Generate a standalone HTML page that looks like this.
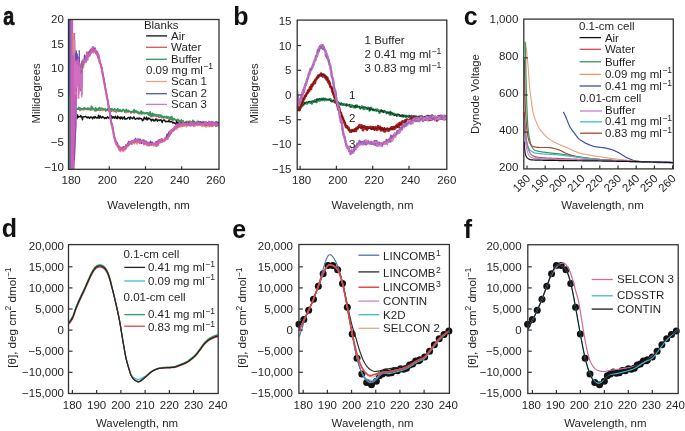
<!DOCTYPE html>
<html><head><meta charset="utf-8"><style>
html,body{margin:0;padding:0;background:#fff;}
svg{display:block;will-change:transform;}
text{font-family:"Liberation Sans", sans-serif;}
</style></head><body>
<svg width="685" height="431" viewBox="0 0 685 431">
<rect width="685" height="431" fill="#fff"/>
<text x="0" y="0" font-size="25" font-weight="bold" fill="#111" stroke="#111" stroke-width="0.7" transform="translate(3.2,24.6) scale(0.79,1)">a</text>
<text x="233.3" y="24.5" font-size="25" text-anchor="start" fill="#111" font-weight="bold" >b</text>
<text x="463.8" y="24.8" font-size="25" text-anchor="start" fill="#111" font-weight="bold" >c</text>
<text x="1.8" y="237.3" font-size="25" text-anchor="start" fill="#111" font-weight="bold" >d</text>
<text x="232.3" y="237.5" font-size="25" text-anchor="start" fill="#111" font-weight="bold" >e</text>
<text x="463.8" y="237.5" font-size="25" text-anchor="start" fill="#111" font-weight="bold" >f</text>
<clipPath id="ca"><rect x="68.5" y="19.5" width="150.5" height="149.8"/></clipPath>
<g clip-path="url(#ca)">
<path d="M77,109.53 L77.7,109.04 L78.4,109.12 L79.1,107.7 L79.8,110.68 L80.5,110.23 L81.2,109.21 L81.9,109.99 L82.6,109.65 L83.3,109.08 L84,110.16 L84.7,109.27 L85.4,109.27 L86.1,108.96 L86.8,109.85 L87.5,109.48 L88.2,109.94 L88.9,109.15 L89.6,109.68 L90.3,108.98 L91,110.21 L91.7,109.77 L92.4,109.89 L93.1,109.97 L93.8,109 L94.5,110.28 L95.2,111.2 L95.9,108.64 L96.6,108.6 L97.3,108.79 L98,110.46 L98.7,109.99 L99.4,110.69 L100.1,110.47 L100.8,110.14 L101.5,110.23 L102.2,109.94 L102.9,110.7 L103.6,109.34 L104.3,109.87 L105,110.37 L105.7,111.5 L106.4,109.74 L107.1,109.56 L107.8,109.96 L108.5,111.07 L109.2,110.27 L109.9,111.4 L110.6,109.21 L111.3,111.36 L112,111.34 L112.7,109.67 L113.4,110.81 L114.1,111.61 L114.8,110.87 L115.5,111.56 L116.2,112.57 L116.9,111.15 L117.6,110.82 L118.3,110.53 L119,111.57 L119.7,111.04 L120.4,111.11 L121.1,111.21 L121.8,111.8 L122.5,110.66 L123.2,110.39 L123.9,109.82 L124.6,112.42 L125.3,111.69 L126,112.76 L126.7,111.76 L127.4,111.31 L128.1,112.23 L128.8,111.9 L129.5,111.15 L130.2,111.47 L130.9,113.4 L131.6,112.48 L132.3,112.6 L133,112.19 L133.7,111.97 L134.4,113.15 L135.1,112.53 L135.8,112.16 L136.5,112.67 L137.2,112.22 L137.9,113.07 L138.6,113.81 L139.3,112.52 L140,114.2 L140.7,112.83 L141.4,113.5 L142.1,112.91 L142.8,113.44 L143.5,113.74 L144.2,113.52 L144.9,113.45 L145.6,113.58 L146.3,113.61 L147,113.21 L147.7,114.25 L148.4,114.85 L149.1,115.34 L149.8,115.29 L150.5,116.69 L151.2,115.33 L151.9,114.93 L152.6,116.7 L153.3,114.8 L154,116.35 L154.7,115.15 L155.4,116.21 L156.1,114.73 L156.8,116.88 L157.5,116.28 L158.2,115.86 L158.9,117.85 L159.6,117.36 L160.3,116.99 L161,116.58 L161.7,117.21 L162.4,117.26 L163.1,118.03 L163.8,118.22 L164.5,117.33 L165.2,117.56 L165.9,117.71 L166.6,117.28 L167.3,117.96 L168,118.45 L168.7,119.15 L169.4,119.74 L170.1,118.4 L170.8,119.5 L171.5,118.96 L172.2,120.89 L172.9,119.56 L173.6,120.11 L174.3,119.27 L175,119.53 L175.7,120.41 L176.4,120.18 L177.1,120.87 L177.8,119.74 L178.5,121.52 L179.2,120.68 L179.9,122.78 L180.6,121.63 L181.3,122.85 L182,121.34 L182.7,122.83 L183.4,122.09 L184.1,122.5 L184.8,122.95 L185.5,122.79 L186.2,123.27 L186.9,123.67 L187.6,123.67 L188.3,123.21 L189,122.38 L189.7,122.82 L190.4,123.3 L191.1,121.99 L191.8,124.05 L192.5,123.4 L193.2,123.43 L193.9,124.3 L194.6,124.14 L195.3,123.86 L196,123.04 L196.7,123.99 L197.4,124.04 L198.1,123.21 L198.8,124.58 L199.5,124.24 L200.2,122.53 L200.9,124.02 L201.6,123.07 L202.3,124.78 L203,124.58 L203.7,123.26 L204.4,123.44 L205.1,124.16 L205.8,123.94 L206.5,125.2 L207.2,124.68 L207.9,123.98 L208.6,124.61 L209.3,122.8 L210,124.46 L210.7,124.87 L211.4,124.15 L212.1,123.8 L212.8,124.71 L213.5,125.7 L214.2,124.48 L214.9,123.57 L215.6,125.38 L216.3,123.06 L217,124.74 L217.7,123.98 L218.4,125.05" fill="none" stroke="#e0505a" stroke-width="1.1" stroke-opacity="1.0" stroke-linejoin="round" stroke-linecap="round" />
<path d="M77,108.81 L77.6,109.24 L78.2,108.8 L78.8,107.34 L79.4,109.33 L80,108.92 L80.6,108.05 L81.2,109.06 L81.8,108.87 L82.4,108.82 L83,108.59 L83.6,109.06 L84.2,107.92 L84.8,108.45 L85.4,108.17 L86,109.16 L86.6,108.66 L87.2,108.38 L87.8,107.95 L88.4,108.43 L89,108.69 L89.6,108.44 L90.2,109.87 L90.8,109.62 L91.4,106.29 L92,107.05 L92.6,108.61 L93.2,108.41 L93.8,109 L94.4,109.02 L95,110.75 L95.6,107.87 L96.2,108.55 L96.8,110.76 L97.4,109.53 L98,109.57 L98.6,108.53 L99.2,107.54 L99.8,109.2 L100.4,109.17 L101,108 L101.6,108.52 L102.2,109.1 L102.8,108.34 L103.4,109.13 L104,109.34 L104.6,109.31 L105.2,108.85 L105.8,109.88 L106.4,110.17 L107,109.69 L107.6,108.7 L108.2,110.13 L108.8,109.06 L109.4,110.34 L110,108.62 L110.6,110.44 L111.2,109.64 L111.8,108.57 L112.4,109.46 L113,109.83 L113.6,110.07 L114.2,108.98 L114.8,108.91 L115.4,110.13 L116,109.57 L116.6,110.25 L117.2,110.77 L117.8,108.64 L118.4,110.4 L119,111.32 L119.6,110 L120.2,109.59 L120.8,111.04 L121.4,110.64 L122,111.27 L122.6,110.2 L123.2,109.23 L123.8,110.51 L124.4,110.26 L125,111.41 L125.6,110.94 L126.2,109.35 L126.8,109.8 L127.4,111.72 L128,111.59 L128.6,110.46 L129.2,111.1 L129.8,111.56 L130.4,111.63 L131,112.06 L131.6,111.56 L132.2,111.31 L132.8,111.22 L133.4,112.47 L134,109.56 L134.6,111.53 L135.2,111.75 L135.8,110.5 L136.4,112.16 L137,111.34 L137.6,112.78 L138.2,111.96 L138.8,112.75 L139.4,113.32 L140,112.64 L140.6,111.59 L141.2,111.1 L141.8,114.13 L142.4,112.54 L143,112.11 L143.6,112.95 L144.2,112.75 L144.8,113.79 L145.4,113.15 L146,113.24 L146.6,112.69 L147.2,113.87 L147.8,112.62 L148.4,114.27 L149,115.15 L149.6,112.52 L150.2,111.79 L150.8,114.69 L151.4,116.54 L152,113.47 L152.6,113.36 L153.2,115.14 L153.8,113.98 L154.4,114.4 L155,114.67 L155.6,115.58 L156.2,114.86 L156.8,115.6 L157.4,115.31 L158,114.83 L158.6,115.43 L159.2,114.98 L159.8,115.97 L160.4,115.07 L161,115.22 L161.6,117.63 L162.2,116.39 L162.8,116.51 L163.4,117.14 L164,116.42 L164.6,116.71 L165.2,117.42 L165.8,117.42 L166.4,116.24 L167,118.16 L167.6,117 L168.2,116.71 L168.8,116.98 L169.4,117.56 L170,119.51 L170.6,117.12 L171.2,118.45 L171.8,116.52 L172.4,118.58 L173,119.53 L173.6,118.64 L174.2,118.43 L174.8,119.35 L175.4,119.92 L176,120.04 L176.6,121.37 L177.2,119.94 L177.8,119.4 L178.4,120.01 L179,120.27 L179.6,120.66 L180.2,120.76 L180.8,121.16 L181.4,119.71 L182,122.17 L182.6,121.09 L183.2,120.71 L183.8,122.47 L184.4,123.17 L185,122.5 L185.6,122.27 L186.2,121.34 L186.8,124.83 L187.4,123.09 L188,121.32 L188.6,121.7 L189.2,122.52 L189.8,121.09 L190.4,122.68 L191,122.16 L191.6,123.71 L192.2,123.51 L192.8,120.24 L193.4,122.75 L194,121.29 L194.6,123.77 L195.2,122.95 L195.8,123.32 L196.4,121.9 L197,124.53 L197.6,124.72 L198.2,121.97 L198.8,123.29 L199.4,122.37 L200,122.98 L200.6,121.88 L201.2,124.73 L201.8,122.2 L202.4,122.82 L203,123.56 L203.6,122.55 L204.2,122.94 L204.8,122.67 L205.4,123.08 L206,122.16 L206.6,122.84 L207.2,123.07 L207.8,122.98 L208.4,123.35 L209,123.05 L209.6,124.01 L210.2,123.06 L210.8,123.24 L211.4,122.78 L212,122.92 L212.6,122.27 L213.2,123.89 L213.8,122.4 L214.4,122.77 L215,123.78 L215.6,123.83 L216.2,123.11 L216.8,121.66 L217.4,123.87 L218,123.73 L218.6,122.23" fill="none" stroke="#2f9a5a" stroke-width="1.6" stroke-opacity="1.0" stroke-linejoin="round" stroke-linecap="round" />
<path d="M77,118.63 L77.6,114.96 L78.2,117.35 L78.8,116.57 L79.4,116.67 L80,116.87 L80.6,115.43 L81.2,116.87 L81.8,116.37 L82.4,119.73 L83,117.26 L83.6,116.81 L84.2,116.88 L84.8,116.58 L85.4,116.28 L86,116.82 L86.6,117.53 L87.2,116.96 L87.8,117.93 L88.4,117.01 L89,117.2 L89.6,118.43 L90.2,117.64 L90.8,116.81 L91.4,117.08 L92,117.67 L92.6,118.8 L93.2,117.05 L93.8,117.08 L94.4,118.09 L95,116.59 L95.6,117.07 L96.2,118.03 L96.8,117.8 L97.4,117.42 L98,117.89 L98.6,115.11 L99.2,118.2 L99.8,116.63 L100.4,116.07 L101,117.64 L101.6,117.99 L102.2,117.09 L102.8,116.6 L103.4,117.49 L104,117.44 L104.6,118.62 L105.2,118.11 L105.8,117.68 L106.4,118.43 L107,117.39 L107.6,116.82 L108.2,118.04 L108.8,118.06 L109.4,117.43 L110,116.99 L110.6,117.81 L111.2,115.65 L111.8,118.21 L112.4,118.06 L113,116.37 L113.6,117.75 L114.2,116.94 L114.8,118.33 L115.4,116.12 L116,117.03 L116.6,118.34 L117.2,118.71 L117.8,116.08 L118.4,117.42 L119,118.1 L119.6,117.36 L120.2,119.14 L120.8,116.93 L121.4,118.18 L122,117.08 L122.6,119.06 L123.2,117.93 L123.8,117.67 L124.4,116.61 L125,119.35 L125.6,118.62 L126.2,118.64 L126.8,118.97 L127.4,118.35 L128,117.58 L128.6,117.47 L129.2,117.49 L129.8,119.25 L130.4,117.01 L131,117.72 L131.6,117.96 L132.2,118.42 L132.8,118.72 L133.4,117.28 L134,116.92 L134.6,118.33 L135.2,119.32 L135.8,118.98 L136.4,118.57 L137,118.17 L137.6,118.69 L138.2,118.28 L138.8,119.16 L139.4,117.89 L140,118.66 L140.6,118.5 L141.2,119.05 L141.8,118.82 L142.4,120.71 L143,119.9 L143.6,119.93 L144.2,117.13 L144.8,118.52 L145.4,118.33 L146,119.28 L146.6,117.07 L147.2,119.88 L147.8,119.83 L148.4,117.99 L149,118.29 L149.6,118.49 L150.2,119.22 L150.8,119.75 L151.4,120.94 L152,119.2 L152.6,120.04 L153.2,119.61 L153.8,120.96 L154.4,120.22 L155,120.79 L155.6,118.9 L156.2,119.68 L156.8,119.26 L157.4,121.19 L158,120.59 L158.6,119.9 L159.2,119.86 L159.8,120.69 L160.4,119.82 L161,119.71 L161.6,120.93 L162.2,122.59 L162.8,120.51 L163.4,120.34 L164,119.93 L164.6,119.88 L165.2,121.45 L165.8,121.8 L166.4,121.23 L167,121.59 L167.6,121.54 L168.2,121.67 L168.8,120.47 L169.4,121.45 L170,122.03 L170.6,121.44 L171.2,121.82 L171.8,121.66 L172.4,122.17 L173,123.23 L173.6,122.32 L174.2,122.62 L174.8,123.47 L175.4,123.41 L176,124.3 L176.6,121.31 L177.2,123.69 L177.8,122.64 L178.4,123.15 L179,123.73 L179.6,123.94 L180.2,123.93 L180.8,123.24 L181.4,124.42 L182,122.92 L182.6,123.05 L183.2,123.82 L183.8,122.75 L184.4,124.93 L185,124.04 L185.6,124.98 L186.2,123.23 L186.8,122.96 L187.4,123.41 L188,123.88 L188.6,122.83 L189.2,123.62 L189.8,123.31 L190.4,124.63 L191,122.82 L191.6,124.2 L192.2,122.86 L192.8,122.61 L193.4,122.82 L194,122.45 L194.6,123.53 L195.2,124.25 L195.8,123.56 L196.4,123.94 L197,124.76 L197.6,123.67 L198.2,123.62 L198.8,123.25 L199.4,122.2 L200,124.1 L200.6,122.09 L201.2,124.03 L201.8,123.5 L202.4,124.42 L203,123.47 L203.6,122.87 L204.2,123.82 L204.8,123.09 L205.4,123.4 L206,123.58 L206.6,123.45 L207.2,123.41 L207.8,122.9 L208.4,123.42 L209,121.86 L209.6,123.45 L210.2,122.62 L210.8,124.48 L211.4,124.6 L212,122.03 L212.6,123.7 L213.2,123.49 L213.8,122.75 L214.4,124.02 L215,123.23 L215.6,122.18 L216.2,123.38 L216.8,123.48 L217.4,123.68 L218,122.61 L218.6,124.09" fill="none" stroke="#111" stroke-width="1.4" stroke-opacity="1.0" stroke-linejoin="round" stroke-linecap="round" />
<path d="M78.5,74.99 L79,77.04 L79.5,75.34 L80,69.53 L80.5,68.85 L81,67.07 L81.5,68.81 L82,66.13 L82.5,67.24 L83,59.56 L83.5,67.55 L84,62.36 L84.5,63.52 L85,60.54 L85.5,59.04 L86,60.34 L86.5,60.39 L87,56.85 L87.5,56.14 L88,56.92 L88.5,53.55 L89,51.83 L89.5,54.46 L90,52.02 L90.5,49.29 L91,50.6 L91.5,50.71 L92,49.12 L92.5,48.4 L93,50.97 L93.5,52.52 L94,50.76 L94.5,50.13 L95,52.34 L95.5,53.24 L96,51.89 L96.5,53.89 L97,55.62 L97.5,54.65 L98,54.99 L98.5,58.49 L99,59.95 L99.5,63.08 L100,61.62 L100.5,64.02 L101,65.82 L101.5,67.08 L102,71.24 L102.5,74.06 L103,75.3 L103.5,79.99 L104,82.03 L104.5,84.45 L105,86.82 L105.5,90.04 L106,90.51 L106.5,95.29 L107,98.17 L107.5,98.71 L108,103.76 L108.5,106.07 L109,110.05 L109.5,111.9 L110,115.44 L110.5,118.89 L111,120.67 L111.5,124.95 L112,126.8 L112.5,129.79 L113,131.15 L113.5,135.07 L114,136.79 L114.5,138.04 L115,140.68 L115.5,142.88 L116,144.69 L116.5,142.44 L117,145.98 L117.5,146.62 L118,147.04 L118.5,147.03 L119,150.08 L119.5,148.22 L120,150.54 L120.5,151.59 L121,148.8 L121.5,150.05 L122,148.9 L122.5,150.23 L123,151.23 L123.5,151.43 L124,147.29 L124.5,148.15 L125,149.1 L125.5,149.62 L126,148.03 L126.5,146.39 L127,146.92 L127.5,146.08 L128,145.37 L128.5,144.34 L129,145.01 L129.5,144.53 L130,143.81 L130.5,143.4 L131,142.06 L131.5,142.58 L132,144 L132.5,142.35 L133,140.86 L133.5,143.41 L134,142.41 L134.5,143.82 L135,141.64 L135.5,141.01 L136,139.97 L136.5,142.72 L137,143.99 L137.5,140.64 L138,140.88 L138.5,142.2 L139,140.87 L139.5,141.53 L140,141.57 L140.5,142.23 L141,143.26 L141.5,142.3 L142,143.32 L142.5,142.11 L143,143.01 L143.5,140.73 L144,141.61 L144.5,144.06 L145,142.89 L145.5,144.27 L146,144.44 L146.5,145.41 L147,145.08 L147.5,145.44 L148,144.44 L148.5,143.95 L149,143.97 L149.5,144.25 L150,143.63 L150.5,144.25 L151,144.73 L151.5,145.09 L152,144.52 L152.5,142.95 L153,144.82 L153.5,145.12 L154,145.98 L154.5,145.44 L155,144.13 L155.5,143.89 L156,146.43 L156.5,144.95 L157,145.77 L157.5,145.8 L158,142.57 L158.5,143.5 L159,143.31 L159.5,143.17 L160,142.94 L160.5,142.42 L161,142.23 L161.5,140.4 L162,141.58 L162.5,140.83 L163,141.53 L163.5,140.73 L164,141.57 L164.5,141.47 L165,140.56 L165.5,140.1 L166,139.34 L166.5,138.23 L167,137.92 L167.5,136.99 L168,137.29 L168.5,136.31 L169,136.22 L169.5,133.62 L170,135.12 L170.5,132.74 L171,132.05 L171.5,131.89 L172,130.86 L172.5,131.11 L173,129.7 L173.5,128.75 L174,128.56 L174.5,130.32 L175,128.69 L175.5,127.14 L176,127.99 L176.5,126.13 L177,129.19 L177.5,125.62 L178,127.38 L178.5,127.21 L179,124.98 L179.5,126.49 L180,126.97 L180.5,126.23 L181,125.84 L181.5,126.37 L182,125.46 L182.5,125.56 L183,125.05 L183.5,125.77 L184,124.16 L184.5,125.87 L185,124.54 L185.5,123.93 L186,125.36 L186.5,126.67 L187,125.92 L187.5,124.42 L188,125.62 L188.5,124.46 L189,124.78 L189.5,124.99 L190,122.58 L190.5,125.09 L191,123.87 L191.5,124.2 L192,123.43 L192.5,123.38 L193,123.96 L193.5,125.73 L194,126.57 L194.5,124.87 L195,125.99 L195.5,124.64 L196,122.99 L196.5,125.05 L197,125.35 L197.5,124.47 L198,125.2 L198.5,125.47 L199,124.04 L199.5,123.42 L200,124.68 L200.5,124.69 L201,124.55 L201.5,125.89 L202,126.63 L202.5,124.49 L203,125.61 L203.5,125.86 L204,125.64 L204.5,125.98 L205,124.55 L205.5,125.69 L206,126.99 L206.5,125.78 L207,124.36 L207.5,125.6 L208,126.27 L208.5,125.39 L209,124.47 L209.5,126.59 L210,123.81 L210.5,125.58 L211,125.08 L211.5,123.91 L212,126.34 L212.5,125.49 L213,123.99 L213.5,125.78 L214,124.76 L214.5,123.31 L215,124.55 L215.5,125.52 L216,125.91 L216.5,125.46 L217,125.36 L217.5,125.81 L218,125.15 L218.5,126.56 L219,125.55" fill="none" stroke="#e8956a" stroke-width="1.7" stroke-opacity="1.0" stroke-linejoin="round" stroke-linecap="round" />
<path d="M78.5,73.28 L79,74.62 L79.5,72.49 L80,71.14 L80.5,72.23 L81,63.71 L81.5,64.1 L82,61.25 L82.5,63.42 L83,65.36 L83.5,61.82 L84,62.3 L84.5,55.19 L85,59.68 L85.5,56.07 L86,62.15 L86.5,58.95 L87,58.25 L87.5,54.79 L88,55.19 L88.5,54.55 L89,52.21 L89.5,51.35 L90,51.37 L90.5,49.92 L91,49.38 L91.5,49.42 L92,48.31 L92.5,50.64 L93,46.59 L93.5,50.79 L94,48.49 L94.5,48.86 L95,47.79 L95.5,50.18 L96,50.38 L96.5,51.69 L97,51.34 L97.5,53.56 L98,57.86 L98.5,56.99 L99,56.95 L99.5,61.23 L100,61.17 L100.5,63.67 L101,65.67 L101.5,66.82 L102,67.58 L102.5,71.58 L103,74.99 L103.5,76.63 L104,80.05 L104.5,83.2 L105,84.27 L105.5,88.71 L106,91.86 L106.5,94.15 L107,97.13 L107.5,99.98 L108,104.06 L108.5,104.91 L109,107.67 L109.5,111.34 L110,112.95 L110.5,115.4 L111,119.06 L111.5,123.12 L112,125.77 L112.5,126.16 L113,128.19 L113.5,132.07 L114,134.4 L114.5,136.57 L115,139.12 L115.5,141.25 L116,141.53 L116.5,143.02 L117,142.41 L117.5,143.37 L118,145.77 L118.5,147.1 L119,147.95 L119.5,148.47 L120,149.16 L120.5,149.5 L121,147.05 L121.5,148.01 L122,149.06 L122.5,148.99 L123,146.61 L123.5,148.98 L124,147.03 L124.5,146.9 L125,147.07 L125.5,147.19 L126,144.58 L126.5,146.52 L127,145.1 L127.5,143.73 L128,143.7 L128.5,141.29 L129,142.37 L129.5,142.8 L130,141.59 L130.5,141.69 L131,141.59 L131.5,141.51 L132,142.22 L132.5,140.91 L133,140.44 L133.5,141.02 L134,142.36 L134.5,139.77 L135,140.49 L135.5,138.3 L136,141.16 L136.5,140.46 L137,141.15 L137.5,139.8 L138,138.88 L138.5,140.89 L139,140.85 L139.5,139.34 L140,138.85 L140.5,140.89 L141,140.39 L141.5,143.29 L142,140.19 L142.5,140.4 L143,140.98 L143.5,139.6 L144,140.57 L144.5,143.31 L145,141.75 L145.5,141.48 L146,141.02 L146.5,143.07 L147,143.33 L147.5,143.08 L148,142.56 L148.5,143.35 L149,143.48 L149.5,142.45 L150,143.79 L150.5,141.08 L151,141.93 L151.5,142.94 L152,143.15 L152.5,142.11 L153,143.62 L153.5,144.35 L154,143.75 L154.5,143.49 L155,144 L155.5,143.42 L156,141.68 L156.5,142.39 L157,143.63 L157.5,140.93 L158,141.86 L158.5,141.13 L159,140.36 L159.5,140 L160,140.9 L160.5,140.93 L161,140.76 L161.5,138.85 L162,139.86 L162.5,140.33 L163,140.75 L163.5,140.27 L164,140.18 L164.5,140.15 L165,139.48 L165.5,137.36 L166,137.7 L166.5,136.36 L167,134.1 L167.5,134.2 L168,137.39 L168.5,133.58 L169,131.8 L169.5,132.76 L170,134.15 L170.5,131.86 L171,131.59 L171.5,130.21 L172,129.74 L172.5,130.48 L173,129.47 L173.5,128.13 L174,128.69 L174.5,128.49 L175,126.83 L175.5,126.97 L176,126.64 L176.5,125.41 L177,126.95 L177.5,125.37 L178,124.68 L178.5,123.39 L179,123.56 L179.5,126.12 L180,123.23 L180.5,124.59 L181,123.61 L181.5,124.33 L182,124.3 L182.5,122.84 L183,123.29 L183.5,123.64 L184,123.62 L184.5,123.45 L185,123.13 L185.5,124.05 L186,124.71 L186.5,123.91 L187,122.61 L187.5,123.73 L188,123.39 L188.5,123.78 L189,125.15 L189.5,123.09 L190,123.29 L190.5,122.41 L191,123.01 L191.5,122.73 L192,124.9 L192.5,123.6 L193,122.73 L193.5,125.23 L194,121.97 L194.5,124.16 L195,124.32 L195.5,123.87 L196,123.04 L196.5,123.17 L197,122.96 L197.5,124.09 L198,120.97 L198.5,122.79 L199,123.45 L199.5,122.72 L200,121.48 L200.5,123.06 L201,122.55 L201.5,124.1 L202,124.7 L202.5,123.38 L203,121.38 L203.5,123.13 L204,122.4 L204.5,124.02 L205,125.03 L205.5,123.67 L206,125.4 L206.5,124.89 L207,124.08 L207.5,122.53 L208,123.62 L208.5,122.08 L209,124.58 L209.5,123.69 L210,124.96 L210.5,123.9 L211,121.69 L211.5,124.3 L212,124.6 L212.5,125.35 L213,122.73 L213.5,122.8 L214,123.81 L214.5,122.71 L215,122.4 L215.5,122.7 L216,126.4 L216.5,123.19 L217,122.82 L217.5,123.4 L218,123.87 L218.5,125.18 L219,124.85" fill="none" stroke="#5a4aa8" stroke-width="1.3" stroke-opacity="1.0" stroke-linejoin="round" stroke-linecap="round" />
<path d="M78.5,78.27 L79,65.4 L79.5,73.5 L80,70.12 L80.5,71.81 L81,68.44 L81.5,70.7 L82,65.45 L82.5,63.19 L83,64.83 L83.5,63.59 L84,60.87 L84.5,60.28 L85,61.68 L85.5,60.77 L86,57.08 L86.5,56.49 L87,52.25 L87.5,59.57 L88,54.51 L88.5,56.18 L89,54.14 L89.5,55.87 L90,54.62 L90.5,52.14 L91,53.35 L91.5,49.15 L92,52.17 L92.5,47.77 L93,50.53 L93.5,51.72 L94,50.6 L94.5,49.93 L95,49.55 L95.5,50.6 L96,53.11 L96.5,53.43 L97,52.55 L97.5,52.2 L98,56.5 L98.5,54.78 L99,57.82 L99.5,59.19 L100,62.67 L100.5,63.99 L101,66.17 L101.5,68.16 L102,69.6 L102.5,73.11 L103,76.41 L103.5,77.67 L104,80.88 L104.5,82.81 L105,86.44 L105.5,88.78 L106,91.73 L106.5,94.09 L107,98.14 L107.5,99.26 L108,102.21 L108.5,104.89 L109,108.92 L109.5,110.88 L110,113.98 L110.5,118.31 L111,121.69 L111.5,123.97 L112,123.59 L112.5,127.54 L113,129.81 L113.5,132 L114,134.92 L114.5,138.96 L115,138.87 L115.5,140.06 L116,142.63 L116.5,143.17 L117,144.31 L117.5,144.63 L118,146.24 L118.5,147.53 L119,146.21 L119.5,147.13 L120,150.05 L120.5,150.15 L121,149.04 L121.5,148.53 L122,149.14 L122.5,148.02 L123,148.51 L123.5,149.99 L124,148.29 L124.5,148.88 L125,147.3 L125.5,147.47 L126,147.96 L126.5,145.03 L127,145.41 L127.5,145.06 L128,144.93 L128.5,145.58 L129,144.34 L129.5,141.97 L130,142.76 L130.5,141.92 L131,141.61 L131.5,143.99 L132,140.94 L132.5,141.85 L133,140.75 L133.5,141.95 L134,141.3 L134.5,140.93 L135,140.61 L135.5,141.6 L136,139.68 L136.5,139.85 L137,139.51 L137.5,141.76 L138,140.36 L138.5,139.77 L139,140.42 L139.5,143.15 L140,140.92 L140.5,141.9 L141,141.68 L141.5,141.37 L142,140.88 L142.5,141.33 L143,141.47 L143.5,139.98 L144,144.49 L144.5,143.2 L145,142.68 L145.5,142.61 L146,142.29 L146.5,144.04 L147,143.2 L147.5,143.95 L148,142.4 L148.5,144.09 L149,145.6 L149.5,143.57 L150,144.58 L150.5,143.93 L151,144.91 L151.5,144.9 L152,144.02 L152.5,143.47 L153,144.25 L153.5,144.04 L154,143.44 L154.5,144.38 L155,144.26 L155.5,142.92 L156,143.42 L156.5,145.92 L157,143.78 L157.5,142.86 L158,144.75 L158.5,141.81 L159,139.73 L159.5,140 L160,140.13 L160.5,141.55 L161,142.03 L161.5,139.05 L162,141.85 L162.5,139.58 L163,140.73 L163.5,140.71 L164,140.44 L164.5,139.76 L165,139.51 L165.5,137.85 L166,138.6 L166.5,138.66 L167,138.01 L167.5,138.93 L168,136.97 L168.5,136.05 L169,136.24 L169.5,134.27 L170,132.17 L170.5,130.59 L171,133.03 L171.5,131.69 L172,131.28 L172.5,129.61 L173,129.68 L173.5,130.61 L174,128.8 L174.5,127.11 L175,127.36 L175.5,128.65 L176,126.1 L176.5,124.46 L177,124.44 L177.5,125.04 L178,126.72 L178.5,125.84 L179,124.84 L179.5,124.14 L180,124.97 L180.5,124.72 L181,124.17 L181.5,124.3 L182,123.71 L182.5,125.94 L183,122.15 L183.5,124.35 L184,123.29 L184.5,124.81 L185,123.93 L185.5,124.45 L186,124.57 L186.5,124.26 L187,124.95 L187.5,122.79 L188,124.88 L188.5,123.82 L189,124.35 L189.5,125.4 L190,125.01 L190.5,125.79 L191,121.97 L191.5,123.14 L192,124.87 L192.5,122.98 L193,123.84 L193.5,125.54 L194,124.79 L194.5,123.13 L195,124.41 L195.5,124.58 L196,124.06 L196.5,123.91 L197,124.13 L197.5,122.65 L198,124.11 L198.5,123.13 L199,124.35 L199.5,124.39 L200,123.2 L200.5,124.55 L201,124.32 L201.5,123.97 L202,124.66 L202.5,123.73 L203,123.76 L203.5,124.09 L204,123.97 L204.5,125.06 L205,121.91 L205.5,123.77 L206,122.25 L206.5,123.6 L207,124.29 L207.5,124.07 L208,124.95 L208.5,124.38 L209,121.63 L209.5,123.1 L210,125.52 L210.5,125.54 L211,124.24 L211.5,122.77 L212,126.13 L212.5,122.3 L213,124.48 L213.5,124.18 L214,124.46 L214.5,123.2 L215,123.91 L215.5,125.26 L216,123.86 L216.5,123.08 L217,124.33 L217.5,124.44 L218,124.26 L218.5,123.69 L219,124.91" fill="none" stroke="#cc5fb5" stroke-width="2.0" stroke-opacity="1.0" stroke-linejoin="round" stroke-linecap="round" />
<rect x="68.5" y="19.5" width="2.4" height="150" fill="#5058a8"/>
<polygon points="70.6,19.5 73.2,19.5 73.2,33 75.2,33 75.2,50 76.4,50 76.4,125 75.5,145 74.6,169.3 70.6,169.3" fill="#cc5fb5"/>
<polygon points="73.6,40 75.6,40 76.8,60 76.8,120 75.5,120" fill="#e48ac8" opacity="0.7"/>
<rect x="68.6" y="95" width="1.1" height="74" fill="#3f9a6a"/>
<rect x="72.6" y="33" width="1.6" height="22" fill="#e8956a" opacity="0.8"/>
<path d="M76,95 L76,125 L75.1,145 L74.5,160" fill="none" stroke="#8a4aa8" stroke-width="1.0" stroke-opacity="1.0" stroke-linejoin="round" stroke-linecap="round" />
<path d="M75.3,67.55 L75.8,75.38 L76.3,63.03 L76.8,83.29 L77.3,67.23 L77.8,72.2 L78.3,63.61 L78.8,81.73 L79.3,67.73 L79.8,77.94 L80.3,72.42 L80.8,79.76 L81.3,66.61 L81.8,78.18 L82.3,65.51" fill="none" stroke="#e8956a" stroke-width="0.6" stroke-opacity="1.0" stroke-linejoin="round" stroke-linecap="round" />
<path d="M75.3,52.93 L75.8,89.01 L76.3,50.71 L76.8,82.2 L77.3,53.67 L77.8,77.18 L78.3,56.81 L78.8,79.45 L79.3,50.41 L79.8,83.67 L80.3,73.96 L80.8,91.25 L81.3,69.92 L81.8,87.06 L82.3,64.83" fill="none" stroke="#5a4aa8" stroke-width="0.9" stroke-opacity="1.0" stroke-linejoin="round" stroke-linecap="round" />
<path d="M75.3,61.25 L75.8,90.91 L76.3,60.68 L76.8,98.66 L77.3,60.05 L77.8,85.29 L78.3,58.39 L78.8,98.31 L79.3,62.67 L79.8,89.86 L80.3,70.68 L80.8,89.92 L81.3,74.04 L81.8,96.86 L82.3,69.93" fill="none" stroke="#cc5fb5" stroke-width="1.2" stroke-opacity="1.0" stroke-linejoin="round" stroke-linecap="round" />
<path d="M75.3,62.64 L75.8,88.92 L76.3,64.6 L76.8,87.4 L77.3,64.51 L77.8,86.45 L78.3,66.99 L78.8,93.7 L79.3,65.94 L79.8,82.69 L80.3,74.8 L80.8,88.85 L81.3,73.64 L81.8,94.54 L82.3,69.52" fill="none" stroke="#d070c0" stroke-width="1.0" stroke-opacity="1.0" stroke-linejoin="round" stroke-linecap="round" />
</g>
<rect x="68.5" y="19.5" width="150.5" height="149.8" fill="none" stroke="#333" stroke-width="1.3"/>
<line x1="109.3" y1="169.3" x2="109.3" y2="166.3" stroke="#333" stroke-width="1.2"/>
<line x1="145.5" y1="169.3" x2="145.5" y2="166.3" stroke="#333" stroke-width="1.2"/>
<line x1="181.7" y1="169.3" x2="181.7" y2="166.3" stroke="#333" stroke-width="1.2"/>
<text x="63.8" y="23.2" font-size="11.5" text-anchor="end" fill="#231f20" font-weight="normal" >20</text>
<text x="63.8" y="47.8" font-size="11.5" text-anchor="end" fill="#231f20" font-weight="normal" >15</text>
<text x="63.8" y="72.4" font-size="11.5" text-anchor="end" fill="#231f20" font-weight="normal" >10</text>
<text x="63.8" y="97" font-size="11.5" text-anchor="end" fill="#231f20" font-weight="normal" >5</text>
<text x="63.8" y="121.6" font-size="11.5" text-anchor="end" fill="#231f20" font-weight="normal" >0</text>
<text x="63.8" y="146.2" font-size="11.5" text-anchor="end" fill="#231f20" font-weight="normal" >−5</text>
<text x="63.8" y="170.8" font-size="11.5" text-anchor="end" fill="#231f20" font-weight="normal" >−10</text>
<text x="71.1" y="184" font-size="11.5" text-anchor="middle" fill="#231f20" font-weight="normal" >180</text>
<text x="107.3" y="184" font-size="11.5" text-anchor="middle" fill="#231f20" font-weight="normal" >200</text>
<text x="143.5" y="184" font-size="11.5" text-anchor="middle" fill="#231f20" font-weight="normal" >220</text>
<text x="179.7" y="184" font-size="11.5" text-anchor="middle" fill="#231f20" font-weight="normal" >240</text>
<text x="215.9" y="184" font-size="11.5" text-anchor="middle" fill="#231f20" font-weight="normal" >260</text>
<text x="148.6" y="208.7" font-size="11.5" text-anchor="middle" fill="#231f20" font-weight="normal" textLength="82.5" lengthAdjust="spacingAndGlyphs" >Wavelength, nm</text>
<text transform="translate(39.6,93.4) rotate(-90)" font-size="11.5" text-anchor="middle" fill="#231f20" textLength="60" lengthAdjust="spacingAndGlyphs">Millidegrees</text>
<text x="143.9" y="29.3" font-size="11.5" text-anchor="start" fill="#231f20" font-weight="normal" >Blanks</text>
<line x1="146" y1="35.9" x2="167" y2="35.9" stroke="#111" stroke-width="1.3"/>
<text x="171.1" y="40.1" font-size="11.5" text-anchor="start" fill="#231f20" font-weight="normal" >Air</text>
<line x1="146" y1="47.3" x2="167" y2="47.3" stroke="#e0505a" stroke-width="1.3"/>
<text x="171.1" y="50.9" font-size="11.5" text-anchor="start" fill="#231f20" font-weight="normal" >Water</text>
<line x1="146" y1="59.3" x2="167" y2="59.3" stroke="#2f9a5a" stroke-width="1.3"/>
<text x="171.1" y="63" font-size="11.5" text-anchor="start" fill="#231f20" font-weight="normal" >Buffer</text>
<line x1="146" y1="81.5" x2="167" y2="81.5" stroke="#e8a080" stroke-width="1.3"/>
<text x="171.1" y="85" font-size="11.5" text-anchor="start" fill="#231f20" font-weight="normal" >Scan 1</text>
<line x1="146" y1="93.7" x2="167" y2="93.7" stroke="#4a5aa8" stroke-width="1.3"/>
<text x="171.1" y="96.8" font-size="11.5" text-anchor="start" fill="#231f20" font-weight="normal" >Scan 2</text>
<line x1="146" y1="104.4" x2="167" y2="104.4" stroke="#d27ac0" stroke-width="1.3"/>
<text x="171.1" y="108.3" font-size="11.5" text-anchor="start" fill="#231f20" font-weight="normal" >Scan 3</text>
<text x="146" y="73.8" font-size="11.5" fill="#231f20" text-anchor="start">0.09 mg ml<tspan font-size="8.6" dx="0.4" dy="-4.4">−1</tspan></text>
<clipPath id="cb"><rect x="297.2" y="20.1" width="149.60000000000002" height="149.20000000000002"/></clipPath>
<g clip-path="url(#cb)">
<path d="M297,110.64 L297.5,109.98 L298,108.9 L298.5,108.87 L299,107.46 L299.5,106.16 L300,108.17 L300.5,106.9 L301,104.68 L301.5,104.95 L302,104.84 L302.5,105.12 L303,105.45 L303.5,104.42 L304,103.63 L304.5,104.05 L305,103.37 L305.5,103.48 L306,102.72 L306.5,102.19 L307,103.79 L307.5,102.54 L308,102.72 L308.5,102.1 L309,102.02 L309.5,102.05 L310,102.65 L310.5,102.94 L311,102.37 L311.5,101.5 L312,103.75 L312.5,102.27 L313,102.24 L313.5,101.09 L314,101.19 L314.5,101.66 L315,99.89 L315.5,100.43 L316,101.09 L316.5,102.33 L317,100.73 L317.5,99.51 L318,99.18 L318.5,100.53 L319,99.1 L319.5,99.28 L320,100.78 L320.5,99.37 L321,99.05 L321.5,98.76 L322,100.24 L322.5,100.25 L323,98.88 L323.5,98.39 L324,99.33 L324.5,100.41 L325,99.81 L325.5,98.69 L326,99.82 L326.5,100.18 L327,99.68 L327.5,99.87 L328,99.82 L328.5,99.53 L329,99.48 L329.5,99.06 L330,99.26 L330.5,98.99 L331,100.64 L331.5,100.82 L332,100.69 L332.5,101.13 L333,101.06 L333.5,100.69 L334,101.56 L334.5,101.42 L335,101.72 L335.5,100.62 L336,101.93 L336.5,102.82 L337,102.49 L337.5,102.34 L338,101.99 L338.5,102.84 L339,104.47 L339.5,103.2 L340,104.51 L340.5,103.56 L341,104.75 L341.5,103.75 L342,104.5 L342.5,104.79 L343,104.87 L343.5,103.88 L344,104.4 L344.5,104.13 L345,104.74 L345.5,104.69 L346,104.83 L346.5,105.53 L347,104.45 L347.5,104.71 L348,104.94 L348.5,105.26 L349,104.95 L349.5,105.95 L350,104.92 L350.5,107 L351,105.88 L351.5,106.75 L352,105.25 L352.5,105.87 L353,106.26 L353.5,107.48 L354,106.4 L354.5,107.44 L355,105.98 L355.5,107.6 L356,106.14 L356.5,105.44 L357,105.37 L357.5,106.96 L358,106.73 L358.5,107.12 L359,106.96 L359.5,107.42 L360,108.28 L360.5,107.07 L361,107.47 L361.5,107.07 L362,106.2 L362.5,107.28 L363,108.6 L363.5,107.05 L364,109.3 L364.5,108.16 L365,108.16 L365.5,108.57 L366,108 L366.5,108.1 L367,109.08 L367.5,107.72 L368,108.21 L368.5,107.56 L369,108.55 L369.5,110.7 L370,109.48 L370.5,108.09 L371,107.6 L371.5,109.32 L372,109.52 L372.5,108.71 L373,110.18 L373.5,109.64 L374,109.96 L374.5,110.11 L375,110.46 L375.5,109.49 L376,109.43 L376.5,110.99 L377,110.05 L377.5,109.42 L378,110.65 L378.5,110.18 L379,110.86 L379.5,112.97 L380,112.13 L380.5,110.69 L381,110.26 L381.5,111.24 L382,110.7 L382.5,111.65 L383,111.81 L383.5,112.19 L384,111.84 L384.5,110.99 L385,111.98 L385.5,112.24 L386,112.48 L386.5,113.28 L387,111.84 L387.5,112.58 L388,112.4 L388.5,112.36 L389,113.52 L389.5,112.77 L390,114.69 L390.5,111.71 L391,114.64 L391.5,113.55 L392,112.98 L392.5,114.09 L393,114.17 L393.5,114.89 L394,115.2 L394.5,113.9 L395,114.54 L395.5,114.88 L396,114.88 L396.5,114.6 L397,115.87 L397.5,115.21 L398,114.15 L398.5,115.34 L399,115.04 L399.5,115.08 L400,115.94 L400.5,115.88 L401,115.69 L401.5,115.85 L402,116.23 L402.5,115.25 L403,115.82 L403.5,116.69 L404,115.45 L404.5,115.6 L405,115.55 L405.5,116.77 L406,115.75 L406.5,116.89 L407,115.9 L407.5,116.38 L408,116.51 L408.5,115.97 L409,115.69 L409.5,117.11 L410,116.2 L410.5,116.88 L411,117.02 L411.5,115.59 L412,117.5 L412.5,116.77 L413,116.5 L413.5,116.48 L414,116.44 L414.5,116.99 L415,118.3 L415.5,116.8 L416,116.12 L416.5,116.74 L417,118.41 L417.5,117.03 L418,118.36 L418.5,116.49 L419,116.5 L419.5,116.26 L420,116.43 L420.5,117.06 L421,117.21 L421.5,115.91 L422,116.44 L422.5,116.62 L423,116.92 L423.5,118.17 L424,118.29 L424.5,117.55 L425,117.8 L425.5,116.69 L426,117.52 L426.5,116.07 L427,117.27 L427.5,117.53 L428,117.93 L428.5,117.26 L429,117.28 L429.5,116.67 L430,115.81 L430.5,116.94 L431,116.06 L431.5,117.14 L432,117.21 L432.5,116.47 L433,116.18 L433.5,117.34 L434,117.07 L434.5,117.8 L435,118.13 L435.5,118.66 L436,118.22 L436.5,116.92 L437,117.52 L437.5,119.06 L438,116.99 L438.5,117.36 L439,118.55 L439.5,118.05 L440,117.21 L440.5,117.9 L441,117.24 L441.5,118.3 L442,117.6 L442.5,117.73 L443,117.84 L443.5,116.31 L444,117.6 L444.5,118 L445,117.78 L445.5,117.36 L446,117.68 L446.5,118.77 L447,118.22" fill="none" stroke="#2f9a5a" stroke-width="2.2" stroke-opacity="1.0" stroke-linejoin="round" stroke-linecap="round" />
<path d="M297,109.64 L297.5,109.69 L298,109.47 L298.5,107.53 L299,108.61 L299.5,107.67 L300,107.7 L300.5,106.81 L301,107.17 L301.5,104.85 L302,106.88 L302.5,105.97 L303,103.98 L303.5,104.8 L304,104.33 L304.5,102.15 L305,104.07 L305.5,102.83 L306,102.96 L306.5,102.49 L307,102.51 L307.5,102.82 L308,102.72 L308.5,101.11 L309,102.16 L309.5,101.09 L310,101.05 L310.5,101.78 L311,102.76 L311.5,102.46 L312,101.24 L312.5,101.05 L313,100.84 L313.5,101.6 L314,102.2 L314.5,101.25 L315,101.73 L315.5,101.26 L316,102.17 L316.5,98.83 L317,98.52 L317.5,100.06 L318,100.61 L318.5,99.47 L319,100.05 L319.5,98.46 L320,98.27 L320.5,98.68 L321,100.06 L321.5,99.93 L322,98.67 L322.5,99.49 L323,98.77 L323.5,99.4 L324,98.41 L324.5,99.41 L325,98.83 L325.5,99.5 L326,99 L326.5,98.9 L327,99.8 L327.5,99.45 L328,99.84 L328.5,99.51 L329,100.5 L329.5,99.28 L330,100.79 L330.5,101.4 L331,100.09 L331.5,102.06 L332,102.48 L332.5,101.23 L333,99.8 L333.5,99.78 L334,101.28 L334.5,103.26 L335,102.4 L335.5,102.79 L336,102.1 L336.5,101.88 L337,103.1 L337.5,101.97 L338,102.98 L338.5,103.81 L339,103.55 L339.5,104.14 L340,103.4 L340.5,104.46 L341,104.4 L341.5,102.66 L342,103.32 L342.5,103.71 L343,105.06 L343.5,104.84 L344,104.91 L344.5,104.91 L345,105.42 L345.5,105.79 L346,104.52 L346.5,103.68 L347,105.79 L347.5,105.09 L348,105.4 L348.5,105.28 L349,104.52 L349.5,104.24 L350,106.55 L350.5,106.75 L351,106.69 L351.5,106.12 L352,106.25 L352.5,105.71 L353,106.22 L353.5,105.87 L354,105.82 L354.5,106.57 L355,107.98 L355.5,104.83 L356,107.13 L356.5,107.27 L357,105.63 L357.5,107.07 L358,106.95 L358.5,106.51 L359,106.54 L359.5,105.79 L360,108.66 L360.5,109.3 L361,108.68 L361.5,107.06 L362,107.64 L362.5,107.79 L363,106.79 L363.5,107.36 L364,108.14 L364.5,107.35 L365,106.22 L365.5,106.73 L366,108.18 L366.5,107.72 L367,107.83 L367.5,109.4 L368,108.34 L368.5,107.7 L369,108.37 L369.5,110.45 L370,107.59 L370.5,110.3 L371,110.08 L371.5,108.74 L372,108.68 L372.5,110.36 L373,109.41 L373.5,108.81 L374,111.04 L374.5,109.67 L375,109.92 L375.5,109.77 L376,109.58 L376.5,110.08 L377,109.75 L377.5,110.66 L378,111.27 L378.5,111.42 L379,111.63 L379.5,112.03 L380,111.49 L380.5,110.38 L381,111.91 L381.5,109.68 L382,110.65 L382.5,111.67 L383,110.02 L383.5,112.97 L384,110.85 L384.5,110.54 L385,111.31 L385.5,111.43 L386,112.21 L386.5,112.22 L387,113.41 L387.5,112.46 L388,112.9 L388.5,111.98 L389,113.45 L389.5,112.44 L390,111.52 L390.5,114.58 L391,112.58 L391.5,112.68 L392,113 L392.5,114.5 L393,112.67 L393.5,113.8 L394,114.79 L394.5,116.09 L395,114.23 L395.5,114.65 L396,113.91 L396.5,116.57 L397,114.75 L397.5,114.9 L398,115.16 L398.5,114.28 L399,115.16 L399.5,114.11 L400,116.65 L400.5,115.25 L401,115.3 L401.5,116.57 L402,114.48 L402.5,116.9 L403,117.08 L403.5,115.08 L404,116.45 L404.5,115.8 L405,116.74 L405.5,116.04 L406,115.25 L406.5,116.68 L407,115.97 L407.5,116.38 L408,117.15 L408.5,117.41 L409,116.93 L409.5,115.13 L410,117.08 L410.5,116.23 L411,117.51 L411.5,116.41 L412,117.91 L412.5,117.12 L413,116.7 L413.5,117 L414,115.18 L414.5,117.31 L415,116.93 L415.5,115.87 L416,117.25 L416.5,117.19 L417,117.25 L417.5,116.85 L418,117.69 L418.5,117.72 L419,117.11 L419.5,116.99 L420,116.66 L420.5,116.56 L421,117.66 L421.5,116.64 L422,115.89 L422.5,117.4 L423,118.2 L423.5,116.98 L424,118.03 L424.5,117.7 L425,116.38 L425.5,117.6 L426,117.23 L426.5,117.96 L427,114.86 L427.5,118.13 L428,118.07 L428.5,116.59 L429,118.4 L429.5,117.32 L430,117.64 L430.5,118.27 L431,118.72 L431.5,117.68 L432,118.16 L432.5,117.96 L433,116.92 L433.5,119.07 L434,118.31 L434.5,117.76 L435,118.61 L435.5,118.14 L436,117.17 L436.5,118.58 L437,117.75 L437.5,118.26 L438,118.58 L438.5,118.58 L439,119.43 L439.5,117.93 L440,117.61 L440.5,117.11 L441,117.21 L441.5,118.39 L442,118.17 L442.5,117.02 L443,117.26 L443.5,117.42 L444,119.22 L444.5,116.98 L445,118.15 L445.5,116.37 L446,117.63 L446.5,119.08 L447,116.71" fill="none" stroke="#111" stroke-width="0.8" stroke-opacity="0.8" stroke-linejoin="round" stroke-linecap="round" />
<path d="M297,104.4 L297.5,106.15 L298,109.37 L298.5,109.93 L299,108.29 L299.5,110.12 L300,107.88 L300.5,107.3 L301,107.34 L301.5,104.7 L302,102.22 L302.5,101.46 L303,102 L303.5,98.4 L304,99.06 L304.5,98.19 L305,95.74 L305.5,96.17 L306,95.69 L306.5,93.53 L307,93 L307.5,93.22 L308,90.59 L308.5,90.22 L309,91.27 L309.5,89.62 L310,87.32 L310.5,87.95 L311,89.07 L311.5,84.8 L312,86.33 L312.5,85.47 L313,83.75 L313.5,83.76 L314,81.74 L314.5,83.24 L315,82.74 L315.5,79.49 L316,79.49 L316.5,79.13 L317,77.66 L317.5,77.92 L318,75.84 L318.5,76.82 L319,75.37 L319.5,75.14 L320,75.29 L320.5,75.51 L321,73.52 L321.5,75.32 L322,75.52 L322.5,74.68 L323,76.55 L323.5,74.51 L324,75.03 L324.5,76.29 L325,75.58 L325.5,78.04 L326,77.27 L326.5,79.4 L327,77.4 L327.5,78.41 L328,81.69 L328.5,80.35 L329,83.54 L329.5,82.7 L330,84.87 L330.5,86.94 L331,86.94 L331.5,87.14 L332,89.12 L332.5,92.1 L333,92.52 L333.5,94.45 L334,95.34 L334.5,97.13 L335,98.25 L335.5,99.02 L336,102.11 L336.5,103.19 L337,102.33 L337.5,105.5 L338,107.57 L338.5,109.6 L339,107.38 L339.5,109.94 L340,111.56 L340.5,113.04 L341,112.93 L341.5,115.53 L342,115.99 L342.5,117.71 L343,118.47 L343.5,120.51 L344,121.02 L344.5,122.87 L345,123.57 L345.5,125.56 L346,127.19 L346.5,126.22 L347,126.38 L347.5,127.69 L348,128.14 L348.5,127.7 L349,129.97 L349.5,129.91 L350,131.6 L350.5,130.67 L351,131.72 L351.5,131.52 L352,130.19 L352.5,130.27 L353,129.98 L353.5,129.94 L354,131.09 L354.5,129.62 L355,129.58 L355.5,129 L356,130.91 L356.5,128.79 L357,128.59 L357.5,127.46 L358,128.15 L358.5,126.77 L359,126.59 L359.5,125.02 L360,125.34 L360.5,127.18 L361,127.78 L361.5,125.39 L362,127.27 L362.5,127.35 L363,130.27 L363.5,126.3 L364,126.69 L364.5,126.37 L365,128.3 L365.5,128.57 L366,127.31 L366.5,129.15 L367,129.78 L367.5,127.27 L368,128.34 L368.5,127.65 L369,127.26 L369.5,127.48 L370,127.76 L370.5,126.77 L371,128.02 L371.5,128.96 L372,127.27 L372.5,127.74 L373,127.4 L373.5,128.73 L374,128.3 L374.5,129.38 L375,128.18 L375.5,127.07 L376,129.14 L376.5,128.33 L377,129.82 L377.5,129.44 L378,126.15 L378.5,126.85 L379,128.9 L379.5,128.17 L380,126.73 L380.5,128.48 L381,130.35 L381.5,129.74 L382,128.27 L382.5,129.48 L383,130.25 L383.5,129.09 L384,131.09 L384.5,128.64 L385,131.48 L385.5,130.94 L386,129.95 L386.5,129.68 L387,129.5 L387.5,128.55 L388,130.47 L388.5,130.77 L389,130.26 L389.5,129.7 L390,129.43 L390.5,128.25 L391,128.35 L391.5,127.36 L392,129.06 L392.5,127.43 L393,128.9 L393.5,127.11 L394,128.9 L394.5,128.75 L395,128.41 L395.5,127.72 L396,125.97 L396.5,125.67 L397,124.97 L397.5,125.77 L398,126.87 L398.5,123.86 L399,127.1 L399.5,123.84 L400,122.96 L400.5,124.18 L401,124.63 L401.5,122.9 L402,121.95 L402.5,124.44 L403,121.3 L403.5,123.13 L404,122.02 L404.5,121.24 L405,121.43 L405.5,120.07 L406,119.85 L406.5,121.09 L407,119.58 L407.5,119.71 L408,121.8 L408.5,122.01 L409,121.19 L409.5,120.85 L410,119.58 L410.5,119.81 L411,118.87 L411.5,116.69 L412,119.59 L412.5,119.52 L413,120.19 L413.5,117.93 L414,120.2 L414.5,118.44 L415,117.68 L415.5,118.61 L416,119.75 L416.5,118.77 L417,119.19 L417.5,117.84 L418,119.16 L418.5,119.64 L419,117.74 L419.5,119.02 L420,117.22 L420.5,118.77 L421,117.02 L421.5,118.89 L422,118.45 L422.5,117.31 L423,118.77 L423.5,117.4 L424,118.44 L424.5,117.42 L425,118.85 L425.5,117.73 L426,119.7 L426.5,118.7 L427,118.76 L427.5,116.87 L428,116.1 L428.5,117.37 L429,119.96 L429.5,117.19 L430,119.33 L430.5,119.35 L431,117.49 L431.5,117.85 L432,119.35 L432.5,117.77 L433,117.61 L433.5,117.42 L434,118.06 L434.5,117.86 L435,119.19 L435.5,118.18 L436,119.11 L436.5,117.81 L437,120.41 L437.5,117.78 L438,117.74 L438.5,117.08 L439,116.18 L439.5,117 L440,118.07 L440.5,116.86 L441,118.67 L441.5,116.21 L442,116.16 L442.5,118.13 L443,118.2 L443.5,116.69 L444,118.89 L444.5,119.19 L445,118.17 L445.5,116.53 L446,119.05 L446.5,117.52 L447,117.63" fill="none" stroke="#a82020" stroke-width="2.6" stroke-opacity="1.0" stroke-linejoin="round" stroke-linecap="round" />
<path d="M297,103.96 L297.5,105.58 L298,111.1 L298.5,110.33 L299,110.44 L299.5,108.93 L300,108.03 L300.5,106.98 L301,105.68 L301.5,103.88 L302,103.85 L302.5,102.58 L303,100.87 L303.5,99.21 L304,98 L304.5,96.91 L305,97.14 L305.5,95.68 L306,95.92 L306.5,93.5 L307,94.13 L307.5,92.7 L308,91.37 L308.5,92.04 L309,90.45 L309.5,90.24 L310,89.72 L310.5,88.38 L311,86.69 L311.5,86.48 L312,86.41 L312.5,84.15 L313,84.42 L313.5,82.98 L314,81.98 L314.5,81.19 L315,80.04 L315.5,80.13 L316,80.05 L316.5,77.22 L317,77.92 L317.5,77.75 L318,76.52 L318.5,76.9 L319,74.94 L319.5,75.82 L320,75.53 L320.5,74.92 L321,73.82 L321.5,76.1 L322,74.4 L322.5,75.24 L323,74.12 L323.5,74.62 L324,75.9 L324.5,74.65 L325,76.64 L325.5,78.18 L326,75.79 L326.5,77.4 L327,79.19 L327.5,79.02 L328,81.06 L328.5,81.52 L329,80.93 L329.5,81.17 L330,84.34 L330.5,86.55 L331,86.21 L331.5,89.35 L332,88.14 L332.5,91.5 L333,92.12 L333.5,93.6 L334,94.9 L334.5,96.2 L335,98.32 L335.5,99 L336,102.35 L336.5,101.91 L337,104.8 L337.5,104.5 L338,105.37 L338.5,108.19 L339,109.02 L339.5,109.86 L340,112.56 L340.5,111.57 L341,114.45 L341.5,115.3 L342,117.93 L342.5,116.77 L343,118.66 L343.5,119.72 L344,120.6 L344.5,121.2 L345,123.43 L345.5,124.37 L346,124.66 L346.5,126.06 L347,125.55 L347.5,129.16 L348,129.1 L348.5,129.52 L349,130.56 L349.5,130.07 L350,130.09 L350.5,130.28 L351,130.09 L351.5,130.32 L352,131.61 L352.5,130.14 L353,131.72 L353.5,130.74 L354,131.95 L354.5,129.65 L355,129.34 L355.5,129.23 L356,127.55 L356.5,129.81 L357,129.14 L357.5,128.43 L358,128 L358.5,128.39 L359,126.46 L359.5,127.38 L360,127.32 L360.5,127.71 L361,128.35 L361.5,127.5 L362,126.43 L362.5,127.67 L363,127.02 L363.5,127.39 L364,126.48 L364.5,127.2 L365,127.46 L365.5,127.3 L366,128.06 L366.5,129.3 L367,127.68 L367.5,126.97 L368,127.56 L368.5,128.88 L369,128 L369.5,128.88 L370,128.21 L370.5,128.98 L371,127.77 L371.5,129.36 L372,128.46 L372.5,128.83 L373,129.6 L373.5,126.44 L374,129.69 L374.5,130.65 L375,128.34 L375.5,128.08 L376,128.45 L376.5,129.27 L377,128.61 L377.5,127.66 L378,127.88 L378.5,127.32 L379,128.23 L379.5,128.05 L380,127.46 L380.5,129.29 L381,128.93 L381.5,129.55 L382,127.21 L382.5,129.95 L383,130.55 L383.5,128.79 L384,127.96 L384.5,127.45 L385,130.13 L385.5,129.21 L386,129.69 L386.5,129.18 L387,127.85 L387.5,128.87 L388,129.3 L388.5,128.59 L389,129.6 L389.5,128.62 L390,130.01 L390.5,127.25 L391,129.26 L391.5,128.68 L392,129.27 L392.5,129.42 L393,128.5 L393.5,127.92 L394,126.85 L394.5,128.06 L395,126.87 L395.5,126.87 L396,126.14 L396.5,126.09 L397,125.07 L397.5,127.72 L398,125.34 L398.5,124.57 L399,124.28 L399.5,124.71 L400,123.71 L400.5,124.51 L401,123.59 L401.5,123.51 L402,123.98 L402.5,122.98 L403,122.78 L403.5,122.63 L404,123.12 L404.5,121.55 L405,122.49 L405.5,121.84 L406,121.41 L406.5,119.69 L407,120.8 L407.5,119.24 L408,119.81 L408.5,119.96 L409,119.64 L409.5,118.75 L410,120.65 L410.5,119.51 L411,120.79 L411.5,119.48 L412,117.75 L412.5,120.56 L413,120.05 L413.5,120.61 L414,118.74 L414.5,117.09 L415,119.01 L415.5,117.86 L416,117.99 L416.5,117.76 L417,117.63 L417.5,119.6 L418,117.64 L418.5,116.56 L419,120.18 L419.5,117.82 L420,117.47 L420.5,119.26 L421,118.68 L421.5,116.94 L422,119.27 L422.5,119.13 L423,118.69 L423.5,116.69 L424,118.28 L424.5,116.57 L425,118.42 L425.5,118.75 L426,118.98 L426.5,117.39 L427,119.43 L427.5,117.99 L428,117.84 L428.5,117.41 L429,118.5 L429.5,118.6 L430,118 L430.5,117.36 L431,119.22 L431.5,118.25 L432,118.76 L432.5,118.51 L433,118.09 L433.5,117.35 L434,117.42 L434.5,117.61 L435,115.65 L435.5,117.31 L436,118.7 L436.5,117.96 L437,116.58 L437.5,118.23 L438,117.47 L438.5,118.78 L439,117.62 L439.5,117.04 L440,117.93 L440.5,117.53 L441,118.35 L441.5,117.24 L442,118.91 L442.5,117.53 L443,116.64 L443.5,117.22 L444,117.4 L444.5,118.57 L445,118.16 L445.5,117.73 L446,118.55 L446.5,118.12 L447,118.63" fill="none" stroke="#701010" stroke-width="1.0" stroke-opacity="1.0" stroke-linejoin="round" stroke-linecap="round" />
<path d="M297,90.67 L297.5,95.5 L298,98.68 L298.5,101.65 L299,104.84 L299.5,103.06 L300,101.95 L300.5,100.01 L301,97.34 L301.5,96.85 L302,95.87 L302.5,93.75 L303,91.67 L303.5,89.62 L304,91.76 L304.5,87.49 L305,86.03 L305.5,83.9 L306,84.29 L306.5,82.46 L307,79.83 L307.5,78.93 L308,77.8 L308.5,75.54 L309,73.29 L309.5,72.74 L310,71.99 L310.5,69.28 L311,68.52 L311.5,68.75 L312,68.15 L312.5,66.68 L313,64.96 L313.5,64.88 L314,61.85 L314.5,61.08 L315,59.74 L315.5,59.77 L316,56.47 L316.5,55.4 L317,56.43 L317.5,52.62 L318,49.82 L318.5,51.71 L319,50.75 L319.5,47.34 L320,46.35 L320.5,46.02 L321,46.59 L321.5,47.96 L322,47.8 L322.5,45.21 L323,48.74 L323.5,46.57 L324,48.7 L324.5,49.49 L325,50.45 L325.5,50.85 L326,55.93 L326.5,54.6 L327,57.51 L327.5,56.36 L328,59.26 L328.5,59.45 L329,62.13 L329.5,64.56 L330,64.44 L330.5,67.6 L331,70.72 L331.5,74.18 L332,76.81 L332.5,77.74 L333,79.83 L333.5,83.38 L334,87.28 L334.5,90.22 L335,90.14 L335.5,92.05 L336,96.13 L336.5,99.56 L337,102.94 L337.5,102.86 L338,105.83 L338.5,109.59 L339,109.85 L339.5,114.09 L340,117.31 L340.5,119.1 L341,122.32 L341.5,122.29 L342,123.37 L342.5,129.52 L343,131.24 L343.5,134.65 L344,135.86 L344.5,136.71 L345,139.58 L345.5,141.59 L346,142.96 L346.5,145.62 L347,147.3 L347.5,147.5 L348,147.05 L348.5,147.15 L349,150.57 L349.5,151.18 L350,150.89 L350.5,153.92 L351,151.26 L351.5,152.63 L352,152.33 L352.5,150.61 L353,152.61 L353.5,151.12 L354,150.37 L354.5,147.7 L355,147.59 L355.5,146.45 L356,146.86 L356.5,146.55 L357,146.89 L357.5,143.57 L358,145.19 L358.5,144.7 L359,145.05 L359.5,140.88 L360,144.24 L360.5,141.86 L361,143.11 L361.5,142.4 L362,141.91 L362.5,144.02 L363,143.64 L363.5,144.06 L364,142.93 L364.5,141.01 L365,143.51 L365.5,143.1 L366,144.39 L366.5,142.9 L367,141.86 L367.5,143.09 L368,141.48 L368.5,142.32 L369,142.53 L369.5,143.15 L370,142.57 L370.5,141.94 L371,143.28 L371.5,143.89 L372,143.64 L372.5,143.66 L373,142.86 L373.5,144.03 L374,142.42 L374.5,141.18 L375,142.89 L375.5,144.83 L376,141.64 L376.5,140.93 L377,145.67 L377.5,142.37 L378,144.83 L378.5,143.31 L379,145.29 L379.5,142.84 L380,143.04 L380.5,144.43 L381,143.81 L381.5,144.66 L382,145.67 L382.5,143.07 L383,143.25 L383.5,142.87 L384,142.26 L384.5,143.52 L385,141.91 L385.5,142.56 L386,143.48 L386.5,140.03 L387,140.86 L387.5,140.8 L388,140.32 L388.5,141.75 L389,140.84 L389.5,140.16 L390,139 L390.5,141.58 L391,135.64 L391.5,136.34 L392,137.83 L392.5,139.14 L393,136.69 L393.5,137.18 L394,134.91 L394.5,136.01 L395,134.97 L395.5,135.55 L396,134.04 L396.5,133.2 L397,133.14 L397.5,130.91 L398,132.59 L398.5,132.9 L399,130.76 L399.5,132.37 L400,130.95 L400.5,128.57 L401,130.18 L401.5,127.83 L402,129.44 L402.5,126.03 L403,126.39 L403.5,123.87 L404,125.49 L404.5,124.3 L405,123.87 L405.5,125.76 L406,125.28 L406.5,125.28 L407,123.16 L407.5,124.09 L408,120.59 L408.5,121.06 L409,122.18 L409.5,121.69 L410,121.14 L410.5,123.06 L411,123.57 L411.5,120.99 L412,122.65 L412.5,120.61 L413,120.03 L413.5,121.65 L414,120.68 L414.5,118.42 L415,120.15 L415.5,121.02 L416,117.85 L416.5,118.76 L417,119.77 L417.5,118.05 L418,118.23 L418.5,120.55 L419,121.11 L419.5,118.63 L420,118.3 L420.5,118.42 L421,116.66 L421.5,118.81 L422,119.26 L422.5,119.64 L423,121.04 L423.5,117.54 L424,119.91 L424.5,118.74 L425,118.03 L425.5,119.43 L426,118.23 L426.5,117.52 L427,119.23 L427.5,117.64 L428,118.64 L428.5,119.15 L429,118.61 L429.5,116.91 L430,119.04 L430.5,119.36 L431,116.98 L431.5,116.89 L432,115.25 L432.5,117.61 L433,116.25 L433.5,118.02 L434,118.26 L434.5,119.24 L435,117.37 L435.5,117.07 L436,118.35 L436.5,117.28 L437,117.96 L437.5,118.39 L438,116.32 L438.5,119.45 L439,117.49 L439.5,119.03 L440,118.92 L440.5,116.79 L441,115.61 L441.5,118.64 L442,118.92 L442.5,117.04 L443,117.39 L443.5,116.98 L444,117.96 L444.5,115.63 L445,117.14 L445.5,118.45 L446,118.23 L446.5,116.15 L447,119.3" fill="none" stroke="#a060c0" stroke-width="2.4" stroke-opacity="1.0" stroke-linejoin="round" stroke-linecap="round" />
<path d="M297,90.63 L297.5,96.77 L298,100.38 L298.5,102.82 L299,105.24 L299.5,102.9 L300,99.81 L300.5,99.93 L301,99 L301.5,97.15 L302,94.28 L302.5,91.13 L303,94.84 L303.5,91.08 L304,90.37 L304.5,87.67 L305,86 L305.5,86.24 L306,85.06 L306.5,81.2 L307,80.06 L307.5,78.3 L308,76.26 L308.5,75.02 L309,74.38 L309.5,70.99 L310,74.31 L310.5,68.73 L311,68.75 L311.5,70.18 L312,66.38 L312.5,65.81 L313,65.38 L313.5,65.54 L314,61.29 L314.5,63.02 L315,58.66 L315.5,61.02 L316,58.76 L316.5,56.63 L317,54.17 L317.5,55.11 L318,53.12 L318.5,52.37 L319,48.05 L319.5,48.46 L320,47.85 L320.5,47.49 L321,44.54 L321.5,44.61 L322,47.28 L322.5,46.34 L323,47.3 L323.5,46.15 L324,48.54 L324.5,48.5 L325,49.47 L325.5,50.81 L326,53.83 L326.5,52.63 L327,53.69 L327.5,56.1 L328,58.88 L328.5,60.77 L329,62.41 L329.5,64.49 L330,64.71 L330.5,67.12 L331,72.07 L331.5,72.68 L332,75.95 L332.5,77.18 L333,81.52 L333.5,82.06 L334,85.68 L334.5,88.62 L335,91.35 L335.5,94.95 L336,97.67 L336.5,100.23 L337,101.5 L337.5,102.98 L338,105.88 L338.5,107.75 L339,109.6 L339.5,114.97 L340,113.88 L340.5,118.56 L341,119.5 L341.5,120.33 L342,127.36 L342.5,126.95 L343,128.76 L343.5,135.6 L344,135.05 L344.5,137.95 L345,141.8 L345.5,140.54 L346,142.35 L346.5,146.06 L347,147.2 L347.5,146.91 L348,147.08 L348.5,148.02 L349,151.11 L349.5,152.72 L350,153.14 L350.5,152.47 L351,152.43 L351.5,149.1 L352,151.55 L352.5,150.66 L353,152.65 L353.5,150.28 L354,150.05 L354.5,149.36 L355,148.89 L355.5,148.29 L356,149.63 L356.5,148.28 L357,146.45 L357.5,144.49 L358,147.03 L358.5,145.52 L359,144.18 L359.5,143.09 L360,142.31 L360.5,144.64 L361,144.53 L361.5,143.14 L362,142.94 L362.5,145.04 L363,143.38 L363.5,142.47 L364,141.75 L364.5,143.73 L365,143.56 L365.5,141.23 L366,139.83 L366.5,143.35 L367,143.35 L367.5,143.85 L368,143.41 L368.5,140.38 L369,143.9 L369.5,142.07 L370,144.37 L370.5,142.93 L371,142.12 L371.5,141.16 L372,141.91 L372.5,143.01 L373,142.43 L373.5,144.23 L374,142.81 L374.5,143.41 L375,142.32 L375.5,142.49 L376,142.79 L376.5,142.49 L377,145.1 L377.5,145.81 L378,143.36 L378.5,143.72 L379,145.77 L379.5,144.95 L380,145.15 L380.5,142.83 L381,146.38 L381.5,144.38 L382,144.17 L382.5,143.21 L383,143.2 L383.5,143.01 L384,142.53 L384.5,142.94 L385,143.34 L385.5,141.32 L386,141.52 L386.5,142.38 L387,141.75 L387.5,144.68 L388,139.39 L388.5,141.08 L389,139.6 L389.5,139.48 L390,139.2 L390.5,138.84 L391,139.54 L391.5,138.63 L392,139.07 L392.5,141 L393,138.29 L393.5,136.58 L394,137.84 L394.5,132.38 L395,137.06 L395.5,137.19 L396,134.58 L396.5,134.5 L397,133.35 L397.5,131.87 L398,133.41 L398.5,132.65 L399,130.99 L399.5,132.48 L400,129.13 L400.5,130.99 L401,130.11 L401.5,129.31 L402,128.7 L402.5,128.06 L403,125.54 L403.5,123.89 L404,126.06 L404.5,127.44 L405,125.37 L405.5,125.22 L406,124.77 L406.5,124.38 L407,123.99 L407.5,124.05 L408,120.57 L408.5,122.85 L409,120.66 L409.5,123.43 L410,120.03 L410.5,120.75 L411,122.21 L411.5,120.8 L412,121.57 L412.5,119.52 L413,123.7 L413.5,120.3 L414,118.78 L414.5,121.24 L415,119.23 L415.5,119.97 L416,119.64 L416.5,120.02 L417,119.56 L417.5,121.46 L418,120.68 L418.5,118.32 L419,120.18 L419.5,118.85 L420,118.86 L420.5,118.46 L421,117.45 L421.5,119.61 L422,117.94 L422.5,119 L423,120.23 L423.5,117.35 L424,118.36 L424.5,118.69 L425,118.04 L425.5,118.09 L426,117.46 L426.5,116.09 L427,118.44 L427.5,120.86 L428,117.25 L428.5,118.77 L429,118.45 L429.5,117.43 L430,117.81 L430.5,119.19 L431,118.09 L431.5,117.97 L432,119.02 L432.5,117.57 L433,116.7 L433.5,117.66 L434,117.34 L434.5,117.86 L435,120.81 L435.5,116.87 L436,116.89 L436.5,118.84 L437,119.17 L437.5,117.12 L438,117.51 L438.5,116.66 L439,118.83 L439.5,117.63 L440,118.06 L440.5,116.58 L441,117.96 L441.5,117.46 L442,117.91 L442.5,117.92 L443,115.23 L443.5,116 L444,119.91 L444.5,117.65 L445,118.57 L445.5,117.69 L446,117.49 L446.5,118.44 L447,117.29" fill="none" stroke="#e07cbc" stroke-width="1.5" stroke-opacity="1.0" stroke-linejoin="round" stroke-linecap="round" />
<path d="M297,92.99 L297.5,95.34 L298,97.55 L298.5,102.66 L299,104.55 L299.5,103.47 L300,98.7 L300.5,98.31 L301,99.1 L301.5,98.29 L302,93.36 L302.5,94.67 L303,93.55 L303.5,91.1 L304,88.34 L304.5,87.73 L305,86.59 L305.5,86.23 L306,84.91 L306.5,81.25 L307,80.62 L307.5,79.1 L308,77.37 L308.5,77.06 L309,74.22 L309.5,73.01 L310,70.1 L310.5,70.61 L311,68.19 L311.5,70.11 L312,67.05 L312.5,65.96 L313,64.74 L313.5,62.22 L314,61.89 L314.5,61.32 L315,61 L315.5,58.98 L316,55.93 L316.5,55.73 L317,54.39 L317.5,51.34 L318,52.59 L318.5,51.67 L319,48.6 L319.5,50.83 L320,47.8 L320.5,46.11 L321,48.64 L321.5,45.89 L322,46.81 L322.5,44.81 L323,45.79 L323.5,49.4 L324,47.28 L324.5,48.64 L325,50.6 L325.5,51.3 L326,52.04 L326.5,53.5 L327,55.68 L327.5,58.83 L328,59.39 L328.5,62.51 L329,60.66 L329.5,63.56 L330,65.67 L330.5,68.25 L331,71 L331.5,70.96 L332,77.22 L332.5,78.31 L333,80.44 L333.5,83.87 L334,85.62 L334.5,87.59 L335,91.25 L335.5,92.14 L336,95.55 L336.5,99.99 L337,102.04 L337.5,102.53 L338,103.6 L338.5,108.56 L339,111.12 L339.5,113 L340,114.32 L340.5,117.85 L341,119.77 L341.5,122.77 L342,125.62 L342.5,127.49 L343,129.99 L343.5,133.51 L344,135.81 L344.5,136.96 L345,139.89 L345.5,142.59 L346,144.27 L346.5,144.95 L347,146.6 L347.5,146.88 L348,149.24 L348.5,150.98 L349,151.02 L349.5,150.71 L350,152.4 L350.5,151.97 L351,152.67 L351.5,150.47 L352,151.15 L352.5,152.16 L353,152.22 L353.5,149.7 L354,149.36 L354.5,151.19 L355,148.77 L355.5,147.45 L356,147.54 L356.5,145.85 L357,144.08 L357.5,145.41 L358,144.5 L358.5,143.76 L359,144.04 L359.5,142.75 L360,142.96 L360.5,141.28 L361,144.49 L361.5,144.61 L362,141.65 L362.5,141.04 L363,143.12 L363.5,143.48 L364,142.05 L364.5,141.29 L365,144.52 L365.5,141.75 L366,142.91 L366.5,142.82 L367,142.84 L367.5,143.89 L368,144.02 L368.5,140.88 L369,142.36 L369.5,143.7 L370,142.69 L370.5,141.78 L371,143.35 L371.5,141.92 L372,142.29 L372.5,143.43 L373,143.21 L373.5,144.75 L374,143.57 L374.5,142.97 L375,144.26 L375.5,143.25 L376,143.55 L376.5,143.79 L377,143.35 L377.5,144.23 L378,144.24 L378.5,144.33 L379,143.14 L379.5,144.83 L380,144.27 L380.5,143.92 L381,143.82 L381.5,143.11 L382,142.91 L382.5,145.54 L383,143.47 L383.5,143.85 L384,143.53 L384.5,141.69 L385,142.07 L385.5,141.35 L386,142.22 L386.5,141.74 L387,139.98 L387.5,141.77 L388,141.44 L388.5,138.63 L389,140.26 L389.5,139.84 L390,137.33 L390.5,137.62 L391,139.13 L391.5,136.85 L392,135.65 L392.5,137.45 L393,134.85 L393.5,136.37 L394,136.27 L394.5,135.62 L395,135.92 L395.5,134.76 L396,134.08 L396.5,132.67 L397,134.71 L397.5,131.7 L398,132.88 L398.5,131.88 L399,130.96 L399.5,129.4 L400,128.39 L400.5,129.56 L401,129.81 L401.5,128.58 L402,126.72 L402.5,128.54 L403,124.12 L403.5,126.33 L404,126.98 L404.5,126.62 L405,124.85 L405.5,125.9 L406,126.06 L406.5,123.49 L407,124.67 L407.5,123.24 L408,124.07 L408.5,121.3 L409,123.16 L409.5,123.46 L410,123.08 L410.5,121.7 L411,119.18 L411.5,121.46 L412,118.38 L412.5,120.89 L413,120.77 L413.5,121.09 L414,119.56 L414.5,120.82 L415,119.56 L415.5,118.55 L416,119.89 L416.5,122.09 L417,119.89 L417.5,119.94 L418,121.13 L418.5,120.46 L419,120.38 L419.5,117.51 L420,118.15 L420.5,121.41 L421,119.14 L421.5,117.92 L422,120.16 L422.5,119.15 L423,116.55 L423.5,117.89 L424,117.33 L424.5,117.22 L425,117.69 L425.5,116.97 L426,117.93 L426.5,118.65 L427,118.13 L427.5,118.09 L428,119.33 L428.5,117.92 L429,118.36 L429.5,117.22 L430,116.85 L430.5,118.68 L431,117.02 L431.5,118.2 L432,119.01 L432.5,117.45 L433,120.29 L433.5,119.2 L434,117.05 L434.5,120.22 L435,118.42 L435.5,119.02 L436,117.28 L436.5,118.17 L437,117.49 L437.5,118.09 L438,116.97 L438.5,117.15 L439,116.85 L439.5,115.22 L440,116.68 L440.5,117.91 L441,116.22 L441.5,116.43 L442,119.06 L442.5,115.58 L443,117.27 L443.5,118.05 L444,118.19 L444.5,117.93 L445,117.83 L445.5,117.42 L446,116.29 L446.5,115.07 L447,119.35" fill="none" stroke="#6a5ab0" stroke-width="0.5" stroke-opacity="1.0" stroke-linejoin="round" stroke-linecap="round" />
</g>
<rect x="297.2" y="20.1" width="149.6" height="149.2" fill="none" stroke="#333" stroke-width="1.3"/>
<line x1="300.1" y1="169.3" x2="300.1" y2="165.8" stroke="#333" stroke-width="1.2"/>
<line x1="336.4" y1="169.3" x2="336.4" y2="165.8" stroke="#333" stroke-width="1.2"/>
<line x1="372.7" y1="169.3" x2="372.7" y2="165.8" stroke="#333" stroke-width="1.2"/>
<line x1="409" y1="169.3" x2="409" y2="165.8" stroke="#333" stroke-width="1.2"/>
<line x1="297.2" y1="45.6" x2="301.2" y2="45.6" stroke="#333" stroke-width="1.2"/>
<line x1="297.2" y1="70.3" x2="301.2" y2="70.3" stroke="#333" stroke-width="1.2"/>
<line x1="297.2" y1="95" x2="301.2" y2="95" stroke="#333" stroke-width="1.2"/>
<line x1="297.2" y1="119.7" x2="301.2" y2="119.7" stroke="#333" stroke-width="1.2"/>
<line x1="297.2" y1="144.4" x2="301.2" y2="144.4" stroke="#333" stroke-width="1.2"/>
<text x="291.5" y="24.8" font-size="11.5" text-anchor="end" fill="#231f20" font-weight="normal" >15</text>
<text x="291.5" y="49.5" font-size="11.5" text-anchor="end" fill="#231f20" font-weight="normal" >10</text>
<text x="291.5" y="74.2" font-size="11.5" text-anchor="end" fill="#231f20" font-weight="normal" >5</text>
<text x="291.5" y="98.9" font-size="11.5" text-anchor="end" fill="#231f20" font-weight="normal" >0</text>
<text x="291.5" y="123.6" font-size="11.5" text-anchor="end" fill="#231f20" font-weight="normal" >−5</text>
<text x="291.5" y="148.3" font-size="11.5" text-anchor="end" fill="#231f20" font-weight="normal" >−10</text>
<text x="291.5" y="173" font-size="11.5" text-anchor="end" fill="#231f20" font-weight="normal" >−15</text>
<text x="301.6" y="184" font-size="11.5" text-anchor="middle" fill="#231f20" font-weight="normal" >180</text>
<text x="337.9" y="184" font-size="11.5" text-anchor="middle" fill="#231f20" font-weight="normal" >200</text>
<text x="374.2" y="184" font-size="11.5" text-anchor="middle" fill="#231f20" font-weight="normal" >220</text>
<text x="410.5" y="184" font-size="11.5" text-anchor="middle" fill="#231f20" font-weight="normal" >240</text>
<text x="446.8" y="184" font-size="11.5" text-anchor="middle" fill="#231f20" font-weight="normal" >260</text>
<text x="372.4" y="208.7" font-size="11.5" text-anchor="middle" fill="#231f20" font-weight="normal" textLength="82" lengthAdjust="spacingAndGlyphs" >Wavelength, nm</text>
<text transform="translate(258.3,93.4) rotate(-90)" font-size="11.5" text-anchor="middle" fill="#231f20" textLength="60" lengthAdjust="spacingAndGlyphs">Millidegrees</text>
<text x="364.6" y="43.8" font-size="11.5" text-anchor="start" fill="#231f20" font-weight="normal" >1 Buffer</text>
<text x="364.6" y="58.3" font-size="11.5" fill="#231f20" text-anchor="start">2 0.41 mg ml<tspan font-size="8.6" dx="0.4" dy="-4.4">−1</tspan></text>
<text x="364.6" y="72.3" font-size="11.5" fill="#231f20" text-anchor="start">3 0.83 mg ml<tspan font-size="8.6" dx="0.4" dy="-4.4">−1</tspan></text>
<text x="352.2" y="98.8" font-size="11.5" text-anchor="middle" fill="#231f20" font-weight="normal" >1</text>
<text x="352.3" y="121.6" font-size="11.5" text-anchor="middle" fill="#231f20" font-weight="normal" >2</text>
<text x="352.3" y="147.6" font-size="11.5" text-anchor="middle" fill="#231f20" font-weight="normal" >3</text>
<clipPath id="cc"><rect x="523.8" y="19.1" width="149.5" height="149.8"/></clipPath>
<g clip-path="url(#cc)">
<path d="M525.6,43 L526,46.2 L526.4,49.6 L526.8,53.16 L527.2,56.85 L527.6,60.66 L528,65 L528.4,70.58 L528.8,76.4 L529.2,82.08 L529.6,87 L530,90.76 L530.4,93.98 L530.8,97 L531.2,100.08 L531.6,103.17 L532,106.12 L532.4,108.8 L532.8,111.07 L533.2,112.84 L533.6,114.39 L534,115.79 L534.4,117.07 L534.8,118.25 L535.2,119.34 L535.6,120.36 L536,121.34 L536.4,122.29 L536.8,123.24 L537.2,124.16 L537.6,125.05 L538,125.9 L538.4,126.72 L538.8,127.49 L539.2,128.21 L539.6,128.89 L540,129.5 L540.4,130.06 L540.8,130.59 L541.2,131.08 L541.6,131.55 L542,131.99 L542.4,132.42 L542.8,132.84 L543.2,133.25 L543.6,133.67 L544,134.09 L544.4,134.53 L544.8,134.97 L545.2,135.41 L545.6,135.86 L546,136.29 L546.4,136.71 L546.8,137.11 L547.2,137.49 L547.6,137.84 L548,138.16 L548.4,138.46 L548.8,138.76 L549.2,139.05 L549.6,139.33 L550,139.6 L550.4,139.86 L550.8,140.12 L551.2,140.37 L551.6,140.61 L552,140.85 L552.4,141.08 L552.8,141.31 L553.2,141.53 L553.6,141.75 L554,141.96 L554.4,142.17 L554.8,142.38 L555.2,142.59 L555.6,142.8 L556,143 L556.4,143.2 L556.8,143.4 L557.2,143.59 L557.6,143.78 L558,143.97 L558.4,144.15 L558.8,144.33 L559.2,144.51 L559.6,144.69 L560,144.86 L560.4,145.03 L560.8,145.2 L561.2,145.37 L561.6,145.53 L562,145.7 L562.4,145.86 L562.8,146.03 L563.2,146.19 L563.6,146.35 L564,146.51 L564.4,146.68 L564.8,146.84 L565.2,147 L565.6,147.17 L566,147.33 L566.4,147.5 L566.8,147.67 L567.2,147.84 L567.6,148.01 L568,148.19 L568.4,148.37 L568.8,148.55 L569.2,148.73 L569.6,148.91 L570,149.09 L570.4,149.27 L570.8,149.46 L571.2,149.64 L571.6,149.82 L572,150.01 L572.4,150.19 L572.8,150.37 L573.2,150.55 L573.6,150.73 L574,150.9 L574.4,151.08 L574.8,151.25 L575.2,151.42 L575.6,151.59 L576,151.75 L576.4,151.91 L576.8,152.07 L577.2,152.22 L577.6,152.37 L578,152.52 L578.4,152.66 L578.8,152.8 L579.2,152.93 L579.6,153.05 L580,153.17 L580.4,153.29 L580.8,153.4 L581.2,153.5 L581.6,153.6 L582,153.69 L582.4,153.79 L582.8,153.88 L583.2,153.97 L583.6,154.06 L584,154.15 L584.4,154.23 L584.8,154.32 L585.2,154.4 L585.6,154.48 L586,154.56 L586.4,154.64 L586.8,154.71 L587.2,154.79 L587.6,154.86 L588,154.93 L588.4,155 L588.8,155.07 L589.2,155.14 L589.6,155.21 L590,155.28 L590.4,155.34 L590.8,155.41 L591.2,155.47 L591.6,155.54 L592,155.6 L592.4,155.66 L592.8,155.72 L593.2,155.78 L593.6,155.85 L594,155.91 L594.4,155.97 L594.8,156.03 L595.2,156.08 L595.6,156.14 L596,156.2 L596.4,156.26 L596.8,156.32 L597.2,156.38 L597.6,156.44 L598,156.5 L598.4,156.56 L598.8,156.62 L599.2,156.68 L599.6,156.74 L600,156.8 L600.4,156.86 L600.8,156.92 L601.2,156.98 L601.6,157.04 L602,157.1 L602.4,157.16 L602.8,157.22 L603.2,157.28 L603.6,157.34 L604,157.4 L604.4,157.46 L604.8,157.52 L605.2,157.57 L605.6,157.63 L606,157.69 L606.4,157.74 L606.8,157.8 L607.2,157.86 L607.6,157.91 L608,157.97 L608.4,158.03 L608.8,158.08 L609.2,158.14 L609.6,158.19 L610,158.24 L610.4,158.3 L610.8,158.35 L611.2,158.41 L611.6,158.46 L612,158.51 L612.4,158.56 L612.8,158.62 L613.2,158.67 L613.6,158.72 L614,158.77 L614.4,158.82 L614.8,158.87 L615.2,158.92 L615.6,158.97 L616,159.02 L616.4,159.07 L616.8,159.12 L617.2,159.17 L617.6,159.22 L618,159.27 L618.4,159.31 L618.8,159.36 L619.2,159.41 L619.6,159.45 L620,159.5 L620.4,159.55 L620.8,159.59 L621.2,159.64 L621.6,159.69 L622,159.73 L622.4,159.78 L622.8,159.83 L623.2,159.88 L623.6,159.92 L624,159.97 L624.4,160.02 L624.8,160.07 L625.2,160.11 L625.6,160.16 L626,160.21 L626.4,160.26 L626.8,160.3 L627.2,160.35 L627.6,160.4 L628,160.44 L628.4,160.49 L628.8,160.53 L629.2,160.58 L629.6,160.62 L630,160.67 L630.4,160.71 L630.8,160.75 L631.2,160.79 L631.6,160.84 L632,160.88 L632.4,160.92 L632.8,160.96 L633.2,160.99 L633.6,161.03 L634,161.07 L634.4,161.11 L634.8,161.14 L635.2,161.18 L635.6,161.21 L636,161.24 L636.4,161.27 L636.8,161.3 L637.2,161.33 L637.6,161.36 L638,161.39 L638.4,161.41 L638.8,161.44 L639.2,161.46 L639.6,161.48 L640,161.5 L640.4,161.52 L640.8,161.54 L641.2,161.56 L641.6,161.58 L642,161.6 L642.4,161.62 L642.8,161.63 L643.2,161.65 L643.6,161.67 L644,161.69 L644.4,161.71 L644.8,161.73 L645.2,161.75 L645.6,161.76 L646,161.78 L646.4,161.8 L646.8,161.82 L647.2,161.84 L647.6,161.85 L648,161.87 L648.4,161.89 L648.8,161.91 L649.2,161.92 L649.6,161.94 L650,161.96 L650.4,161.97 L650.8,161.99 L651.2,162.01 L651.6,162.02 L652,162.04 L652.4,162.05 L652.8,162.07 L653.2,162.08 L653.6,162.1 L654,162.11 L654.4,162.13 L654.8,162.14 L655.2,162.16 L655.6,162.17 L656,162.18 L656.4,162.2 L656.8,162.21 L657.2,162.22 L657.6,162.24 L658,162.25 L658.4,162.26 L658.8,162.27 L659.2,162.28 L659.6,162.3 L660,162.31 L660.4,162.32 L660.8,162.33 L661.2,162.34 L661.6,162.35 L662,162.36 L662.4,162.37 L662.8,162.38 L663.2,162.39 L663.6,162.4 L664,162.4 L664.4,162.41 L664.8,162.42 L665.2,162.43 L665.6,162.43 L666,162.44 L666.4,162.45 L666.8,162.45 L667.2,162.46 L667.6,162.46 L668,162.47 L668.4,162.47 L668.8,162.48 L669.2,162.48 L669.6,162.49 L670,162.49 L670.4,162.49 L670.8,162.49 L671.2,162.5 L671.6,162.5 L672,162.5 L672.4,162.5 L672.8,162.5" fill="none" stroke="#ec9c7c" stroke-width="1.1" stroke-opacity="1.0" stroke-linejoin="round" stroke-linecap="round" />
<path d="M563.6,112.3 L564,113.14 L564.4,114 L564.8,114.86 L565.2,115.73 L565.6,116.61 L566,117.5 L566.4,118.42 L566.8,119.39 L567.2,120.39 L567.6,121.4 L568,122.42 L568.4,123.41 L568.8,124.37 L569.2,125.29 L569.6,126.14 L570,126.92 L570.4,127.62 L570.8,128.28 L571.2,128.91 L571.6,129.51 L572,130.09 L572.4,130.65 L572.8,131.18 L573.2,131.71 L573.6,132.22 L574,132.73 L574.4,133.24 L574.8,133.74 L575.2,134.26 L575.6,134.78 L576,135.31 L576.4,135.83 L576.8,136.35 L577.2,136.86 L577.6,137.35 L578,137.82 L578.4,138.26 L578.8,138.67 L579.2,139.03 L579.6,139.36 L580,139.67 L580.4,139.98 L580.8,140.27 L581.2,140.55 L581.6,140.83 L582,141.09 L582.4,141.35 L582.8,141.6 L583.2,141.84 L583.6,142.08 L584,142.31 L584.4,142.53 L584.8,142.74 L585.2,142.95 L585.6,143.15 L586,143.34 L586.4,143.53 L586.8,143.72 L587.2,143.9 L587.6,144.08 L588,144.25 L588.4,144.42 L588.8,144.58 L589.2,144.74 L589.6,144.9 L590,145.06 L590.4,145.21 L590.8,145.36 L591.2,145.51 L591.6,145.65 L592,145.78 L592.4,145.91 L592.8,146.04 L593.2,146.16 L593.6,146.27 L594,146.37 L594.4,146.47 L594.8,146.56 L595.2,146.64 L595.6,146.72 L596,146.79 L596.4,146.85 L596.8,146.92 L597.2,146.97 L597.6,147.03 L598,147.08 L598.4,147.13 L598.8,147.18 L599.2,147.23 L599.6,147.28 L600,147.32 L600.4,147.37 L600.8,147.41 L601.2,147.46 L601.6,147.5 L602,147.55 L602.4,147.6 L602.8,147.65 L603.2,147.71 L603.6,147.77 L604,147.83 L604.4,147.89 L604.8,147.96 L605.2,148.04 L605.6,148.11 L606,148.19 L606.4,148.28 L606.8,148.36 L607.2,148.45 L607.6,148.54 L608,148.64 L608.4,148.74 L608.8,148.84 L609.2,148.94 L609.6,149.05 L610,149.16 L610.4,149.27 L610.8,149.39 L611.2,149.51 L611.6,149.63 L612,149.76 L612.4,149.89 L612.8,150.02 L613.2,150.16 L613.6,150.3 L614,150.45 L614.4,150.61 L614.8,150.78 L615.2,150.96 L615.6,151.15 L616,151.34 L616.4,151.55 L616.8,151.75 L617.2,151.97 L617.6,152.18 L618,152.4 L618.4,152.62 L618.8,152.84 L619.2,153.06 L619.6,153.28 L620,153.5 L620.4,153.72 L620.8,153.95 L621.2,154.18 L621.6,154.43 L622,154.68 L622.4,154.93 L622.8,155.18 L623.2,155.44 L623.6,155.7 L624,155.96 L624.4,156.21 L624.8,156.46 L625.2,156.71 L625.6,156.96 L626,157.19 L626.4,157.42 L626.8,157.64 L627.2,157.85 L627.6,158.04 L628,158.23 L628.4,158.4 L628.8,158.56 L629.2,158.73 L629.6,158.89 L630,159.05 L630.4,159.2 L630.8,159.36 L631.2,159.51 L631.6,159.66 L632,159.81 L632.4,159.95 L632.8,160.09 L633.2,160.22 L633.6,160.35 L634,160.47 L634.4,160.59 L634.8,160.7 L635.2,160.81 L635.6,160.91 L636,161 L636.4,161.08 L636.8,161.16 L637.2,161.23 L637.6,161.29 L638,161.34 L638.4,161.39 L638.8,161.44 L639.2,161.49 L639.6,161.54 L640,161.58 L640.4,161.62 L640.8,161.67 L641.2,161.71 L641.6,161.75 L642,161.79 L642.4,161.82 L642.8,161.86 L643.2,161.89 L643.6,161.93 L644,161.96 L644.4,161.99 L644.8,162.02 L645.2,162.05 L645.6,162.08 L646,162.1 L646.4,162.13 L646.8,162.15 L647.2,162.17 L647.6,162.19 L648,162.21 L648.4,162.23 L648.8,162.25 L649.2,162.27 L649.6,162.28 L650,162.3 L650.4,162.31 L650.8,162.33 L651.2,162.34 L651.6,162.36 L652,162.37 L652.4,162.39 L652.8,162.4 L653.2,162.41 L653.6,162.43 L654,162.44 L654.4,162.45 L654.8,162.47 L655.2,162.48 L655.6,162.49 L656,162.5 L656.4,162.52 L656.8,162.53 L657.2,162.54 L657.6,162.55 L658,162.56 L658.4,162.57 L658.8,162.59 L659.2,162.6 L659.6,162.61 L660,162.62 L660.4,162.63 L660.8,162.64 L661.2,162.65 L661.6,162.66 L662,162.67 L662.4,162.68 L662.8,162.68 L663.2,162.69 L663.6,162.7 L664,162.71 L664.4,162.72 L664.8,162.72 L665.2,162.73 L665.6,162.74 L666,162.74 L666.4,162.75 L666.8,162.76 L667.2,162.76 L667.6,162.77 L668,162.77 L668.4,162.77 L668.8,162.78 L669.2,162.78 L669.6,162.79 L670,162.79 L670.4,162.79 L670.8,162.79 L671.2,162.8 L671.6,162.8 L672,162.8 L672.4,162.8 L672.8,162.8" fill="none" stroke="#3d4fa0" stroke-width="1.2" stroke-opacity="1.0" stroke-linejoin="round" stroke-linecap="round" />
<path d="M525.2,42 L525.6,55.94 L526,75.38 L526.4,93.52 L526.8,105.25 L527.2,114.41 L527.6,122.36 L528,128 L528.4,131.67 L528.8,134.69 L529.2,137.18 L529.6,139.24 L530,141 L530.4,142.57 L530.8,143.98 L531.2,145.2 L531.6,146.21 L532,147 L532.4,147.64 L532.8,148.23 L533.2,148.77 L533.6,149.24 L534,149.64 L534.4,149.97 L534.8,150.21 L535.2,150.38 L535.6,150.52 L536,150.66 L536.4,150.78 L536.8,150.9 L537.2,151.01 L537.6,151.11 L538,151.21 L538.4,151.3 L538.8,151.38 L539.2,151.46 L539.6,151.53 L540,151.6 L540.4,151.66 L540.8,151.73 L541.2,151.78 L541.6,151.84 L542,151.89 L542.4,151.95 L542.8,152 L543.2,152.05 L543.6,152.11 L544,152.16 L544.4,152.21 L544.8,152.27 L545.2,152.33 L545.6,152.39 L546,152.44 L546.4,152.5 L546.8,152.55 L547.2,152.6 L547.6,152.65 L548,152.7 L548.4,152.75 L548.8,152.79 L549.2,152.84 L549.6,152.88 L550,152.93 L550.4,152.97 L550.8,153.01 L551.2,153.05 L551.6,153.09 L552,153.14 L552.4,153.18 L552.8,153.22 L553.2,153.26 L553.6,153.3 L554,153.34 L554.4,153.38 L554.8,153.42 L555.2,153.46 L555.6,153.5 L556,153.54 L556.4,153.58 L556.8,153.63 L557.2,153.67 L557.6,153.71 L558,153.76 L558.4,153.8 L558.8,153.85 L559.2,153.9 L559.6,153.95 L560,154 L560.4,154.05 L560.8,154.1 L561.2,154.16 L561.6,154.21 L562,154.27 L562.4,154.32 L562.8,154.38 L563.2,154.44 L563.6,154.49 L564,154.55 L564.4,154.61 L564.8,154.67 L565.2,154.73 L565.6,154.79 L566,154.85 L566.4,154.91 L566.8,154.98 L567.2,155.04 L567.6,155.1 L568,155.16 L568.4,155.23 L568.8,155.29 L569.2,155.35 L569.6,155.42 L570,155.48 L570.4,155.54 L570.8,155.61 L571.2,155.67 L571.6,155.73 L572,155.8 L572.4,155.86 L572.8,155.92 L573.2,155.99 L573.6,156.05 L574,156.11 L574.4,156.18 L574.8,156.24 L575.2,156.3 L575.6,156.36 L576,156.42 L576.4,156.48 L576.8,156.54 L577.2,156.6 L577.6,156.66 L578,156.72 L578.4,156.78 L578.8,156.83 L579.2,156.89 L579.6,156.95 L580,157 L580.4,157.05 L580.8,157.11 L581.2,157.16 L581.6,157.22 L582,157.27 L582.4,157.33 L582.8,157.39 L583.2,157.44 L583.6,157.5 L584,157.55 L584.4,157.61 L584.8,157.66 L585.2,157.72 L585.6,157.77 L586,157.83 L586.4,157.88 L586.8,157.94 L587.2,157.99 L587.6,158.05 L588,158.1 L588.4,158.16 L588.8,158.21 L589.2,158.26 L589.6,158.32 L590,158.37 L590.4,158.42 L590.8,158.47 L591.2,158.52 L591.6,158.58 L592,158.63 L592.4,158.68 L592.8,158.73 L593.2,158.77 L593.6,158.82 L594,158.87 L594.4,158.92 L594.8,158.96 L595.2,159.01 L595.6,159.06 L596,159.1 L596.4,159.14 L596.8,159.19 L597.2,159.23 L597.6,159.27 L598,159.31 L598.4,159.35 L598.8,159.39 L599.2,159.43 L599.6,159.46 L600,159.5 L600.4,159.54 L600.8,159.57 L601.2,159.61 L601.6,159.64 L602,159.68 L602.4,159.71 L602.8,159.74 L603.2,159.78 L603.6,159.81 L604,159.85 L604.4,159.88 L604.8,159.91 L605.2,159.95 L605.6,159.98 L606,160.01 L606.4,160.05 L606.8,160.08 L607.2,160.11 L607.6,160.15 L608,160.18 L608.4,160.21 L608.8,160.24 L609.2,160.27 L609.6,160.3 L610,160.33 L610.4,160.36 L610.8,160.4 L611.2,160.43 L611.6,160.46 L612,160.49 L612.4,160.51 L612.8,160.54 L613.2,160.57 L613.6,160.6 L614,160.63 L614.4,160.66 L614.8,160.69 L615.2,160.71 L615.6,160.74 L616,160.77 L616.4,160.79 L616.8,160.82 L617.2,160.85 L617.6,160.87 L618,160.9 L618.4,160.92 L618.8,160.95 L619.2,160.97 L619.6,161 L620,161.02 L620.4,161.04 L620.8,161.07 L621.2,161.09 L621.6,161.11 L622,161.14 L622.4,161.16 L622.8,161.18 L623.2,161.2 L623.6,161.22 L624,161.24 L624.4,161.26 L624.8,161.28 L625.2,161.3 L625.6,161.32 L626,161.34 L626.4,161.36 L626.8,161.37 L627.2,161.39 L627.6,161.41 L628,161.42 L628.4,161.44 L628.8,161.46 L629.2,161.47 L629.6,161.49 L630,161.5 L630.4,161.51 L630.8,161.53 L631.2,161.54 L631.6,161.56 L632,161.57 L632.4,161.58 L632.8,161.6 L633.2,161.61 L633.6,161.63 L634,161.64 L634.4,161.66 L634.8,161.67 L635.2,161.68 L635.6,161.7 L636,161.71 L636.4,161.72 L636.8,161.74 L637.2,161.75 L637.6,161.77 L638,161.78 L638.4,161.79 L638.8,161.81 L639.2,161.82 L639.6,161.83 L640,161.85 L640.4,161.86 L640.8,161.87 L641.2,161.89 L641.6,161.9 L642,161.91 L642.4,161.92 L642.8,161.94 L643.2,161.95 L643.6,161.96 L644,161.98 L644.4,161.99 L644.8,162 L645.2,162.01 L645.6,162.02 L646,162.04 L646.4,162.05 L646.8,162.06 L647.2,162.07 L647.6,162.08 L648,162.09 L648.4,162.11 L648.8,162.12 L649.2,162.13 L649.6,162.14 L650,162.15 L650.4,162.16 L650.8,162.17 L651.2,162.18 L651.6,162.19 L652,162.2 L652.4,162.21 L652.8,162.22 L653.2,162.23 L653.6,162.24 L654,162.25 L654.4,162.26 L654.8,162.27 L655.2,162.28 L655.6,162.29 L656,162.3 L656.4,162.31 L656.8,162.32 L657.2,162.32 L657.6,162.33 L658,162.34 L658.4,162.35 L658.8,162.36 L659.2,162.36 L659.6,162.37 L660,162.38 L660.4,162.39 L660.8,162.39 L661.2,162.4 L661.6,162.41 L662,162.41 L662.4,162.42 L662.8,162.42 L663.2,162.43 L663.6,162.43 L664,162.44 L664.4,162.44 L664.8,162.45 L665.2,162.45 L665.6,162.46 L666,162.46 L666.4,162.47 L666.8,162.47 L667.2,162.47 L667.6,162.48 L668,162.48 L668.4,162.48 L668.8,162.49 L669.2,162.49 L669.6,162.49 L670,162.49 L670.4,162.49 L670.8,162.5 L671.2,162.5 L671.6,162.5 L672,162.5 L672.4,162.5 L672.8,162.5" fill="none" stroke="#2f9a5a" stroke-width="1.2" stroke-opacity="1.0" stroke-linejoin="round" stroke-linecap="round" />
<path d="M524.5,60 L524.9,94.4 L525.3,106.05 L525.7,113.65 L526.1,120 L526.5,125.16 L526.9,129.17 L527.3,132.28 L527.7,135.01 L528.1,137.34 L528.5,139.25 L528.9,140.71 L529.3,141.8 L529.7,142.76 L530.1,143.61 L530.5,144.32 L530.9,144.9 L531.3,145.34 L531.7,145.64 L532.1,145.9 L532.5,146.13 L532.9,146.33 L533.3,146.51 L533.7,146.66 L534.1,146.79 L534.5,146.9 L534.9,146.98 L535.3,147.05 L535.7,147.11 L536.1,147.17 L536.5,147.23 L536.9,147.28 L537.3,147.33 L537.7,147.38 L538.1,147.41 L538.5,147.45 L538.9,147.47 L539.3,147.49 L539.7,147.5 L540.1,147.5 L540.5,147.5 L540.9,147.5 L541.3,147.5 L541.7,147.5 L542.1,147.5 L542.5,147.5 L542.9,147.5 L543.3,147.5 L543.7,147.5 L544.1,147.5 L544.5,147.5 L544.9,147.5 L545.3,147.5 L545.7,147.5 L546.1,147.5 L546.5,147.5 L546.9,147.5 L547.3,147.5 L547.7,147.5 L548.1,147.5 L548.5,147.51 L548.9,147.53 L549.3,147.56 L549.7,147.61 L550.1,147.66 L550.5,147.72 L550.9,147.79 L551.3,147.86 L551.7,147.94 L552.1,148.03 L552.5,148.12 L552.9,148.21 L553.3,148.3 L553.7,148.4 L554.1,148.49 L554.5,148.58 L554.9,148.68 L555.3,148.77 L555.7,148.87 L556.1,148.98 L556.5,149.09 L556.9,149.21 L557.3,149.34 L557.7,149.47 L558.1,149.6 L558.5,149.74 L558.9,149.89 L559.3,150.03 L559.7,150.18 L560.1,150.34 L560.5,150.51 L560.9,150.69 L561.3,150.88 L561.7,151.09 L562.1,151.3 L562.5,151.52 L562.9,151.74 L563.3,151.97 L563.7,152.19 L564.1,152.41 L564.5,152.63 L564.9,152.83 L565.3,153.03 L565.7,153.21 L566.1,153.38 L566.5,153.54 L566.9,153.68 L567.3,153.83 L567.7,153.97 L568.1,154.12 L568.5,154.26 L568.9,154.4 L569.3,154.53 L569.7,154.67 L570.1,154.8 L570.5,154.93 L570.9,155.06 L571.3,155.19 L571.7,155.31 L572.1,155.43 L572.5,155.55 L572.9,155.67 L573.3,155.78 L573.7,155.9 L574.1,156.01 L574.5,156.11 L574.9,156.22 L575.3,156.32 L575.7,156.42 L576.1,156.52 L576.5,156.61 L576.9,156.7 L577.3,156.79 L577.7,156.87 L578.1,156.95 L578.5,157.03 L578.9,157.11 L579.3,157.18 L579.7,157.25 L580.1,157.32 L580.5,157.38 L580.9,157.44 L581.3,157.51 L581.7,157.57 L582.1,157.63 L582.5,157.69 L582.9,157.75 L583.3,157.8 L583.7,157.86 L584.1,157.92 L584.5,157.97 L584.9,158.03 L585.3,158.08 L585.7,158.13 L586.1,158.18 L586.5,158.23 L586.9,158.28 L587.3,158.33 L587.7,158.38 L588.1,158.43 L588.5,158.47 L588.9,158.52 L589.3,158.57 L589.7,158.61 L590.1,158.65 L590.5,158.7 L590.9,158.74 L591.3,158.78 L591.7,158.82 L592.1,158.86 L592.5,158.9 L592.9,158.94 L593.3,158.97 L593.7,159.01 L594.1,159.05 L594.5,159.08 L594.9,159.12 L595.3,159.15 L595.7,159.18 L596.1,159.22 L596.5,159.25 L596.9,159.28 L597.3,159.31 L597.7,159.34 L598.1,159.37 L598.5,159.4 L598.9,159.43 L599.3,159.45 L599.7,159.48 L600.1,159.51 L600.5,159.53 L600.9,159.56 L601.3,159.58 L601.7,159.61 L602.1,159.64 L602.5,159.66 L602.9,159.69 L603.3,159.71 L603.7,159.74 L604.1,159.77 L604.5,159.79 L604.9,159.82 L605.3,159.84 L605.7,159.87 L606.1,159.89 L606.5,159.92 L606.9,159.95 L607.3,159.97 L607.7,160 L608.1,160.02 L608.5,160.05 L608.9,160.07 L609.3,160.1 L609.7,160.12 L610.1,160.15 L610.5,160.17 L610.9,160.2 L611.3,160.22 L611.7,160.25 L612.1,160.27 L612.5,160.3 L612.9,160.32 L613.3,160.35 L613.7,160.37 L614.1,160.39 L614.5,160.42 L614.9,160.44 L615.3,160.47 L615.7,160.49 L616.1,160.51 L616.5,160.54 L616.9,160.56 L617.3,160.59 L617.7,160.61 L618.1,160.63 L618.5,160.66 L618.9,160.68 L619.3,160.7 L619.7,160.73 L620.1,160.75 L620.5,160.77 L620.9,160.79 L621.3,160.82 L621.7,160.84 L622.1,160.86 L622.5,160.88 L622.9,160.91 L623.3,160.93 L623.7,160.95 L624.1,160.97 L624.5,161 L624.9,161.02 L625.3,161.04 L625.7,161.06 L626.1,161.08 L626.5,161.1 L626.9,161.12 L627.3,161.15 L627.7,161.17 L628.1,161.19 L628.5,161.21 L628.9,161.23 L629.3,161.25 L629.7,161.27 L630.1,161.29 L630.5,161.31 L630.9,161.33 L631.3,161.35 L631.7,161.37 L632.1,161.39 L632.5,161.41 L632.9,161.43 L633.3,161.45 L633.7,161.47 L634.1,161.49 L634.5,161.51 L634.9,161.52 L635.3,161.54 L635.7,161.56 L636.1,161.58 L636.5,161.6 L636.9,161.62 L637.3,161.63 L637.7,161.65 L638.1,161.67 L638.5,161.69 L638.9,161.7 L639.3,161.72 L639.7,161.74 L640.1,161.75 L640.5,161.77 L640.9,161.79 L641.3,161.8 L641.7,161.82 L642.1,161.84 L642.5,161.85 L642.9,161.87 L643.3,161.88 L643.7,161.9 L644.1,161.91 L644.5,161.93 L644.9,161.94 L645.3,161.96 L645.7,161.97 L646.1,161.99 L646.5,162 L646.9,162.02 L647.3,162.03 L647.7,162.04 L648.1,162.06 L648.5,162.07 L648.9,162.08 L649.3,162.1 L649.7,162.11 L650.1,162.12 L650.5,162.13 L650.9,162.15 L651.3,162.16 L651.7,162.17 L652.1,162.18 L652.5,162.19 L652.9,162.21 L653.3,162.22 L653.7,162.23 L654.1,162.24 L654.5,162.25 L654.9,162.26 L655.3,162.27 L655.7,162.28 L656.1,162.29 L656.5,162.3 L656.9,162.31 L657.3,162.32 L657.7,162.33 L658.1,162.33 L658.5,162.34 L658.9,162.35 L659.3,162.36 L659.7,162.37 L660.1,162.38 L660.5,162.38 L660.9,162.39 L661.3,162.4 L661.7,162.4 L662.1,162.41 L662.5,162.42 L662.9,162.42 L663.3,162.43 L663.7,162.43 L664.1,162.44 L664.5,162.44 L664.9,162.45 L665.3,162.45 L665.7,162.46 L666.1,162.46 L666.5,162.47 L666.9,162.47 L667.3,162.47 L667.7,162.48 L668.1,162.48 L668.5,162.48 L668.9,162.49 L669.3,162.49 L669.7,162.49 L670.1,162.49 L670.5,162.5 L670.9,162.5 L671.3,162.5 L671.7,162.5 L672.1,162.5 L672.5,162.5 L672.9,162.5" fill="none" stroke="#a04a30" stroke-width="1.2" stroke-opacity="1.0" stroke-linejoin="round" stroke-linecap="round" />
<path d="M524.3,118 L524.7,124.47 L525.1,129.91 L525.5,133.76 L525.9,136.91 L526.3,139.55 L526.7,141.7 L527.1,143.38 L527.5,144.81 L527.9,146.06 L528.3,147.12 L528.7,147.99 L529.1,148.65 L529.5,149.2 L529.9,149.69 L530.3,150.12 L530.7,150.5 L531.1,150.84 L531.5,151.15 L531.9,151.43 L532.3,151.7 L532.7,151.96 L533.1,152.21 L533.5,152.44 L533.9,152.64 L534.3,152.81 L534.7,152.93 L535.1,153.02 L535.5,153.08 L535.9,153.15 L536.3,153.21 L536.7,153.27 L537.1,153.32 L537.5,153.38 L537.9,153.43 L538.3,153.48 L538.7,153.53 L539.1,153.58 L539.5,153.62 L539.9,153.66 L540.3,153.7 L540.7,153.74 L541.1,153.78 L541.5,153.82 L541.9,153.85 L542.3,153.89 L542.7,153.92 L543.1,153.95 L543.5,153.98 L543.9,154.01 L544.3,154.03 L544.7,154.06 L545.1,154.09 L545.5,154.11 L545.9,154.14 L546.3,154.16 L546.7,154.18 L547.1,154.2 L547.5,154.22 L547.9,154.25 L548.3,154.27 L548.7,154.29 L549.1,154.31 L549.5,154.33 L549.9,154.35 L550.3,154.37 L550.7,154.38 L551.1,154.4 L551.5,154.42 L551.9,154.44 L552.3,154.46 L552.7,154.48 L553.1,154.51 L553.5,154.53 L553.9,154.55 L554.3,154.57 L554.7,154.6 L555.1,154.62 L555.5,154.64 L555.9,154.67 L556.3,154.7 L556.7,154.72 L557.1,154.75 L557.5,154.78 L557.9,154.81 L558.3,154.85 L558.7,154.88 L559.1,154.92 L559.5,154.95 L559.9,154.99 L560.3,155.03 L560.7,155.07 L561.1,155.11 L561.5,155.15 L561.9,155.2 L562.3,155.24 L562.7,155.29 L563.1,155.33 L563.5,155.38 L563.9,155.43 L564.3,155.48 L564.7,155.53 L565.1,155.58 L565.5,155.63 L565.9,155.68 L566.3,155.73 L566.7,155.78 L567.1,155.83 L567.5,155.88 L567.9,155.94 L568.3,155.99 L568.7,156.04 L569.1,156.1 L569.5,156.15 L569.9,156.2 L570.3,156.26 L570.7,156.31 L571.1,156.37 L571.5,156.42 L571.9,156.48 L572.3,156.53 L572.7,156.58 L573.1,156.64 L573.5,156.69 L573.9,156.74 L574.3,156.8 L574.7,156.85 L575.1,156.9 L575.5,156.95 L575.9,157.01 L576.3,157.06 L576.7,157.11 L577.1,157.16 L577.5,157.21 L577.9,157.26 L578.3,157.3 L578.7,157.35 L579.1,157.4 L579.5,157.44 L579.9,157.49 L580.3,157.53 L580.7,157.58 L581.1,157.62 L581.5,157.67 L581.9,157.71 L582.3,157.76 L582.7,157.8 L583.1,157.85 L583.5,157.9 L583.9,157.94 L584.3,157.99 L584.7,158.03 L585.1,158.08 L585.5,158.12 L585.9,158.17 L586.3,158.21 L586.7,158.26 L587.1,158.3 L587.5,158.35 L587.9,158.39 L588.3,158.44 L588.7,158.48 L589.1,158.52 L589.5,158.57 L589.9,158.61 L590.3,158.65 L590.7,158.69 L591.1,158.74 L591.5,158.78 L591.9,158.82 L592.3,158.86 L592.7,158.9 L593.1,158.94 L593.5,158.97 L593.9,159.01 L594.3,159.05 L594.7,159.09 L595.1,159.12 L595.5,159.16 L595.9,159.19 L596.3,159.23 L596.7,159.26 L597.1,159.29 L597.5,159.32 L597.9,159.35 L598.3,159.38 L598.7,159.41 L599.1,159.44 L599.5,159.47 L599.9,159.49 L600.3,159.52 L600.7,159.54 L601.1,159.57 L601.5,159.59 L601.9,159.62 L602.3,159.65 L602.7,159.67 L603.1,159.7 L603.5,159.72 L603.9,159.75 L604.3,159.77 L604.7,159.8 L605.1,159.82 L605.5,159.85 L605.9,159.87 L606.3,159.9 L606.7,159.92 L607.1,159.95 L607.5,159.97 L607.9,160 L608.3,160.02 L608.7,160.04 L609.1,160.07 L609.5,160.09 L609.9,160.12 L610.3,160.14 L610.7,160.17 L611.1,160.19 L611.5,160.22 L611.9,160.24 L612.3,160.26 L612.7,160.29 L613.1,160.31 L613.5,160.34 L613.9,160.36 L614.3,160.39 L614.7,160.41 L615.1,160.43 L615.5,160.46 L615.9,160.48 L616.3,160.5 L616.7,160.53 L617.1,160.55 L617.5,160.57 L617.9,160.6 L618.3,160.62 L618.7,160.64 L619.1,160.67 L619.5,160.69 L619.9,160.71 L620.3,160.74 L620.7,160.76 L621.1,160.78 L621.5,160.8 L621.9,160.83 L622.3,160.85 L622.7,160.87 L623.1,160.89 L623.5,160.92 L623.9,160.94 L624.3,160.96 L624.7,160.98 L625.1,161 L625.5,161.03 L625.9,161.05 L626.3,161.07 L626.7,161.09 L627.1,161.11 L627.5,161.13 L627.9,161.15 L628.3,161.17 L628.7,161.2 L629.1,161.22 L629.5,161.24 L629.9,161.26 L630.3,161.28 L630.7,161.3 L631.1,161.32 L631.5,161.34 L631.9,161.36 L632.3,161.38 L632.7,161.4 L633.1,161.42 L633.5,161.44 L633.9,161.46 L634.3,161.47 L634.7,161.49 L635.1,161.51 L635.5,161.53 L635.9,161.55 L636.3,161.57 L636.7,161.59 L637.1,161.6 L637.5,161.62 L637.9,161.64 L638.3,161.66 L638.7,161.68 L639.1,161.69 L639.5,161.71 L639.9,161.73 L640.3,161.75 L640.7,161.76 L641.1,161.78 L641.5,161.8 L641.9,161.81 L642.3,161.83 L642.7,161.84 L643.1,161.86 L643.5,161.88 L643.9,161.89 L644.3,161.91 L644.7,161.92 L645.1,161.94 L645.5,161.95 L645.9,161.97 L646.3,161.98 L646.7,162 L647.1,162.01 L647.5,162.02 L647.9,162.04 L648.3,162.05 L648.7,162.07 L649.1,162.08 L649.5,162.09 L649.9,162.11 L650.3,162.12 L650.7,162.13 L651.1,162.14 L651.5,162.16 L651.9,162.17 L652.3,162.18 L652.7,162.19 L653.1,162.2 L653.5,162.21 L653.9,162.22 L654.3,162.24 L654.7,162.25 L655.1,162.26 L655.5,162.27 L655.9,162.28 L656.3,162.29 L656.7,162.3 L657.1,162.31 L657.5,162.32 L657.9,162.32 L658.3,162.33 L658.7,162.34 L659.1,162.35 L659.5,162.36 L659.9,162.37 L660.3,162.37 L660.7,162.38 L661.1,162.39 L661.5,162.4 L661.9,162.4 L662.3,162.41 L662.7,162.42 L663.1,162.42 L663.5,162.43 L663.9,162.43 L664.3,162.44 L664.7,162.45 L665.1,162.45 L665.5,162.46 L665.9,162.46 L666.3,162.46 L666.7,162.47 L667.1,162.47 L667.5,162.48 L667.9,162.48 L668.3,162.48 L668.7,162.49 L669.1,162.49 L669.5,162.49 L669.9,162.49 L670.3,162.49 L670.7,162.5 L671.1,162.5 L671.5,162.5 L671.9,162.5 L672.3,162.5 L672.7,162.5" fill="none" stroke="#3bbcd0" stroke-width="1.2" stroke-opacity="1.0" stroke-linejoin="round" stroke-linecap="round" />
<path d="M524.3,112 L524.7,118.8 L525.1,124.89 L525.5,130 L525.9,134.41 L526.3,138.38 L526.7,141.65 L527.1,144 L527.5,145.81 L527.9,147.34 L528.3,148.63 L528.7,149.75 L529.1,150.74 L529.5,151.67 L529.9,152.52 L530.3,153.27 L530.7,153.87 L531.1,154.29 L531.5,154.64 L531.9,154.95 L532.3,155.24 L532.7,155.49 L533.1,155.72 L533.5,155.92 L533.9,156.1 L534.3,156.26 L534.7,156.4 L535.1,156.53 L535.5,156.65 L535.9,156.76 L536.3,156.86 L536.7,156.96 L537.1,157.05 L537.5,157.13 L537.9,157.21 L538.3,157.28 L538.7,157.34 L539.1,157.4 L539.5,157.45 L539.9,157.49 L540.3,157.53 L540.7,157.56 L541.1,157.6 L541.5,157.63 L541.9,157.66 L542.3,157.69 L542.7,157.72 L543.1,157.75 L543.5,157.78 L543.9,157.8 L544.3,157.83 L544.7,157.85 L545.1,157.88 L545.5,157.9 L545.9,157.92 L546.3,157.94 L546.7,157.97 L547.1,157.99 L547.5,158.01 L547.9,158.03 L548.3,158.04 L548.7,158.06 L549.1,158.08 L549.5,158.1 L549.9,158.11 L550.3,158.13 L550.7,158.15 L551.1,158.16 L551.5,158.18 L551.9,158.19 L552.3,158.21 L552.7,158.22 L553.1,158.24 L553.5,158.25 L553.9,158.27 L554.3,158.28 L554.7,158.3 L555.1,158.31 L555.5,158.32 L555.9,158.34 L556.3,158.35 L556.7,158.37 L557.1,158.38 L557.5,158.4 L557.9,158.41 L558.3,158.43 L558.7,158.45 L559.1,158.46 L559.5,158.48 L559.9,158.5 L560.3,158.51 L560.7,158.53 L561.1,158.55 L561.5,158.56 L561.9,158.58 L562.3,158.6 L562.7,158.62 L563.1,158.63 L563.5,158.65 L563.9,158.67 L564.3,158.68 L564.7,158.7 L565.1,158.72 L565.5,158.73 L565.9,158.75 L566.3,158.76 L566.7,158.78 L567.1,158.8 L567.5,158.81 L567.9,158.83 L568.3,158.84 L568.7,158.86 L569.1,158.88 L569.5,158.89 L569.9,158.91 L570.3,158.92 L570.7,158.94 L571.1,158.95 L571.5,158.97 L571.9,158.99 L572.3,159 L572.7,159.02 L573.1,159.03 L573.5,159.05 L573.9,159.06 L574.3,159.08 L574.7,159.09 L575.1,159.11 L575.5,159.12 L575.9,159.14 L576.3,159.15 L576.7,159.17 L577.1,159.18 L577.5,159.2 L577.9,159.21 L578.3,159.23 L578.7,159.24 L579.1,159.26 L579.5,159.27 L579.9,159.28 L580.3,159.3 L580.7,159.31 L581.1,159.33 L581.5,159.34 L581.9,159.36 L582.3,159.37 L582.7,159.39 L583.1,159.4 L583.5,159.41 L583.9,159.43 L584.3,159.44 L584.7,159.46 L585.1,159.47 L585.5,159.49 L585.9,159.5 L586.3,159.51 L586.7,159.53 L587.1,159.54 L587.5,159.56 L587.9,159.57 L588.3,159.58 L588.7,159.6 L589.1,159.61 L589.5,159.63 L589.9,159.64 L590.3,159.66 L590.7,159.67 L591.1,159.68 L591.5,159.7 L591.9,159.71 L592.3,159.73 L592.7,159.74 L593.1,159.75 L593.5,159.77 L593.9,159.78 L594.3,159.8 L594.7,159.81 L595.1,159.83 L595.5,159.84 L595.9,159.85 L596.3,159.87 L596.7,159.88 L597.1,159.9 L597.5,159.91 L597.9,159.92 L598.3,159.94 L598.7,159.95 L599.1,159.97 L599.5,159.98 L599.9,160 L600.3,160.01 L600.7,160.03 L601.1,160.04 L601.5,160.05 L601.9,160.07 L602.3,160.08 L602.7,160.1 L603.1,160.11 L603.5,160.13 L603.9,160.14 L604.3,160.15 L604.7,160.17 L605.1,160.18 L605.5,160.2 L605.9,160.21 L606.3,160.23 L606.7,160.24 L607.1,160.25 L607.5,160.27 L607.9,160.28 L608.3,160.3 L608.7,160.31 L609.1,160.33 L609.5,160.34 L609.9,160.35 L610.3,160.37 L610.7,160.38 L611.1,160.4 L611.5,160.41 L611.9,160.43 L612.3,160.44 L612.7,160.45 L613.1,160.47 L613.5,160.48 L613.9,160.5 L614.3,160.51 L614.7,160.52 L615.1,160.54 L615.5,160.55 L615.9,160.57 L616.3,160.58 L616.7,160.6 L617.1,160.61 L617.5,160.62 L617.9,160.64 L618.3,160.65 L618.7,160.67 L619.1,160.68 L619.5,160.69 L619.9,160.71 L620.3,160.72 L620.7,160.74 L621.1,160.75 L621.5,160.76 L621.9,160.78 L622.3,160.79 L622.7,160.81 L623.1,160.82 L623.5,160.83 L623.9,160.85 L624.3,160.86 L624.7,160.88 L625.1,160.89 L625.5,160.9 L625.9,160.92 L626.3,160.93 L626.7,160.95 L627.1,160.96 L627.5,160.97 L627.9,160.99 L628.3,161 L628.7,161.02 L629.1,161.03 L629.5,161.04 L629.9,161.06 L630.3,161.07 L630.7,161.08 L631.1,161.1 L631.5,161.11 L631.9,161.13 L632.3,161.14 L632.7,161.15 L633.1,161.17 L633.5,161.18 L633.9,161.2 L634.3,161.21 L634.7,161.22 L635.1,161.24 L635.5,161.25 L635.9,161.26 L636.3,161.28 L636.7,161.29 L637.1,161.31 L637.5,161.32 L637.9,161.33 L638.3,161.35 L638.7,161.36 L639.1,161.37 L639.5,161.39 L639.9,161.4 L640.3,161.41 L640.7,161.43 L641.1,161.44 L641.5,161.46 L641.9,161.47 L642.3,161.48 L642.7,161.5 L643.1,161.51 L643.5,161.52 L643.9,161.54 L644.3,161.55 L644.7,161.56 L645.1,161.58 L645.5,161.59 L645.9,161.61 L646.3,161.62 L646.7,161.63 L647.1,161.65 L647.5,161.66 L647.9,161.67 L648.3,161.69 L648.7,161.7 L649.1,161.71 L649.5,161.73 L649.9,161.74 L650.3,161.75 L650.7,161.77 L651.1,161.78 L651.5,161.79 L651.9,161.81 L652.3,161.82 L652.7,161.83 L653.1,161.85 L653.5,161.86 L653.9,161.87 L654.3,161.89 L654.7,161.9 L655.1,161.91 L655.5,161.93 L655.9,161.94 L656.3,161.95 L656.7,161.97 L657.1,161.98 L657.5,161.99 L657.9,162.01 L658.3,162.02 L658.7,162.03 L659.1,162.05 L659.5,162.06 L659.9,162.07 L660.3,162.09 L660.7,162.1 L661.1,162.11 L661.5,162.13 L661.9,162.14 L662.3,162.15 L662.7,162.17 L663.1,162.18 L663.5,162.19 L663.9,162.2 L664.3,162.22 L664.7,162.23 L665.1,162.24 L665.5,162.26 L665.9,162.27 L666.3,162.28 L666.7,162.3 L667.1,162.31 L667.5,162.32 L667.9,162.34 L668.3,162.35 L668.7,162.36 L669.1,162.37 L669.5,162.39 L669.9,162.4 L670.3,162.41 L670.7,162.43 L671.1,162.44 L671.5,162.45 L671.9,162.46 L672.3,162.48 L672.7,162.49" fill="none" stroke="#d9434e" stroke-width="1.1" stroke-opacity="1.0" stroke-linejoin="round" stroke-linecap="round" />
<path d="M524.2,125 L524.6,132.47 L525,138 L525.4,141.53 L525.8,144.33 L526.2,146.58 L526.6,148.44 L527,150.11 L527.4,151.61 L527.8,152.89 L528.2,153.92 L528.6,154.66 L529,155.27 L529.4,155.79 L529.8,156.25 L530.2,156.63 L530.6,156.95 L531,157.2 L531.4,157.41 L531.8,157.61 L532.2,157.79 L532.6,157.96 L533,158.11 L533.4,158.24 L533.8,158.36 L534.2,158.46 L534.6,158.54 L535,158.6 L535.4,158.65 L535.8,158.7 L536.2,158.74 L536.6,158.78 L537,158.82 L537.4,158.85 L537.8,158.88 L538.2,158.9 L538.6,158.93 L539,158.95 L539.4,158.97 L539.8,158.99 L540.2,159.01 L540.6,159.03 L541,159.04 L541.4,159.06 L541.8,159.08 L542.2,159.1 L542.6,159.11 L543,159.13 L543.4,159.14 L543.8,159.16 L544.2,159.18 L544.6,159.19 L545,159.21 L545.4,159.22 L545.8,159.24 L546.2,159.25 L546.6,159.27 L547,159.28 L547.4,159.3 L547.8,159.31 L548.2,159.32 L548.6,159.34 L549,159.35 L549.4,159.37 L549.8,159.38 L550.2,159.39 L550.6,159.4 L551,159.42 L551.4,159.43 L551.8,159.44 L552.2,159.46 L552.6,159.47 L553,159.48 L553.4,159.49 L553.8,159.5 L554.2,159.52 L554.6,159.53 L555,159.54 L555.4,159.55 L555.8,159.56 L556.2,159.57 L556.6,159.58 L557,159.59 L557.4,159.6 L557.8,159.61 L558.2,159.62 L558.6,159.64 L559,159.65 L559.4,159.66 L559.8,159.67 L560.2,159.68 L560.6,159.68 L561,159.69 L561.4,159.7 L561.8,159.71 L562.2,159.72 L562.6,159.73 L563,159.74 L563.4,159.75 L563.8,159.76 L564.2,159.77 L564.6,159.78 L565,159.79 L565.4,159.79 L565.8,159.8 L566.2,159.81 L566.6,159.82 L567,159.83 L567.4,159.84 L567.8,159.85 L568.2,159.85 L568.6,159.86 L569,159.87 L569.4,159.88 L569.8,159.89 L570.2,159.89 L570.6,159.9 L571,159.91 L571.4,159.92 L571.8,159.92 L572.2,159.93 L572.6,159.94 L573,159.95 L573.4,159.96 L573.8,159.96 L574.2,159.97 L574.6,159.98 L575,159.99 L575.4,159.99 L575.8,160 L576.2,160.01 L576.6,160.02 L577,160.02 L577.4,160.03 L577.8,160.04 L578.2,160.04 L578.6,160.05 L579,160.06 L579.4,160.07 L579.8,160.07 L580.2,160.08 L580.6,160.09 L581,160.1 L581.4,160.1 L581.8,160.11 L582.2,160.12 L582.6,160.13 L583,160.13 L583.4,160.14 L583.8,160.15 L584.2,160.16 L584.6,160.16 L585,160.17 L585.4,160.18 L585.8,160.19 L586.2,160.19 L586.6,160.2 L587,160.21 L587.4,160.22 L587.8,160.23 L588.2,160.23 L588.6,160.24 L589,160.25 L589.4,160.26 L589.8,160.27 L590.2,160.27 L590.6,160.28 L591,160.29 L591.4,160.3 L591.8,160.31 L592.2,160.32 L592.6,160.32 L593,160.33 L593.4,160.34 L593.8,160.35 L594.2,160.36 L594.6,160.37 L595,160.38 L595.4,160.39 L595.8,160.4 L596.2,160.41 L596.6,160.42 L597,160.42 L597.4,160.43 L597.8,160.44 L598.2,160.45 L598.6,160.46 L599,160.47 L599.4,160.48 L599.8,160.49 L600.2,160.51 L600.6,160.52 L601,160.53 L601.4,160.54 L601.8,160.55 L602.2,160.56 L602.6,160.57 L603,160.58 L603.4,160.59 L603.8,160.6 L604.2,160.61 L604.6,160.62 L605,160.63 L605.4,160.64 L605.8,160.65 L606.2,160.66 L606.6,160.67 L607,160.68 L607.4,160.69 L607.8,160.7 L608.2,160.72 L608.6,160.73 L609,160.74 L609.4,160.75 L609.8,160.76 L610.2,160.77 L610.6,160.78 L611,160.79 L611.4,160.8 L611.8,160.81 L612.2,160.82 L612.6,160.83 L613,160.84 L613.4,160.85 L613.8,160.86 L614.2,160.87 L614.6,160.88 L615,160.9 L615.4,160.91 L615.8,160.92 L616.2,160.93 L616.6,160.94 L617,160.95 L617.4,160.96 L617.8,160.97 L618.2,160.98 L618.6,160.99 L619,161 L619.4,161.01 L619.8,161.02 L620.2,161.03 L620.6,161.05 L621,161.06 L621.4,161.07 L621.8,161.08 L622.2,161.09 L622.6,161.1 L623,161.11 L623.4,161.12 L623.8,161.13 L624.2,161.14 L624.6,161.15 L625,161.16 L625.4,161.17 L625.8,161.19 L626.2,161.2 L626.6,161.21 L627,161.22 L627.4,161.23 L627.8,161.24 L628.2,161.25 L628.6,161.26 L629,161.27 L629.4,161.28 L629.8,161.29 L630.2,161.3 L630.6,161.32 L631,161.33 L631.4,161.34 L631.8,161.35 L632.2,161.36 L632.6,161.37 L633,161.38 L633.4,161.39 L633.8,161.4 L634.2,161.41 L634.6,161.42 L635,161.44 L635.4,161.45 L635.8,161.46 L636.2,161.47 L636.6,161.48 L637,161.49 L637.4,161.5 L637.8,161.51 L638.2,161.52 L638.6,161.53 L639,161.54 L639.4,161.56 L639.8,161.57 L640.2,161.58 L640.6,161.59 L641,161.6 L641.4,161.61 L641.8,161.62 L642.2,161.63 L642.6,161.64 L643,161.66 L643.4,161.67 L643.8,161.68 L644.2,161.69 L644.6,161.7 L645,161.71 L645.4,161.72 L645.8,161.73 L646.2,161.74 L646.6,161.75 L647,161.77 L647.4,161.78 L647.8,161.79 L648.2,161.8 L648.6,161.81 L649,161.82 L649.4,161.83 L649.8,161.84 L650.2,161.85 L650.6,161.87 L651,161.88 L651.4,161.89 L651.8,161.9 L652.2,161.91 L652.6,161.92 L653,161.93 L653.4,161.94 L653.8,161.96 L654.2,161.97 L654.6,161.98 L655,161.99 L655.4,162 L655.8,162.01 L656.2,162.02 L656.6,162.03 L657,162.05 L657.4,162.06 L657.8,162.07 L658.2,162.08 L658.6,162.09 L659,162.1 L659.4,162.11 L659.8,162.12 L660.2,162.14 L660.6,162.15 L661,162.16 L661.4,162.17 L661.8,162.18 L662.2,162.19 L662.6,162.2 L663,162.21 L663.4,162.23 L663.8,162.24 L664.2,162.25 L664.6,162.26 L665,162.27 L665.4,162.28 L665.8,162.29 L666.2,162.31 L666.6,162.32 L667,162.33 L667.4,162.34 L667.8,162.35 L668.2,162.36 L668.6,162.37 L669,162.39 L669.4,162.4 L669.8,162.41 L670.2,162.42 L670.6,162.43 L671,162.44 L671.4,162.45 L671.8,162.47 L672.2,162.48 L672.6,162.49 L673,162.5" fill="none" stroke="#c77fc8" stroke-width="1.1" stroke-opacity="1.0" stroke-linejoin="round" stroke-linecap="round" />
<path d="M524.2,118 L524.6,124.16 L525,129.67 L525.4,134.11 L525.8,137.43 L526.2,140.32 L526.6,142.83 L527,144.94 L527.4,146.64 L527.8,148 L528.2,149.21 L528.6,150.27 L529,151.2 L529.4,152.01 L529.8,152.7 L530.2,153.29 L530.6,153.84 L531,154.37 L531.4,154.86 L531.8,155.31 L532.2,155.72 L532.6,156.09 L533,156.41 L533.4,156.69 L533.8,156.91 L534.2,157.08 L534.6,157.24 L535,157.39 L535.4,157.53 L535.8,157.66 L536.2,157.79 L536.6,157.9 L537,158.01 L537.4,158.1 L537.8,158.19 L538.2,158.27 L538.6,158.34 L539,158.4 L539.4,158.44 L539.8,158.48 L540.2,158.51 L540.6,158.54 L541,158.57 L541.4,158.6 L541.8,158.63 L542.2,158.66 L542.6,158.68 L543,158.71 L543.4,158.74 L543.8,158.76 L544.2,158.79 L544.6,158.82 L545,158.84 L545.4,158.86 L545.8,158.89 L546.2,158.91 L546.6,158.94 L547,158.96 L547.4,158.98 L547.8,159 L548.2,159.03 L548.6,159.05 L549,159.07 L549.4,159.09 L549.8,159.11 L550.2,159.13 L550.6,159.15 L551,159.17 L551.4,159.19 L551.8,159.21 L552.2,159.23 L552.6,159.25 L553,159.27 L553.4,159.29 L553.8,159.3 L554.2,159.32 L554.6,159.34 L555,159.35 L555.4,159.37 L555.8,159.39 L556.2,159.4 L556.6,159.42 L557,159.44 L557.4,159.45 L557.8,159.47 L558.2,159.48 L558.6,159.5 L559,159.51 L559.4,159.52 L559.8,159.54 L560.2,159.55 L560.6,159.57 L561,159.58 L561.4,159.59 L561.8,159.6 L562.2,159.62 L562.6,159.63 L563,159.64 L563.4,159.65 L563.8,159.67 L564.2,159.68 L564.6,159.69 L565,159.7 L565.4,159.71 L565.8,159.72 L566.2,159.73 L566.6,159.75 L567,159.76 L567.4,159.77 L567.8,159.78 L568.2,159.79 L568.6,159.8 L569,159.81 L569.4,159.82 L569.8,159.83 L570.2,159.84 L570.6,159.85 L571,159.85 L571.4,159.86 L571.8,159.87 L572.2,159.88 L572.6,159.89 L573,159.9 L573.4,159.91 L573.8,159.92 L574.2,159.93 L574.6,159.93 L575,159.94 L575.4,159.95 L575.8,159.96 L576.2,159.97 L576.6,159.98 L577,159.98 L577.4,159.99 L577.8,160 L578.2,160.01 L578.6,160.02 L579,160.02 L579.4,160.03 L579.8,160.04 L580.2,160.05 L580.6,160.06 L581,160.06 L581.4,160.07 L581.8,160.08 L582.2,160.09 L582.6,160.09 L583,160.1 L583.4,160.11 L583.8,160.12 L584.2,160.13 L584.6,160.13 L585,160.14 L585.4,160.15 L585.8,160.16 L586.2,160.17 L586.6,160.17 L587,160.18 L587.4,160.19 L587.8,160.2 L588.2,160.21 L588.6,160.22 L589,160.22 L589.4,160.23 L589.8,160.24 L590.2,160.25 L590.6,160.26 L591,160.27 L591.4,160.28 L591.8,160.29 L592.2,160.29 L592.6,160.3 L593,160.31 L593.4,160.32 L593.8,160.33 L594.2,160.34 L594.6,160.35 L595,160.36 L595.4,160.37 L595.8,160.38 L596.2,160.39 L596.6,160.4 L597,160.41 L597.4,160.43 L597.8,160.44 L598.2,160.45 L598.6,160.46 L599,160.47 L599.4,160.48 L599.8,160.49 L600.2,160.51 L600.6,160.52 L601,160.53 L601.4,160.54 L601.8,160.55 L602.2,160.57 L602.6,160.58 L603,160.59 L603.4,160.6 L603.8,160.61 L604.2,160.63 L604.6,160.64 L605,160.65 L605.4,160.66 L605.8,160.67 L606.2,160.69 L606.6,160.7 L607,160.71 L607.4,160.72 L607.8,160.73 L608.2,160.75 L608.6,160.76 L609,160.77 L609.4,160.78 L609.8,160.79 L610.2,160.8 L610.6,160.82 L611,160.83 L611.4,160.84 L611.8,160.85 L612.2,160.86 L612.6,160.87 L613,160.89 L613.4,160.9 L613.8,160.91 L614.2,160.92 L614.6,160.93 L615,160.95 L615.4,160.96 L615.8,160.97 L616.2,160.98 L616.6,160.99 L617,161 L617.4,161.02 L617.8,161.03 L618.2,161.04 L618.6,161.05 L619,161.06 L619.4,161.07 L619.8,161.08 L620.2,161.1 L620.6,161.11 L621,161.12 L621.4,161.13 L621.8,161.14 L622.2,161.15 L622.6,161.16 L623,161.18 L623.4,161.19 L623.8,161.2 L624.2,161.21 L624.6,161.22 L625,161.23 L625.4,161.24 L625.8,161.26 L626.2,161.27 L626.6,161.28 L627,161.29 L627.4,161.3 L627.8,161.31 L628.2,161.32 L628.6,161.34 L629,161.35 L629.4,161.36 L629.8,161.37 L630.2,161.38 L630.6,161.39 L631,161.4 L631.4,161.41 L631.8,161.42 L632.2,161.44 L632.6,161.45 L633,161.46 L633.4,161.47 L633.8,161.48 L634.2,161.49 L634.6,161.5 L635,161.51 L635.4,161.52 L635.8,161.54 L636.2,161.55 L636.6,161.56 L637,161.57 L637.4,161.58 L637.8,161.59 L638.2,161.6 L638.6,161.61 L639,161.62 L639.4,161.63 L639.8,161.65 L640.2,161.66 L640.6,161.67 L641,161.68 L641.4,161.69 L641.8,161.7 L642.2,161.71 L642.6,161.72 L643,161.73 L643.4,161.74 L643.8,161.75 L644.2,161.76 L644.6,161.78 L645,161.79 L645.4,161.8 L645.8,161.81 L646.2,161.82 L646.6,161.83 L647,161.84 L647.4,161.85 L647.8,161.86 L648.2,161.87 L648.6,161.88 L649,161.89 L649.4,161.9 L649.8,161.91 L650.2,161.92 L650.6,161.93 L651,161.95 L651.4,161.96 L651.8,161.97 L652.2,161.98 L652.6,161.99 L653,162 L653.4,162.01 L653.8,162.02 L654.2,162.03 L654.6,162.04 L655,162.05 L655.4,162.06 L655.8,162.07 L656.2,162.08 L656.6,162.09 L657,162.1 L657.4,162.11 L657.8,162.12 L658.2,162.13 L658.6,162.14 L659,162.15 L659.4,162.16 L659.8,162.17 L660.2,162.18 L660.6,162.19 L661,162.2 L661.4,162.21 L661.8,162.22 L662.2,162.23 L662.6,162.24 L663,162.25 L663.4,162.26 L663.8,162.27 L664.2,162.28 L664.6,162.29 L665,162.3 L665.4,162.31 L665.8,162.32 L666.2,162.33 L666.6,162.34 L667,162.35 L667.4,162.36 L667.8,162.37 L668.2,162.38 L668.6,162.39 L669,162.4 L669.4,162.41 L669.8,162.42 L670.2,162.43 L670.6,162.44 L671,162.45 L671.4,162.46 L671.8,162.47 L672.2,162.48 L672.6,162.49 L673,162.5" fill="none" stroke="#8090d0" stroke-width="1.0" stroke-opacity="1.0" stroke-linejoin="round" stroke-linecap="round" />
<path d="M524.2,142 L524.6,148.25 L525,151.98 L525.4,154.25 L525.8,155.43 L526.2,156.34 L526.6,157.06 L527,157.61 L527.4,158.02 L527.8,158.33 L528.2,158.63 L528.6,158.89 L529,159.13 L529.4,159.33 L529.8,159.51 L530.2,159.64 L530.6,159.74 L531,159.8 L531.4,159.84 L531.8,159.87 L532.2,159.9 L532.6,159.93 L533,159.95 L533.4,159.98 L533.8,160 L534.2,160.02 L534.6,160.04 L535,160.06 L535.4,160.07 L535.8,160.09 L536.2,160.1 L536.6,160.11 L537,160.13 L537.4,160.14 L537.8,160.15 L538.2,160.16 L538.6,160.17 L539,160.18 L539.4,160.19 L539.8,160.2 L540.2,160.2 L540.6,160.21 L541,160.22 L541.4,160.23 L541.8,160.24 L542.2,160.25 L542.6,160.26 L543,160.27 L543.4,160.28 L543.8,160.28 L544.2,160.29 L544.6,160.3 L545,160.31 L545.4,160.32 L545.8,160.32 L546.2,160.33 L546.6,160.34 L547,160.35 L547.4,160.36 L547.8,160.36 L548.2,160.37 L548.6,160.38 L549,160.38 L549.4,160.39 L549.8,160.4 L550.2,160.4 L550.6,160.41 L551,160.42 L551.4,160.42 L551.8,160.43 L552.2,160.44 L552.6,160.44 L553,160.45 L553.4,160.46 L553.8,160.46 L554.2,160.47 L554.6,160.47 L555,160.48 L555.4,160.49 L555.8,160.49 L556.2,160.5 L556.6,160.5 L557,160.51 L557.4,160.51 L557.8,160.52 L558.2,160.52 L558.6,160.53 L559,160.53 L559.4,160.54 L559.8,160.54 L560.2,160.55 L560.6,160.55 L561,160.56 L561.4,160.56 L561.8,160.57 L562.2,160.57 L562.6,160.58 L563,160.58 L563.4,160.59 L563.8,160.59 L564.2,160.6 L564.6,160.6 L565,160.6 L565.4,160.61 L565.8,160.61 L566.2,160.62 L566.6,160.62 L567,160.63 L567.4,160.63 L567.8,160.63 L568.2,160.64 L568.6,160.64 L569,160.65 L569.4,160.65 L569.8,160.65 L570.2,160.66 L570.6,160.66 L571,160.67 L571.4,160.67 L571.8,160.67 L572.2,160.68 L572.6,160.68 L573,160.69 L573.4,160.69 L573.8,160.69 L574.2,160.7 L574.6,160.7 L575,160.71 L575.4,160.71 L575.8,160.71 L576.2,160.72 L576.6,160.72 L577,160.73 L577.4,160.73 L577.8,160.73 L578.2,160.74 L578.6,160.74 L579,160.75 L579.4,160.75 L579.8,160.75 L580.2,160.76 L580.6,160.76 L581,160.76 L581.4,160.77 L581.8,160.77 L582.2,160.78 L582.6,160.78 L583,160.79 L583.4,160.79 L583.8,160.79 L584.2,160.8 L584.6,160.8 L585,160.81 L585.4,160.81 L585.8,160.81 L586.2,160.82 L586.6,160.82 L587,160.83 L587.4,160.83 L587.8,160.84 L588.2,160.84 L588.6,160.85 L589,160.85 L589.4,160.85 L589.8,160.86 L590.2,160.86 L590.6,160.87 L591,160.87 L591.4,160.88 L591.8,160.88 L592.2,160.89 L592.6,160.89 L593,160.9 L593.4,160.9 L593.8,160.91 L594.2,160.91 L594.6,160.92 L595,160.93 L595.4,160.93 L595.8,160.94 L596.2,160.94 L596.6,160.95 L597,160.95 L597.4,160.96 L597.8,160.97 L598.2,160.97 L598.6,160.98 L599,160.98 L599.4,160.99 L599.8,161 L600.2,161 L600.6,161.01 L601,161.02 L601.4,161.02 L601.8,161.03 L602.2,161.04 L602.6,161.04 L603,161.05 L603.4,161.06 L603.8,161.06 L604.2,161.07 L604.6,161.08 L605,161.08 L605.4,161.09 L605.8,161.1 L606.2,161.1 L606.6,161.11 L607,161.12 L607.4,161.12 L607.8,161.13 L608.2,161.14 L608.6,161.14 L609,161.15 L609.4,161.16 L609.8,161.16 L610.2,161.17 L610.6,161.18 L611,161.18 L611.4,161.19 L611.8,161.2 L612.2,161.21 L612.6,161.21 L613,161.22 L613.4,161.23 L613.8,161.23 L614.2,161.24 L614.6,161.25 L615,161.26 L615.4,161.26 L615.8,161.27 L616.2,161.28 L616.6,161.29 L617,161.29 L617.4,161.3 L617.8,161.31 L618.2,161.31 L618.6,161.32 L619,161.33 L619.4,161.34 L619.8,161.34 L620.2,161.35 L620.6,161.36 L621,161.37 L621.4,161.37 L621.8,161.38 L622.2,161.39 L622.6,161.4 L623,161.4 L623.4,161.41 L623.8,161.42 L624.2,161.43 L624.6,161.44 L625,161.44 L625.4,161.45 L625.8,161.46 L626.2,161.47 L626.6,161.47 L627,161.48 L627.4,161.49 L627.8,161.5 L628.2,161.51 L628.6,161.51 L629,161.52 L629.4,161.53 L629.8,161.54 L630.2,161.54 L630.6,161.55 L631,161.56 L631.4,161.57 L631.8,161.58 L632.2,161.59 L632.6,161.59 L633,161.6 L633.4,161.61 L633.8,161.62 L634.2,161.63 L634.6,161.63 L635,161.64 L635.4,161.65 L635.8,161.66 L636.2,161.67 L636.6,161.67 L637,161.68 L637.4,161.69 L637.8,161.7 L638.2,161.71 L638.6,161.72 L639,161.72 L639.4,161.73 L639.8,161.74 L640.2,161.75 L640.6,161.76 L641,161.77 L641.4,161.78 L641.8,161.78 L642.2,161.79 L642.6,161.8 L643,161.81 L643.4,161.82 L643.8,161.83 L644.2,161.84 L644.6,161.84 L645,161.85 L645.4,161.86 L645.8,161.87 L646.2,161.88 L646.6,161.89 L647,161.9 L647.4,161.91 L647.8,161.91 L648.2,161.92 L648.6,161.93 L649,161.94 L649.4,161.95 L649.8,161.96 L650.2,161.97 L650.6,161.98 L651,161.98 L651.4,161.99 L651.8,162 L652.2,162.01 L652.6,162.02 L653,162.03 L653.4,162.04 L653.8,162.05 L654.2,162.06 L654.6,162.07 L655,162.07 L655.4,162.08 L655.8,162.09 L656.2,162.1 L656.6,162.11 L657,162.12 L657.4,162.13 L657.8,162.14 L658.2,162.15 L658.6,162.16 L659,162.17 L659.4,162.18 L659.8,162.18 L660.2,162.19 L660.6,162.2 L661,162.21 L661.4,162.22 L661.8,162.23 L662.2,162.24 L662.6,162.25 L663,162.26 L663.4,162.27 L663.8,162.28 L664.2,162.29 L664.6,162.3 L665,162.31 L665.4,162.32 L665.8,162.33 L666.2,162.34 L666.6,162.35 L667,162.35 L667.4,162.36 L667.8,162.37 L668.2,162.38 L668.6,162.39 L669,162.4 L669.4,162.41 L669.8,162.42 L670.2,162.43 L670.6,162.44 L671,162.45 L671.4,162.46 L671.8,162.47 L672.2,162.48 L672.6,162.49 L673,162.5" fill="none" stroke="#111" stroke-width="1.2" stroke-opacity="1.0" stroke-linejoin="round" stroke-linecap="round" />
</g>
<rect x="523.8" y="19.1" width="149.5" height="149.8" fill="none" stroke="#333" stroke-width="1.3"/>
<line x1="527" y1="168.9" x2="527" y2="165.4" stroke="#333" stroke-width="1.2"/>
<line x1="545.2" y1="168.9" x2="545.2" y2="165.4" stroke="#333" stroke-width="1.2"/>
<line x1="563.4" y1="168.9" x2="563.4" y2="165.4" stroke="#333" stroke-width="1.2"/>
<line x1="581.6" y1="168.9" x2="581.6" y2="165.4" stroke="#333" stroke-width="1.2"/>
<line x1="599.8" y1="168.9" x2="599.8" y2="165.4" stroke="#333" stroke-width="1.2"/>
<line x1="618" y1="168.9" x2="618" y2="165.4" stroke="#333" stroke-width="1.2"/>
<line x1="636.2" y1="168.9" x2="636.2" y2="165.4" stroke="#333" stroke-width="1.2"/>
<line x1="654.4" y1="168.9" x2="654.4" y2="165.4" stroke="#333" stroke-width="1.2"/>
<line x1="672.6" y1="168.9" x2="672.6" y2="165.4" stroke="#333" stroke-width="1.2"/>
<line x1="523.8" y1="57.9" x2="527.8" y2="57.9" stroke="#333" stroke-width="1.2"/>
<line x1="523.8" y1="95" x2="527.8" y2="95" stroke="#333" stroke-width="1.2"/>
<line x1="523.8" y1="132.1" x2="527.8" y2="132.1" stroke="#333" stroke-width="1.2"/>
<text x="518.3" y="23.1" font-size="11.5" text-anchor="end" fill="#231f20" font-weight="normal" >1,000</text>
<text x="518.3" y="59.6" font-size="11.5" text-anchor="end" fill="#231f20" font-weight="normal" >800</text>
<text x="518.3" y="97.3" font-size="11.5" text-anchor="end" fill="#231f20" font-weight="normal" >600</text>
<text x="518.3" y="134.3" font-size="11.5" text-anchor="end" fill="#231f20" font-weight="normal" >400</text>
<text x="518.3" y="170.9" font-size="11.5" text-anchor="end" fill="#231f20" font-weight="normal" >200</text>
<text transform="translate(531,179.3) rotate(-45)" font-size="11.5" text-anchor="end" fill="#231f20">180</text>
<text transform="translate(549.2,179.3) rotate(-45)" font-size="11.5" text-anchor="end" fill="#231f20">190</text>
<text transform="translate(567.4,179.3) rotate(-45)" font-size="11.5" text-anchor="end" fill="#231f20">200</text>
<text transform="translate(585.6,179.3) rotate(-45)" font-size="11.5" text-anchor="end" fill="#231f20">210</text>
<text transform="translate(603.8,179.3) rotate(-45)" font-size="11.5" text-anchor="end" fill="#231f20">220</text>
<text transform="translate(622,179.3) rotate(-45)" font-size="11.5" text-anchor="end" fill="#231f20">230</text>
<text transform="translate(640.2,179.3) rotate(-45)" font-size="11.5" text-anchor="end" fill="#231f20">240</text>
<text transform="translate(658.4,179.3) rotate(-45)" font-size="11.5" text-anchor="end" fill="#231f20">250</text>
<text transform="translate(676.6,179.3) rotate(-45)" font-size="11.5" text-anchor="end" fill="#231f20">260</text>
<text x="602.5" y="208.7" font-size="11.5" text-anchor="middle" fill="#231f20" font-weight="normal" textLength="82.5" lengthAdjust="spacingAndGlyphs" >Wavelength, nm</text>
<text transform="translate(479,94) rotate(-90)" font-size="11.5" text-anchor="middle" fill="#231f20" textLength="79.8" lengthAdjust="spacingAndGlyphs">Dynode Voltage</text>
<text x="578.9" y="29.8" font-size="11.5" text-anchor="start" fill="#231f20" font-weight="normal" >0.1-cm cell</text>
<line x1="579.6" y1="37.6" x2="601" y2="37.6" stroke="#111" stroke-width="1.3"/>
<text x="604.9" y="41.5" font-size="11.5" text-anchor="start" fill="#231f20" font-weight="normal" >Air</text>
<line x1="579.6" y1="49.3" x2="601" y2="49.3" stroke="#d9434e" stroke-width="1.3"/>
<text x="604.9" y="53" font-size="11.5" text-anchor="start" fill="#231f20" font-weight="normal" >Water</text>
<line x1="579.6" y1="61.8" x2="601" y2="61.8" stroke="#2f9a5a" stroke-width="1.3"/>
<text x="604.9" y="66" font-size="11.5" text-anchor="start" fill="#231f20" font-weight="normal" >Buffer</text>
<line x1="579.6" y1="74.4" x2="601" y2="74.4" stroke="#e8956a" stroke-width="1.3"/>
<text x="604.9" y="77.7" font-size="11.5" fill="#231f20" text-anchor="start">0.09 mg ml<tspan font-size="8.6" dx="0.4" dy="-4.4">−1</tspan></text>
<line x1="579.6" y1="86" x2="601" y2="86" stroke="#3d4fa0" stroke-width="1.3"/>
<text x="604.9" y="90.1" font-size="11.5" fill="#231f20" text-anchor="start">0.41 mg ml<tspan font-size="8.6" dx="0.4" dy="-4.4">−1</tspan></text>
<text x="579.4" y="102.1" font-size="11.5" text-anchor="start" fill="#231f20" font-weight="normal" >0.01-cm cell</text>
<line x1="580.1" y1="111" x2="602" y2="111" stroke="#c77fc8" stroke-width="1.3"/>
<text x="605" y="113.8" font-size="11.5" text-anchor="start" fill="#231f20" font-weight="normal" >Buffer</text>
<line x1="580.1" y1="121.8" x2="602" y2="121.8" stroke="#3bbcd0" stroke-width="1.3"/>
<text x="605" y="124.9" font-size="11.5" fill="#231f20" text-anchor="start">0.41 mg ml<tspan font-size="8.6" dx="0.4" dy="-4.4">−1</tspan></text>
<line x1="580.1" y1="133.2" x2="602" y2="133.2" stroke="#a04a30" stroke-width="1.3"/>
<text x="605" y="137.1" font-size="11.5" fill="#231f20" text-anchor="start">0.83 mg ml<tspan font-size="8.6" dx="0.4" dy="-4.4">−1</tspan></text>
<clipPath id="cd"><rect x="68.5" y="244.6" width="149.7" height="148.9"/></clipPath>
<g clip-path="url(#cd)">
<path d="M68.5,322.5 L68.9,322.24 L69.3,321.9 L69.7,321.5 L70.1,321.03 L70.5,320.51 L70.9,319.94 L71.3,319.33 L71.7,318.69 L72.1,318.02 L72.5,317.32 L72.9,316.49 L73.3,315.53 L73.7,314.45 L74.1,313.29 L74.5,312.09 L74.9,310.88 L75.3,309.69 L75.7,308.55 L76.1,307.5 L76.5,306.51 L76.9,305.55 L77.3,304.6 L77.7,303.67 L78.1,302.75 L78.5,301.84 L78.9,300.94 L79.3,300.05 L79.7,299.16 L80.1,298.28 L80.5,297.41 L80.9,296.55 L81.3,295.7 L81.7,294.86 L82.1,294.03 L82.5,293.19 L82.9,292.35 L83.3,291.51 L83.7,290.65 L84.1,289.78 L84.5,288.9 L84.9,288 L85.3,287.09 L85.7,286.18 L86.1,285.27 L86.5,284.36 L86.9,283.45 L87.3,282.55 L87.7,281.66 L88.1,280.78 L88.5,279.89 L88.9,278.99 L89.3,278.09 L89.7,277.2 L90.1,276.31 L90.5,275.44 L90.9,274.6 L91.3,273.8 L91.7,273.04 L92.1,272.33 L92.5,271.63 L92.9,270.95 L93.3,270.3 L93.7,269.68 L94.1,269.1 L94.5,268.57 L94.9,268.11 L95.3,267.69 L95.7,267.28 L96.1,266.9 L96.5,266.56 L96.9,266.28 L97.3,266.07 L97.7,265.94 L98.1,265.83 L98.5,265.72 L98.9,265.64 L99.3,265.57 L99.7,265.52 L100.1,265.5 L100.5,265.52 L100.9,265.59 L101.3,265.7 L101.7,265.86 L102.1,266.04 L102.5,266.24 L102.9,266.45 L103.3,266.67 L103.7,266.95 L104.1,267.29 L104.5,267.67 L104.9,268.1 L105.3,268.58 L105.7,269.1 L106.1,269.65 L106.5,270.25 L106.9,270.9 L107.3,271.69 L107.7,272.6 L108.1,273.62 L108.5,274.72 L108.9,275.9 L109.3,277.13 L109.7,278.4 L110.1,279.7 L110.5,281.1 L110.9,282.67 L111.3,284.34 L111.7,286.05 L112.1,287.76 L112.5,289.4 L112.9,291.01 L113.3,292.6 L113.7,294.2 L114.1,295.81 L114.5,297.46 L114.9,299.15 L115.3,300.88 L115.7,302.64 L116.1,304.42 L116.5,306.23 L116.9,308.06 L117.3,309.87 L117.7,311.69 L118.1,313.52 L118.5,315.39 L118.9,317.32 L119.3,319.33 L119.7,321.44 L120.1,323.71 L120.5,326.11 L120.9,328.58 L121.3,331.06 L121.7,333.49 L122.1,335.89 L122.5,338.3 L122.9,340.71 L123.3,343.08 L123.7,345.4 L124.1,347.7 L124.5,350.02 L124.9,352.3 L125.3,354.48 L125.7,356.49 L126.1,358.29 L126.5,359.94 L126.9,361.48 L127.3,362.93 L127.7,364.32 L128.1,365.65 L128.5,366.95 L128.9,368.26 L129.3,369.57 L129.7,370.84 L130.1,372.02 L130.5,373.09 L130.9,374 L131.3,374.72 L131.7,375.35 L132.1,375.92 L132.5,376.43 L132.9,376.88 L133.3,377.27 L133.7,377.6 L134.1,377.86 L134.5,378.06 L134.9,378.26 L135.3,378.45 L135.7,378.63 L136.1,378.81 L136.5,378.97 L136.9,379.11 L137.3,379.23 L137.7,379.32 L138.1,379.38 L138.5,379.4 L138.9,379.37 L139.3,379.28 L139.7,379.14 L140.1,378.96 L140.5,378.76 L140.9,378.54 L141.3,378.3 L141.7,378.08 L142.1,377.86 L142.5,377.66 L142.9,377.48 L143.3,377.29 L143.7,377.09 L144.1,376.87 L144.5,376.65 L144.9,376.41 L145.3,376.16 L145.7,375.9 L146.1,375.64 L146.5,375.37 L146.9,375.09 L147.3,374.8 L147.7,374.48 L148.1,374.15 L148.5,373.81 L148.9,373.48 L149.3,373.16 L149.7,372.86 L150.1,372.59 L150.5,372.33 L150.9,372.07 L151.3,371.83 L151.7,371.58 L152.1,371.35 L152.5,371.12 L152.9,370.89 L153.3,370.67 L153.7,370.46 L154.1,370.26 L154.5,370.07 L154.9,369.88 L155.3,369.7 L155.7,369.52 L156.1,369.34 L156.5,369.16 L156.9,369 L157.3,368.84 L157.7,368.71 L158.1,368.59 L158.5,368.5 L158.9,368.42 L159.3,368.35 L159.7,368.29 L160.1,368.23 L160.5,368.17 L160.9,368.12 L161.3,368.07 L161.7,368.03 L162.1,367.99 L162.5,367.95 L162.9,367.91 L163.3,367.88 L163.7,367.84 L164.1,367.81 L164.5,367.77 L164.9,367.74 L165.3,367.71 L165.7,367.68 L166.1,367.65 L166.5,367.63 L166.9,367.61 L167.3,367.59 L167.7,367.57 L168.1,367.55 L168.5,367.53 L168.9,367.51 L169.3,367.5 L169.7,367.48 L170.1,367.46 L170.5,367.44 L170.9,367.41 L171.3,367.39 L171.7,367.36 L172.1,367.33 L172.5,367.3 L172.9,367.26 L173.3,367.22 L173.7,367.17 L174.1,367.1 L174.5,367.02 L174.9,366.92 L175.3,366.81 L175.7,366.69 L176.1,366.56 L176.5,366.42 L176.9,366.27 L177.3,366.12 L177.7,365.97 L178.1,365.81 L178.5,365.65 L178.9,365.49 L179.3,365.33 L179.7,365.18 L180.1,365.03 L180.5,364.88 L180.9,364.73 L181.3,364.58 L181.7,364.43 L182.1,364.27 L182.5,364.11 L182.9,363.95 L183.3,363.78 L183.7,363.61 L184.1,363.44 L184.5,363.26 L184.9,363.07 L185.3,362.88 L185.7,362.68 L186.1,362.48 L186.5,362.27 L186.9,362.04 L187.3,361.8 L187.7,361.55 L188.1,361.29 L188.5,361.02 L188.9,360.74 L189.3,360.45 L189.7,360.16 L190.1,359.86 L190.5,359.55 L190.9,359.24 L191.3,358.93 L191.7,358.6 L192.1,358.28 L192.5,357.94 L192.9,357.6 L193.3,357.24 L193.7,356.88 L194.1,356.51 L194.5,356.12 L194.9,355.73 L195.3,355.32 L195.7,354.9 L196.1,354.46 L196.5,354 L196.9,353.52 L197.3,353.01 L197.7,352.49 L198.1,351.97 L198.5,351.43 L198.9,350.9 L199.3,350.36 L199.7,349.83 L200.1,349.31 L200.5,348.78 L200.9,348.23 L201.3,347.67 L201.7,347.11 L202.1,346.54 L202.5,345.98 L202.9,345.43 L203.3,344.89 L203.7,344.37 L204.1,343.88 L204.5,343.41 L204.9,342.98 L205.3,342.58 L205.7,342.18 L206.1,341.79 L206.5,341.41 L206.9,341.04 L207.3,340.68 L207.7,340.34 L208.1,340.01 L208.5,339.7 L208.9,339.41 L209.3,339.14 L209.7,338.9 L210.1,338.68 L210.5,338.46 L210.9,338.25 L211.3,338.04 L211.7,337.83 L212.1,337.63 L212.5,337.44 L212.9,337.25 L213.3,337.06 L213.7,336.89 L214.1,336.72 L214.5,336.56 L214.9,336.41 L215.3,336.26 L215.7,336.13 L216.1,336.01 L216.5,335.91 L216.9,335.81 L217.3,335.73 L217.7,335.66 L218.1,335.61" fill="none" stroke="#3bbcd0" stroke-width="1.2" stroke-opacity="1.0" stroke-linejoin="round" stroke-linecap="round" />
<path d="M68.5,321.8 L68.9,321.54 L69.3,321.2 L69.7,320.8 L70.1,320.33 L70.5,319.81 L70.9,319.24 L71.3,318.63 L71.7,317.99 L72.1,317.32 L72.5,316.62 L72.9,315.79 L73.3,314.83 L73.7,313.75 L74.1,312.59 L74.5,311.39 L74.9,310.18 L75.3,308.99 L75.7,307.85 L76.1,306.8 L76.5,305.81 L76.9,304.85 L77.3,303.9 L77.7,302.97 L78.1,302.05 L78.5,301.14 L78.9,300.24 L79.3,299.35 L79.7,298.46 L80.1,297.58 L80.5,296.71 L80.9,295.85 L81.3,295 L81.7,294.16 L82.1,293.33 L82.5,292.49 L82.9,291.65 L83.3,290.81 L83.7,289.95 L84.1,289.08 L84.5,288.2 L84.9,287.3 L85.3,286.39 L85.7,285.48 L86.1,284.57 L86.5,283.66 L86.9,282.75 L87.3,281.85 L87.7,280.96 L88.1,280.08 L88.5,279.19 L88.9,278.29 L89.3,277.39 L89.7,276.5 L90.1,275.61 L90.5,274.74 L90.9,273.9 L91.3,273.1 L91.7,272.34 L92.1,271.63 L92.5,270.93 L92.9,270.25 L93.3,269.6 L93.7,268.98 L94.1,268.4 L94.5,267.87 L94.9,267.41 L95.3,266.99 L95.7,266.58 L96.1,266.2 L96.5,265.86 L96.9,265.58 L97.3,265.37 L97.7,265.24 L98.1,265.13 L98.5,265.02 L98.9,264.94 L99.3,264.87 L99.7,264.82 L100.1,264.8 L100.5,264.82 L100.9,264.89 L101.3,265 L101.7,265.16 L102.1,265.34 L102.5,265.54 L102.9,265.75 L103.3,265.97 L103.7,266.25 L104.1,266.59 L104.5,266.97 L104.9,267.4 L105.3,267.88 L105.7,268.4 L106.1,268.95 L106.5,269.55 L106.9,270.2 L107.3,270.99 L107.7,271.9 L108.1,272.92 L108.5,274.02 L108.9,275.2 L109.3,276.43 L109.7,277.7 L110.1,279 L110.5,280.4 L110.9,281.97 L111.3,283.64 L111.7,285.35 L112.1,287.46 L112.5,289.1 L112.9,290.71 L113.3,292.3 L113.7,293.9 L114.1,295.51 L114.5,297.16 L114.9,298.85 L115.3,300.58 L115.7,302.34 L116.1,304.12 L116.5,305.93 L116.9,307.76 L117.3,309.57 L117.7,311.39 L118.1,313.22 L118.5,315.09 L118.9,317.02 L119.3,319.03 L119.7,321.14 L120.1,323.41 L120.5,325.81 L120.9,328.28 L121.3,330.77 L121.7,333.2 L122.1,335.6 L122.5,338.02 L122.9,340.42 L123.3,342.8 L123.7,345.13 L124.1,347.43 L124.5,349.76 L124.9,352.05 L125.3,354.25 L125.7,356.27 L126.1,358.08 L126.5,359.75 L126.9,361.32 L127.3,362.8 L127.7,364.22 L128.1,365.59 L128.5,366.94 L128.9,368.3 L129.3,369.66 L129.7,370.99 L130.1,372.25 L130.5,373.39 L130.9,374.38 L131.3,375.19 L131.7,375.9 L132.1,376.57 L132.5,377.18 L132.9,377.74 L133.3,378.24 L133.7,378.67 L134.1,379.04 L134.5,379.35 L134.9,379.65 L135.3,379.93 L135.7,380.21 L136.1,380.47 L136.5,380.7 L136.9,380.9 L137.3,381.07 L137.7,381.19 L138.1,381.27 L138.5,381.3 L138.9,381.26 L139.3,381.15 L139.7,380.97 L140.1,380.75 L140.5,380.49 L140.9,380.19 L141.3,379.88 L141.7,379.56 L142.1,379.24 L142.5,378.94 L142.9,378.66 L143.3,378.36 L143.7,378.06 L144.1,377.73 L144.5,377.4 L144.9,377.06 L145.3,376.71 L145.7,376.36 L146.1,376.01 L146.5,375.66 L146.9,375.31 L147.3,374.95 L147.7,374.57 L148.1,374.19 L148.5,373.8 L148.9,373.42 L149.3,373.06 L149.7,372.73 L150.1,372.43 L150.5,372.14 L150.9,371.86 L151.3,371.59 L151.7,371.33 L152.1,371.08 L152.5,370.83 L152.9,370.6 L153.3,370.37 L153.7,370.15 L154.1,369.94 L154.5,369.74 L154.9,369.55 L155.3,369.36 L155.7,369.17 L156.1,368.99 L156.5,368.81 L156.9,368.64 L157.3,368.48 L157.7,368.34 L158.1,368.22 L158.5,368.12 L158.9,368.04 L159.3,367.97 L159.7,367.9 L160.1,367.84 L160.5,367.78 L160.9,367.73 L161.3,367.67 L161.7,367.63 L162.1,367.58 L162.5,367.54 L162.9,367.5 L163.3,367.46 L163.7,367.42 L164.1,367.38 L164.5,367.35 L164.9,367.31 L165.3,367.27 L165.7,367.24 L166.1,367.21 L166.5,367.18 L166.9,367.16 L167.3,367.13 L167.7,367.11 L168.1,367.09 L168.5,367.07 L168.9,367.05 L169.3,367.02 L169.7,367 L170.1,366.98 L170.5,366.95 L170.9,366.93 L171.3,366.9 L171.7,366.87 L172.1,366.84 L172.5,366.8 L172.9,366.76 L173.3,366.71 L173.7,366.66 L174.1,366.59 L174.5,366.5 L174.9,366.4 L175.3,366.29 L175.7,366.16 L176.1,366.03 L176.5,365.89 L176.9,365.74 L177.3,365.58 L177.7,365.42 L178.1,365.26 L178.5,365.1 L178.9,364.93 L179.3,364.77 L179.7,364.62 L180.1,364.46 L180.5,364.31 L180.9,364.16 L181.3,364 L181.7,363.85 L182.1,363.69 L182.5,363.52 L182.9,363.36 L183.3,363.19 L183.7,363.02 L184.1,362.84 L184.5,362.65 L184.9,362.47 L185.3,362.27 L185.7,362.07 L186.1,361.86 L186.5,361.65 L186.9,361.42 L187.3,361.18 L187.7,360.92 L188.1,360.66 L188.5,360.38 L188.9,360.1 L189.3,359.81 L189.7,359.51 L190.1,359.2 L190.5,358.89 L190.9,358.58 L191.3,358.26 L191.7,357.94 L192.1,357.6 L192.5,357.26 L192.9,356.92 L193.3,356.56 L193.7,356.19 L194.1,355.82 L194.5,355.43 L194.9,355.03 L195.3,354.62 L195.7,354.2 L196.1,353.76 L196.5,353.29 L196.9,352.8 L197.3,352.29 L197.7,351.77 L198.1,351.24 L198.5,350.7 L198.9,350.16 L199.3,349.63 L199.7,349.09 L200.1,348.57 L200.5,348.03 L200.9,347.48 L201.3,346.92 L201.7,346.35 L202.1,345.78 L202.5,345.21 L202.9,344.66 L203.3,344.12 L203.7,343.6 L204.1,343.1 L204.5,342.63 L204.9,342.2 L205.3,341.79 L205.7,341.39 L206.1,340.99 L206.5,340.61 L206.9,340.23 L207.3,339.87 L207.7,339.53 L208.1,339.2 L208.5,338.89 L208.9,338.59 L209.3,338.32 L209.7,338.07 L210.1,337.85 L210.5,337.63 L210.9,337.41 L211.3,337.2 L211.7,336.99 L212.1,336.78 L212.5,336.58 L212.9,336.39 L213.3,336.2 L213.7,336.02 L214.1,335.85 L214.5,335.69 L214.9,335.53 L215.3,335.39 L215.7,335.25 L216.1,335.13 L216.5,335.02 L216.9,334.92 L217.3,334.84 L217.7,334.77 L218.1,334.71" fill="none" stroke="#2f9a5a" stroke-width="1.2" stroke-opacity="1.0" stroke-linejoin="round" stroke-linecap="round" />
<path d="M68.5,324.1 L68.9,323.84 L69.3,323.5 L69.7,323.1 L70.1,322.63 L70.5,322.11 L70.9,321.54 L71.3,320.93 L71.7,320.29 L72.1,319.62 L72.5,318.92 L72.9,318.09 L73.3,317.13 L73.7,316.05 L74.1,314.89 L74.5,313.69 L74.9,312.48 L75.3,311.29 L75.7,310.15 L76.1,309.1 L76.5,308.11 L76.9,307.15 L77.3,306.2 L77.7,305.27 L78.1,304.35 L78.5,303.44 L78.9,302.54 L79.3,301.65 L79.7,300.76 L80.1,299.88 L80.5,299.01 L80.9,298.15 L81.3,297.3 L81.7,296.46 L82.1,295.63 L82.5,294.79 L82.9,293.95 L83.3,293.11 L83.7,292.25 L84.1,291.38 L84.5,290.5 L84.9,289.6 L85.3,288.69 L85.7,287.78 L86.1,286.87 L86.5,285.96 L86.9,285.05 L87.3,284.15 L87.7,283.26 L88.1,282.38 L88.5,281.49 L88.9,280.59 L89.3,279.69 L89.7,278.8 L90.1,277.91 L90.5,277.04 L90.9,276.2 L91.3,275.4 L91.7,274.64 L92.1,273.93 L92.5,273.23 L92.9,272.55 L93.3,271.9 L93.7,271.28 L94.1,270.7 L94.5,270.17 L94.9,269.71 L95.3,269.29 L95.7,268.88 L96.1,268.5 L96.5,268.16 L96.9,267.88 L97.3,267.67 L97.7,267.54 L98.1,267.43 L98.5,267.32 L98.9,267.24 L99.3,267.17 L99.7,267.12 L100.1,267.1 L100.5,267.12 L100.9,267.19 L101.3,267.3 L101.7,267.46 L102.1,267.64 L102.5,267.84 L102.9,268.05 L103.3,268.27 L103.7,268.55 L104.1,268.89 L104.5,269.27 L104.9,269.7 L105.3,270.18 L105.7,270.7 L106.1,271.25 L106.5,271.85 L106.9,272.5 L107.3,273.29 L107.7,274.2 L108.1,275.22 L108.5,276.32 L108.9,277.5 L109.3,278.73 L109.7,280 L110.1,281.3 L110.5,282.7 L110.9,284.27 L111.3,285.94 L111.7,287.65 L112.1,288.06 L112.5,289.7 L112.9,291.31 L113.3,292.9 L113.7,294.5 L114.1,296.11 L114.5,297.76 L114.9,299.45 L115.3,301.18 L115.7,302.94 L116.1,304.72 L116.5,306.53 L116.9,308.36 L117.3,310.17 L117.7,311.99 L118.1,313.82 L118.5,315.69 L118.9,317.62 L119.3,319.63 L119.7,321.74 L120.1,324.01 L120.5,326.41 L120.9,328.88 L121.3,331.37 L121.7,333.8 L122.1,336.2 L122.5,338.62 L122.9,341.02 L123.3,343.4 L123.7,345.73 L124.1,348.03 L124.5,350.36 L124.9,352.65 L125.3,354.85 L125.7,356.87 L126.1,358.68 L126.5,360.35 L126.9,361.92 L127.3,363.4 L127.7,364.82 L128.1,366.19 L128.5,367.54 L128.9,368.9 L129.3,370.26 L129.7,371.59 L130.1,372.85 L130.5,373.99 L130.9,374.98 L131.3,375.79 L131.7,376.5 L132.1,377.17 L132.5,377.78 L132.9,378.34 L133.3,378.84 L133.7,379.27 L134.1,379.64 L134.5,379.95 L134.9,380.25 L135.3,380.53 L135.7,380.81 L136.1,381.07 L136.5,381.3 L136.9,381.5 L137.3,381.67 L137.7,381.79 L138.1,381.87 L138.5,381.9 L138.9,381.86 L139.3,381.75 L139.7,381.57 L140.1,381.35 L140.5,381.09 L140.9,380.79 L141.3,380.48 L141.7,380.16 L142.1,379.84 L142.5,379.54 L142.9,379.26 L143.3,378.96 L143.7,378.66 L144.1,378.33 L144.5,378 L144.9,377.66 L145.3,377.31 L145.7,376.96 L146.1,376.61 L146.5,376.26 L146.9,375.91 L147.3,375.55 L147.7,375.17 L148.1,374.79 L148.5,374.4 L148.9,374.02 L149.3,373.66 L149.7,373.33 L150.1,372.73 L150.5,372.45 L150.9,372.19 L151.3,371.93 L151.7,371.68 L152.1,371.43 L152.5,371.2 L152.9,370.97 L153.3,370.76 L153.7,370.55 L154.1,370.35 L154.5,370.16 L154.9,369.98 L155.3,369.8 L155.7,369.62 L156.1,369.45 L156.5,369.28 L156.9,369.12 L157.3,368.97 L157.7,368.84 L158.1,368.73 L158.5,368.65 L158.9,368.58 L159.3,368.52 L159.7,368.46 L160.1,368.41 L160.5,368.36 L160.9,368.31 L161.3,368.27 L161.7,368.24 L162.1,368.2 L162.5,368.17 L162.9,368.14 L163.3,368.11 L163.7,368.08 L164.1,368.06 L164.5,368.03 L164.9,368 L165.3,367.98 L165.7,367.96 L166.1,367.94 L166.5,367.92 L166.9,367.9 L167.3,367.89 L167.7,367.88 L168.1,367.87 L168.5,367.86 L168.9,367.85 L169.3,367.84 L169.7,367.82 L170.1,367.81 L170.5,367.8 L170.9,367.78 L171.3,367.76 L171.7,367.74 L172.1,367.72 L172.5,367.69 L172.9,367.66 L173.3,367.63 L173.7,367.59 L174.1,367.53 L174.5,367.45 L174.9,367.36 L175.3,367.26 L175.7,367.14 L176.1,367.02 L176.5,366.89 L176.9,366.75 L177.3,366.6 L177.7,366.46 L178.1,366.3 L178.5,366.15 L178.9,366 L179.3,365.85 L179.7,365.7 L180.1,365.56 L180.5,365.42 L180.9,365.27 L181.3,365.13 L181.7,364.98 L182.1,364.84 L182.5,364.68 L182.9,364.53 L183.3,364.37 L183.7,364.21 L184.1,364.04 L184.5,363.87 L184.9,363.69 L185.3,363.51 L185.7,363.31 L186.1,363.12 L186.5,362.91 L186.9,362.69 L187.3,362.46 L187.7,362.22 L188.1,361.97 L188.5,361.7 L188.9,361.43 L189.3,361.15 L189.7,360.86 L190.1,360.56 L190.5,360.26 L190.9,359.96 L191.3,359.65 L191.7,359.34 L192.1,359.02 L192.5,358.69 L192.9,358.35 L193.3,358.01 L193.7,357.65 L194.1,357.28 L194.5,356.91 L194.9,356.52 L195.3,356.12 L195.7,355.71 L196.1,355.28 L196.5,354.82 L196.9,354.34 L197.3,353.85 L197.7,353.34 L198.1,352.82 L198.5,352.29 L198.9,351.76 L199.3,351.23 L199.7,350.71 L200.1,350.2 L200.5,349.67 L200.9,349.13 L201.3,348.58 L201.7,348.02 L202.1,347.46 L202.5,346.9 L202.9,346.36 L203.3,345.83 L203.7,345.32 L204.1,344.83 L204.5,344.37 L204.9,343.95 L205.3,343.55 L205.7,343.16 L206.1,342.78 L206.5,342.4 L206.9,342.04 L207.3,341.69 L207.7,341.35 L208.1,341.04 L208.5,340.73 L208.9,340.45 L209.3,340.19 L209.7,339.95 L210.1,339.74 L210.5,339.53 L210.9,339.32 L211.3,339.12 L211.7,338.92 L212.1,338.73 L212.5,338.54 L212.9,338.36 L213.3,338.18 L213.7,338.01 L214.1,337.85 L214.5,337.69 L214.9,337.55 L215.3,337.42 L215.7,337.29 L216.1,337.18 L216.5,337.08 L216.9,336.99 L217.3,336.92 L217.7,336.86 L218.1,336.81" fill="none" stroke="#d9434e" stroke-width="1.2" stroke-opacity="1.0" stroke-linejoin="round" stroke-linecap="round" />
<path d="M68.5,322.9 L68.9,322.64 L69.3,322.3 L69.7,321.9 L70.1,321.43 L70.5,320.91 L70.9,320.34 L71.3,319.73 L71.7,319.09 L72.1,318.42 L72.5,317.72 L72.9,316.89 L73.3,315.93 L73.7,314.85 L74.1,313.69 L74.5,312.49 L74.9,311.28 L75.3,310.09 L75.7,308.95 L76.1,307.9 L76.5,306.91 L76.9,305.95 L77.3,305 L77.7,304.07 L78.1,303.15 L78.5,302.24 L78.9,301.34 L79.3,300.45 L79.7,299.56 L80.1,298.68 L80.5,297.81 L80.9,296.95 L81.3,296.1 L81.7,295.26 L82.1,294.43 L82.5,293.59 L82.9,292.75 L83.3,291.91 L83.7,291.05 L84.1,290.18 L84.5,289.3 L84.9,288.4 L85.3,287.49 L85.7,286.58 L86.1,285.67 L86.5,284.76 L86.9,283.85 L87.3,282.95 L87.7,282.06 L88.1,281.18 L88.5,280.29 L88.9,279.39 L89.3,278.49 L89.7,277.6 L90.1,276.71 L90.5,275.84 L90.9,275 L91.3,274.2 L91.7,273.44 L92.1,272.73 L92.5,272.03 L92.9,271.35 L93.3,270.7 L93.7,270.08 L94.1,269.5 L94.5,268.97 L94.9,268.51 L95.3,268.09 L95.7,267.68 L96.1,267.3 L96.5,266.96 L96.9,266.68 L97.3,266.47 L97.7,266.34 L98.1,266.23 L98.5,266.12 L98.9,266.04 L99.3,265.97 L99.7,265.92 L100.1,265.9 L100.5,265.92 L100.9,265.99 L101.3,266.1 L101.7,266.26 L102.1,266.44 L102.5,266.64 L102.9,266.85 L103.3,267.07 L103.7,267.35 L104.1,267.69 L104.5,268.07 L104.9,268.5 L105.3,268.98 L105.7,269.5 L106.1,270.05 L106.5,270.65 L106.9,271.3 L107.3,272.09 L107.7,273 L108.1,274.02 L108.5,275.12 L108.9,276.3 L109.3,277.53 L109.7,278.8 L110.1,280.1 L110.5,281.5 L110.9,283.07 L111.3,284.74 L111.7,286.45 L112.1,288.06 L112.5,289.7 L112.9,291.31 L113.3,292.9 L113.7,294.5 L114.1,296.11 L114.5,297.76 L114.9,299.45 L115.3,301.18 L115.7,302.94 L116.1,304.72 L116.5,306.53 L116.9,308.36 L117.3,310.17 L117.7,311.99 L118.1,313.82 L118.5,315.69 L118.9,317.62 L119.3,319.63 L119.7,321.74 L120.1,324.01 L120.5,326.41 L120.9,328.88 L121.3,331.37 L121.7,333.8 L122.1,336.2 L122.5,338.62 L122.9,341.02 L123.3,343.4 L123.7,345.73 L124.1,348.03 L124.5,350.36 L124.9,352.65 L125.3,354.85 L125.7,356.87 L126.1,358.68 L126.5,360.35 L126.9,361.92 L127.3,363.4 L127.7,364.82 L128.1,366.19 L128.5,367.54 L128.9,368.9 L129.3,370.26 L129.7,371.59 L130.1,372.85 L130.5,373.99 L130.9,374.98 L131.3,375.79 L131.7,376.5 L132.1,377.17 L132.5,377.78 L132.9,378.34 L133.3,378.84 L133.7,379.27 L134.1,379.64 L134.5,379.95 L134.9,380.25 L135.3,380.53 L135.7,380.81 L136.1,381.07 L136.5,381.3 L136.9,381.5 L137.3,381.67 L137.7,381.79 L138.1,381.87 L138.5,381.9 L138.9,381.86 L139.3,381.75 L139.7,381.57 L140.1,381.35 L140.5,381.09 L140.9,380.79 L141.3,380.48 L141.7,380.16 L142.1,379.84 L142.5,379.54 L142.9,379.26 L143.3,378.96 L143.7,378.66 L144.1,378.33 L144.5,378 L144.9,377.66 L145.3,377.31 L145.7,376.96 L146.1,376.61 L146.5,376.26 L146.9,375.91 L147.3,375.55 L147.7,375.17 L148.1,374.79 L148.5,374.4 L148.9,374.02 L149.3,373.66 L149.7,373.33 L150.1,372.73 L150.5,372.45 L150.9,372.18 L151.3,371.91 L151.7,371.66 L152.1,371.41 L152.5,371.17 L152.9,370.94 L153.3,370.72 L153.7,370.51 L154.1,370.3 L154.5,370.11 L154.9,369.92 L155.3,369.74 L155.7,369.56 L156.1,369.38 L156.5,369.2 L156.9,369.04 L157.3,368.89 L157.7,368.75 L158.1,368.64 L158.5,368.55 L158.9,368.47 L159.3,368.41 L159.7,368.34 L160.1,368.29 L160.5,368.23 L160.9,368.19 L161.3,368.14 L161.7,368.1 L162.1,368.06 L162.5,368.02 L162.9,367.99 L163.3,367.95 L163.7,367.92 L164.1,367.89 L164.5,367.86 L164.9,367.83 L165.3,367.8 L165.7,367.77 L166.1,367.75 L166.5,367.73 L166.9,367.71 L167.3,367.69 L167.7,367.67 L168.1,367.65 L168.5,367.64 L168.9,367.62 L169.3,367.61 L169.7,367.59 L170.1,367.58 L170.5,367.56 L170.9,367.54 L171.3,367.51 L171.7,367.49 L172.1,367.46 L172.5,367.43 L172.9,367.39 L173.3,367.35 L173.7,367.31 L174.1,367.24 L174.5,367.16 L174.9,367.07 L175.3,366.96 L175.7,366.84 L176.1,366.71 L176.5,366.58 L176.9,366.43 L177.3,366.28 L177.7,366.13 L178.1,365.97 L178.5,365.82 L178.9,365.66 L179.3,365.5 L179.7,365.35 L180.1,365.2 L180.5,365.06 L180.9,364.91 L181.3,364.76 L181.7,364.61 L182.1,364.46 L182.5,364.3 L182.9,364.14 L183.3,363.98 L183.7,363.81 L184.1,363.64 L184.5,363.46 L184.9,363.28 L185.3,363.09 L185.7,362.89 L186.1,362.69 L186.5,362.48 L186.9,362.26 L187.3,362.02 L187.7,361.78 L188.1,361.52 L188.5,361.25 L188.9,360.97 L189.3,360.68 L189.7,360.39 L190.1,360.09 L190.5,359.79 L190.9,359.48 L191.3,359.17 L191.7,358.85 L192.1,358.52 L192.5,358.19 L192.9,357.85 L193.3,357.5 L193.7,357.14 L194.1,356.76 L194.5,356.38 L194.9,355.99 L195.3,355.59 L195.7,355.17 L196.1,354.74 L196.5,354.27 L196.9,353.79 L197.3,353.29 L197.7,352.77 L198.1,352.25 L198.5,351.72 L198.9,351.18 L199.3,350.65 L199.7,350.12 L200.1,349.61 L200.5,349.08 L200.9,348.53 L201.3,347.97 L201.7,347.41 L202.1,346.85 L202.5,346.29 L202.9,345.74 L203.3,345.2 L203.7,344.69 L204.1,344.19 L204.5,343.73 L204.9,343.31 L205.3,342.9 L205.7,342.51 L206.1,342.12 L206.5,341.74 L206.9,341.37 L207.3,341.02 L207.7,340.68 L208.1,340.35 L208.5,340.05 L208.9,339.76 L209.3,339.49 L209.7,339.25 L210.1,339.03 L210.5,338.82 L210.9,338.61 L211.3,338.4 L211.7,338.2 L212.1,338 L212.5,337.8 L212.9,337.62 L213.3,337.43 L213.7,337.26 L214.1,337.09 L214.5,336.94 L214.9,336.79 L215.3,336.65 L215.7,336.52 L216.1,336.4 L216.5,336.3 L216.9,336.21 L217.3,336.13 L217.7,336.06 L218.1,336.01" fill="none" stroke="#222" stroke-width="1.2" stroke-opacity="1.0" stroke-linejoin="round" stroke-linecap="round" />
</g>
<rect x="68.5" y="244.6" width="149.7" height="148.9" fill="none" stroke="#333" stroke-width="1.3"/>
<line x1="72.4" y1="393.5" x2="72.4" y2="390" stroke="#333" stroke-width="1.2"/>
<line x1="96.64" y1="393.5" x2="96.64" y2="390" stroke="#333" stroke-width="1.2"/>
<line x1="120.88" y1="393.5" x2="120.88" y2="390" stroke="#333" stroke-width="1.2"/>
<line x1="145.12" y1="393.5" x2="145.12" y2="390" stroke="#333" stroke-width="1.2"/>
<line x1="169.36" y1="393.5" x2="169.36" y2="390" stroke="#333" stroke-width="1.2"/>
<line x1="193.6" y1="393.5" x2="193.6" y2="390" stroke="#333" stroke-width="1.2"/>
<line x1="68.5" y1="266.8" x2="72.5" y2="266.8" stroke="#333" stroke-width="1.2"/>
<line x1="68.5" y1="287.9" x2="72.5" y2="287.9" stroke="#333" stroke-width="1.2"/>
<line x1="68.5" y1="309" x2="72.5" y2="309" stroke="#333" stroke-width="1.2"/>
<line x1="68.5" y1="330.1" x2="72.5" y2="330.1" stroke="#333" stroke-width="1.2"/>
<line x1="68.5" y1="351.2" x2="72.5" y2="351.2" stroke="#333" stroke-width="1.2"/>
<line x1="68.5" y1="372.3" x2="72.5" y2="372.3" stroke="#333" stroke-width="1.2"/>
<text x="72.4" y="409.3" font-size="11.5" text-anchor="middle" fill="#231f20" font-weight="normal" >180</text>
<text x="96.64" y="409.3" font-size="11.5" text-anchor="middle" fill="#231f20" font-weight="normal" >190</text>
<text x="120.88" y="409.3" font-size="11.5" text-anchor="middle" fill="#231f20" font-weight="normal" >200</text>
<text x="145.12" y="409.3" font-size="11.5" text-anchor="middle" fill="#231f20" font-weight="normal" >210</text>
<text x="169.36" y="409.3" font-size="11.5" text-anchor="middle" fill="#231f20" font-weight="normal" >220</text>
<text x="193.6" y="409.3" font-size="11.5" text-anchor="middle" fill="#231f20" font-weight="normal" >230</text>
<text x="217.84" y="409.3" font-size="11.5" text-anchor="middle" fill="#231f20" font-weight="normal" >240</text>
<text x="64" y="249.6" font-size="11.5" text-anchor="end" fill="#231f20" font-weight="normal" >20,000</text>
<text x="64" y="270.7" font-size="11.5" text-anchor="end" fill="#231f20" font-weight="normal" >15,000</text>
<text x="64" y="291.8" font-size="11.5" text-anchor="end" fill="#231f20" font-weight="normal" >10,000</text>
<text x="64" y="312.9" font-size="11.5" text-anchor="end" fill="#231f20" font-weight="normal" >5,000</text>
<text x="64" y="334" font-size="11.5" text-anchor="end" fill="#231f20" font-weight="normal" >0</text>
<text x="64" y="355.1" font-size="11.5" text-anchor="end" fill="#231f20" font-weight="normal" >−5,000</text>
<text x="64" y="376.2" font-size="11.5" text-anchor="end" fill="#231f20" font-weight="normal" >−10,000</text>
<text x="64" y="397.3" font-size="11.5" text-anchor="end" fill="#231f20" font-weight="normal" >−15,000</text>
<text x="137" y="427.2" font-size="11.5" text-anchor="middle" fill="#231f20" font-weight="normal" textLength="82" lengthAdjust="spacingAndGlyphs" >Wavelength, nm</text>
<text transform="translate(15.7,317.6) rotate(-90)" font-size="11.6" text-anchor="middle" fill="#231f20">[θ], deg cm<tspan font-size="8.6" dy="-4.5">2</tspan><tspan dy="4.5"> dmol</tspan><tspan font-size="8.6" dy="-4.5">−1</tspan></text>
<text x="123.6" y="258.1" font-size="11.5" text-anchor="start" fill="#231f20" font-weight="normal" >0.1-cm cell</text>
<line x1="124.3" y1="267.4" x2="145.1" y2="267.4" stroke="#222" stroke-width="1.3"/>
<text x="147.9" y="271.3" font-size="11.5" fill="#231f20" text-anchor="start">0.41 mg ml<tspan font-size="8.6" dx="0.4" dy="-4.4">−1</tspan></text>
<line x1="124.3" y1="281" x2="145.1" y2="281" stroke="#3bbcd0" stroke-width="1.3"/>
<text x="147.9" y="284.5" font-size="11.5" fill="#231f20" text-anchor="start">0.09 mg ml<tspan font-size="8.6" dx="0.4" dy="-4.4">−1</tspan></text>
<line x1="124.3" y1="314.6" x2="145.1" y2="314.6" stroke="#2f9a5a" stroke-width="1.3"/>
<text x="147.9" y="318.3" font-size="11.5" fill="#231f20" text-anchor="start">0.41 mg ml<tspan font-size="8.6" dx="0.4" dy="-4.4">−1</tspan></text>
<line x1="124.3" y1="326.2" x2="145.1" y2="326.2" stroke="#d9434e" stroke-width="1.3"/>
<text x="147.9" y="330.9" font-size="11.5" fill="#231f20" text-anchor="start">0.83 mg ml<tspan font-size="8.6" dx="0.4" dy="-4.4">−1</tspan></text>
<text x="123.6" y="301.4" font-size="11.5" text-anchor="start" fill="#231f20" font-weight="normal" >0.01-cm cell</text>
<circle cx="298.96" cy="324.19" r="3.5" fill="#111"/>
<circle cx="303.8" cy="319.59" r="3.5" fill="#111"/>
<circle cx="308.64" cy="310.31" r="3.5" fill="#111"/>
<circle cx="313.47" cy="299.21" r="3.5" fill="#111"/>
<circle cx="318.31" cy="286.21" r="3.5" fill="#111"/>
<circle cx="323.14" cy="273.68" r="3.5" fill="#111"/>
<circle cx="327.98" cy="265.53" r="3.5" fill="#111"/>
<circle cx="332.82" cy="265.53" r="3.5" fill="#111"/>
<circle cx="337.65" cy="269.75" r="3.5" fill="#111"/>
<circle cx="342.49" cy="283.38" r="3.5" fill="#111"/>
<circle cx="347.32" cy="307.31" r="3.5" fill="#111"/>
<circle cx="352.16" cy="334.11" r="3.5" fill="#111"/>
<circle cx="357" cy="358.21" r="3.5" fill="#111"/>
<circle cx="361.83" cy="373.99" r="3.5" fill="#111"/>
<circle cx="366.67" cy="382.43" r="3.5" fill="#111"/>
<circle cx="371.5" cy="384.75" r="3.5" fill="#111"/>
<circle cx="376.34" cy="381.22" r="3.5" fill="#111"/>
<circle cx="379.36" cy="375.67" r="3.5" fill="#111"/>
<circle cx="382.38" cy="373.97" r="3.5" fill="#111"/>
<circle cx="385.41" cy="372.09" r="3.5" fill="#111"/>
<circle cx="388.43" cy="373.19" r="3.5" fill="#111"/>
<circle cx="391.45" cy="372.84" r="3.5" fill="#111"/>
<circle cx="394.48" cy="370.55" r="3.5" fill="#111"/>
<circle cx="397.5" cy="370.66" r="3.5" fill="#111"/>
<circle cx="400.52" cy="368.66" r="3.5" fill="#111"/>
<circle cx="403.54" cy="369.18" r="3.5" fill="#111"/>
<circle cx="406.56" cy="368.22" r="3.5" fill="#111"/>
<circle cx="409.59" cy="365.1" r="3.5" fill="#111"/>
<circle cx="412.61" cy="364.06" r="3.5" fill="#111"/>
<circle cx="415.63" cy="360.9" r="3.5" fill="#111"/>
<circle cx="418.66" cy="360.77" r="3.5" fill="#111"/>
<circle cx="419.86" cy="359.64" r="3.5" fill="#111"/>
<circle cx="424.7" cy="357.11" r="3.5" fill="#111"/>
<circle cx="429.54" cy="351.2" r="3.5" fill="#111"/>
<circle cx="434.37" cy="344.87" r="3.5" fill="#111"/>
<circle cx="439.21" cy="338.79" r="3.5" fill="#111"/>
<circle cx="444.04" cy="334.62" r="3.5" fill="#111"/>
<circle cx="448.88" cy="330.99" r="3.5" fill="#111"/>
<clipPath id="ce"><rect x="298.9" y="244.5" width="150.5" height="148.8"/></clipPath>
<g clip-path="url(#ce)">
<path d="M299.45,329.14 L300.05,327.93 L300.66,326.72 L301.26,325.51 L301.87,324.3 L302.47,323.09 L303.07,321.87 L303.68,320.64 L304.28,319.41 L304.89,318.17 L305.49,316.93 L306.1,315.67 L306.7,314.41 L307.31,313.14 L307.91,311.86 L308.52,310.57 L309.12,309.27 L309.72,307.95 L310.33,306.61 L310.93,305.25 L311.54,303.87 L312.14,302.45 L312.75,301 L313.35,299.51 L313.96,297.98 L314.56,296.41 L315.16,294.81 L315.77,293.18 L316.37,291.54 L316.98,289.88 L317.58,288.21 L318.19,286.54 L318.79,284.88 L319.4,283.24 L320,281.61 L320.61,280 L321.21,278.43 L321.81,276.89 L322.42,275.4 L323.02,273.96 L323.63,272.58 L324.23,271.26 L324.84,270.03 L325.44,268.9 L326.05,267.88 L326.65,266.98 L327.25,266.23 L327.86,265.63 L328.46,265.2 L329.07,264.93 L329.67,264.8 L330.28,264.78 L330.88,264.86 L331.49,265.02 L332.09,265.23 L332.7,265.48 L333.3,265.75 L333.9,266.05 L334.51,266.4 L335.11,266.82 L335.72,267.33 L336.32,267.94 L336.93,268.67 L337.53,269.56 L338.14,270.61 L338.74,271.82 L339.34,273.22 L339.95,274.79 L340.55,276.54 L341.16,278.47 L341.76,280.59 L342.37,282.9 L342.97,285.4 L343.58,288.07 L344.18,290.9 L344.79,293.87 L345.39,296.94 L345.99,300.11 L346.6,303.35 L347.2,306.65 L347.81,309.97 L348.41,313.32 L349.02,316.68 L349.62,320.05 L350.23,323.42 L350.83,326.78 L351.43,330.12 L352.04,333.45 L352.64,336.67 L353.25,339.66 L353.85,342.42 L354.46,344.98 L355.06,347.35 L355.67,349.55 L356.27,351.61 L356.88,353.53 L357.48,355.35 L358.08,357.09 L358.69,358.79 L359.29,360.5 L359.9,362.2 L360.5,363.78 L361.11,365.24 L361.71,366.58 L362.32,367.83 L362.92,368.97 L363.52,370.02 L364.13,370.98 L364.73,371.86 L365.34,372.66 L365.94,373.38 L366.55,374.03 L367.15,374.62 L367.76,375.13 L368.36,375.57 L368.97,375.94 L369.57,376.24 L370.17,376.51 L370.78,376.73 L371.38,376.9 L371.99,376.98 L372.59,376.98 L373.2,376.9 L373.8,376.75 L374.41,376.51 L375.01,376.2 L375.61,375.82 L376.22,375.35 L376.82,374.85 L377.43,374.38 L378.03,373.93 L378.64,373.53 L379.24,373.17 L379.85,372.86 L380.45,372.6 L381.06,372.4 L381.66,372.27 L382.26,372.18 L382.87,372.1 L383.47,372.02 L384.08,371.92 L384.68,371.86 L385.29,371.82 L385.89,371.79 L386.5,371.75 L387.1,371.7 L387.7,371.64 L388.31,371.57 L388.91,371.48 L389.52,371.39 L390.12,371.29 L390.73,371.17 L391.33,371.05 L391.94,370.93 L392.54,370.8 L393.15,370.66 L393.75,370.52 L394.35,370.38 L394.96,370.24 L395.56,370.1 L396.17,369.96 L396.77,369.83 L397.38,369.69 L397.98,369.56 L398.59,369.43 L399.19,369.29 L399.79,369.14 L400.4,368.99 L401,368.84 L401.61,368.67 L402.21,368.5 L402.82,368.31 L403.42,368.12 L404.03,367.91 L404.63,367.69 L405.24,367.46 L405.84,367.21 L406.44,366.95 L407.05,366.67 L407.65,366.38 L408.26,366.08 L408.86,365.75 L409.47,365.42 L410.07,365.07 L410.68,364.7 L411.28,364.32 L411.88,363.94 L412.49,363.54 L413.09,363.15 L413.7,362.76 L414.3,362.37 L414.91,362 L415.51,361.63 L416.12,361.29 L416.72,360.95 L417.33,360.63 L417.93,360.33 L418.53,360.04 L419.14,359.77 L419.74,359.52 L420.35,359.28 L420.95,359.05 L421.56,358.82 L422.16,358.56 L422.77,358.28 L423.37,357.95 L423.97,357.56 L424.58,357.1 L425.18,356.55 L425.79,355.93 L426.39,355.25 L427,354.51 L427.6,353.73 L428.21,352.93 L428.81,352.11 L429.42,351.3 L430.02,350.49 L430.62,349.69 L431.23,348.9 L431.83,348.12 L432.44,347.34 L433.04,346.56 L433.65,345.78 L434.25,344.99 L434.86,344.2 L435.46,343.4 L436.06,342.61 L436.67,341.82 L437.27,341.05 L437.88,340.31 L438.48,339.59 L439.09,338.91 L439.69,338.27 L440.3,337.68 L440.9,337.11 L441.51,336.59 L442.11,336.09 L442.71,335.61 L443.32,335.15 L443.92,334.7 L444.53,334.26 L445.13,333.83 L445.74,333.4 L446.34,332.96 L446.95,332.52 L447.55,332.06 L448.15,331.59 L448.76,331.09 L449.36,330.56 L449.97,330.01" fill="none" stroke="#e0a890" stroke-width="1.1" stroke-opacity="1.0" stroke-linejoin="round" stroke-linecap="round" />
<path d="M299.45,329.14 L300.05,327.93 L300.66,326.72 L301.26,325.51 L301.87,324.3 L302.47,323.09 L303.07,321.87 L303.68,320.64 L304.28,319.41 L304.89,318.17 L305.49,316.93 L306.1,315.67 L306.7,314.41 L307.31,313.14 L307.91,311.86 L308.52,310.57 L309.12,309.27 L309.72,307.95 L310.33,306.61 L310.93,305.25 L311.54,303.87 L312.14,302.45 L312.75,301 L313.35,299.51 L313.96,297.98 L314.56,296.41 L315.16,294.81 L315.77,293.18 L316.37,291.54 L316.98,289.88 L317.58,288.21 L318.19,286.54 L318.79,284.88 L319.4,283.24 L320,281.61 L320.61,280 L321.21,278.43 L321.81,276.89 L322.42,275.4 L323.02,273.96 L323.63,272.58 L324.23,271.26 L324.84,270.03 L325.44,268.9 L326.05,267.88 L326.65,266.98 L327.25,266.23 L327.86,265.63 L328.46,265.2 L329.07,264.93 L329.67,264.8 L330.28,264.78 L330.88,264.86 L331.49,265.02 L332.09,265.23 L332.7,265.48 L333.3,265.75 L333.9,266.05 L334.51,266.4 L335.11,266.82 L335.72,267.33 L336.32,267.94 L336.93,268.67 L337.53,269.56 L338.14,270.61 L338.74,271.82 L339.34,273.22 L339.95,274.79 L340.55,276.54 L341.16,278.47 L341.76,280.59 L342.37,282.9 L342.97,285.4 L343.58,288.07 L344.18,290.9 L344.79,293.87 L345.39,296.94 L345.99,300.11 L346.6,303.35 L347.2,306.65 L347.81,309.97 L348.41,313.32 L349.02,316.68 L349.62,320.05 L350.23,323.42 L350.83,326.78 L351.43,330.12 L352.04,333.45 L352.64,336.74 L353.25,339.97 L353.85,343.12 L354.46,346.18 L355.06,349.15 L355.67,351.99 L356.27,354.7 L356.88,357.26 L357.48,359.66 L358.08,361.91 L358.69,364 L359.29,365.94 L359.9,367.76 L360.5,369.44 L361.11,371 L361.71,372.45 L362.32,373.78 L362.92,374.98 L363.52,376.07 L364.13,377.05 L364.73,377.92 L365.34,378.71 L365.94,379.4 L366.55,380.03 L367.15,380.58 L367.76,381.07 L368.36,381.49 L368.97,381.85 L369.57,382.13 L370.17,382.33 L370.78,382.45 L371.38,382.46 L371.99,382.37 L372.59,382.17 L373.2,381.87 L373.8,381.48 L374.41,381.01 L375.01,380.47 L375.61,379.86 L376.22,379.19 L376.82,378.49 L377.43,377.78 L378.03,377.08 L378.64,376.41 L379.24,375.78 L379.85,375.2 L380.45,374.68 L381.06,374.25 L381.66,373.91 L382.26,373.65 L382.87,373.45 L383.47,373.29 L384.08,373.16 L384.68,373.07 L385.29,373.01 L385.89,372.95 L386.5,372.88 L387.1,372.8 L387.7,372.71 L388.31,372.61 L388.91,372.5 L389.52,372.38 L390.12,372.25 L390.73,372.12 L391.33,371.97 L391.94,371.82 L392.54,371.67 L393.15,371.5 L393.75,371.34 L394.35,371.18 L394.96,371.02 L395.56,370.85 L396.17,370.7 L396.77,370.54 L397.38,370.39 L397.98,370.23 L398.59,370.08 L399.19,369.92 L399.79,369.76 L400.4,369.59 L401,369.42 L401.61,369.23 L402.21,369.04 L402.82,368.84 L403.42,368.63 L404.03,368.41 L404.63,368.17 L405.24,367.92 L405.84,367.66 L406.44,367.38 L407.05,367.09 L407.65,366.78 L408.26,366.46 L408.86,366.13 L409.47,365.78 L410.07,365.41 L410.68,365.03 L411.28,364.64 L411.88,364.24 L412.49,363.84 L413.09,363.43 L413.7,363.03 L414.3,362.63 L414.91,362.25 L415.51,361.87 L416.12,361.51 L416.72,361.17 L417.33,360.84 L417.93,360.53 L418.53,360.23 L419.14,359.95 L419.74,359.69 L420.35,359.45 L420.95,359.21 L421.56,358.97 L422.16,358.71 L422.77,358.41 L423.37,358.07 L423.97,357.68 L424.58,357.21 L425.18,356.66 L425.79,356.03 L426.39,355.34 L427,354.6 L427.6,353.82 L428.21,353.01 L428.81,352.19 L429.42,351.36 L430.02,350.55 L430.62,349.75 L431.23,348.96 L431.83,348.17 L432.44,347.39 L433.04,346.6 L433.65,345.82 L434.25,345.03 L434.86,344.23 L435.46,343.43 L436.06,342.63 L436.67,341.84 L437.27,341.07 L437.88,340.32 L438.48,339.61 L439.09,338.92 L439.69,338.29 L440.3,337.69 L440.9,337.12 L441.51,336.59 L442.11,336.09 L442.71,335.61 L443.32,335.15 L443.92,334.7 L444.53,334.27 L445.13,333.83 L445.74,333.4 L446.34,332.96 L446.95,332.52 L447.55,332.06 L448.15,331.59 L448.76,331.09 L449.36,330.56 L449.97,330.01" fill="none" stroke="#d080c8" stroke-width="1.1" stroke-opacity="1.0" stroke-linejoin="round" stroke-linecap="round" />
<path d="M299.45,329.14 L300.05,327.93 L300.66,326.72 L301.26,325.51 L301.87,324.3 L302.47,323.09 L303.07,321.87 L303.68,320.64 L304.28,319.41 L304.89,318.17 L305.49,316.93 L306.1,315.67 L306.7,314.41 L307.31,313.14 L307.91,311.86 L308.52,310.57 L309.12,309.27 L309.72,307.95 L310.33,306.61 L310.93,305.25 L311.54,303.87 L312.14,302.45 L312.75,301 L313.35,299.51 L313.96,297.98 L314.56,296.41 L315.16,294.81 L315.77,293.18 L316.37,291.54 L316.98,289.88 L317.58,288.21 L318.19,286.54 L318.79,284.88 L319.4,283.24 L320,281.61 L320.61,280 L321.21,278.43 L321.81,276.89 L322.42,275.4 L323.02,273.96 L323.63,272.58 L324.23,271.26 L324.84,270.03 L325.44,268.9 L326.05,267.88 L326.65,266.98 L327.25,266.23 L327.86,265.63 L328.46,265.2 L329.07,264.93 L329.67,264.8 L330.28,264.78 L330.88,264.86 L331.49,265.02 L332.09,265.23 L332.7,265.48 L333.3,265.75 L333.9,266.05 L334.51,266.4 L335.11,266.82 L335.72,267.33 L336.32,267.94 L336.93,268.67 L337.53,269.56 L338.14,270.61 L338.74,271.82 L339.34,273.22 L339.95,274.79 L340.55,276.54 L341.16,278.47 L341.76,280.59 L342.37,282.9 L342.97,285.4 L343.58,288.07 L344.18,290.9 L344.79,293.87 L345.39,296.94 L345.99,300.11 L346.6,303.35 L347.2,306.65 L347.81,309.97 L348.41,313.32 L349.02,316.68 L349.62,320.05 L350.23,323.42 L350.83,326.78 L351.43,330.12 L352.04,333.45 L352.64,336.74 L353.25,339.99 L353.85,343.19 L354.46,346.3 L355.06,349.31 L355.67,352.18 L356.27,354.89 L356.88,357.43 L357.48,359.79 L358.08,361.98 L358.69,364 L359.29,365.87 L359.9,367.6 L360.5,369.2 L361.11,370.67 L361.71,372.04 L362.32,373.29 L362.92,374.39 L363.52,375.36 L364.13,376.21 L364.73,376.95 L365.34,377.59 L365.94,378.14 L366.55,378.62 L367.15,379.02 L367.76,379.37 L368.36,379.65 L368.97,379.88 L369.57,380.05 L370.17,380.17 L370.78,380.25 L371.38,380.3 L371.99,380.3 L372.59,380.24 L373.2,380.12 L373.8,379.92 L374.41,379.65 L375.01,379.3 L375.61,378.86 L376.22,378.33 L376.82,377.72 L377.43,377.09 L378.03,376.46 L378.64,375.84 L379.24,375.26 L379.85,374.72 L380.45,374.26 L381.06,373.88 L381.66,373.6 L382.26,373.42 L382.87,373.31 L383.47,373.26 L384.08,373.27 L384.68,373.32 L385.29,373.4 L385.89,373.48 L386.5,373.55 L387.1,373.61 L387.7,373.64 L388.31,373.65 L388.91,373.63 L389.52,373.58 L390.12,373.5 L390.73,373.38 L391.33,373.24 L391.94,373.09 L392.54,372.93 L393.15,372.77 L393.75,372.61 L394.35,372.44 L394.96,372.28 L395.56,372.12 L396.17,371.96 L396.77,371.81 L397.38,371.65 L397.98,371.5 L398.59,371.35 L399.19,371.19 L399.79,371.03 L400.4,370.86 L401,370.68 L401.61,370.5 L402.21,370.31 L402.82,370.11 L403.42,369.89 L404.03,369.67 L404.63,369.44 L405.24,369.19 L405.84,368.92 L406.44,368.65 L407.05,368.35 L407.65,368.05 L408.26,367.73 L408.86,367.39 L409.47,367.04 L410.07,366.68 L410.68,366.3 L411.28,365.91 L411.88,365.51 L412.49,365.1 L413.09,364.7 L413.7,364.3 L414.3,363.9 L414.91,363.51 L415.51,363.14 L416.12,362.78 L416.72,362.44 L417.33,362.11 L417.93,361.79 L418.53,361.5 L419.14,361.22 L419.74,360.96 L420.35,360.71 L420.95,360.47 L421.56,360.23 L422.16,359.97 L422.77,359.68 L423.37,359.34 L423.97,358.94 L424.58,358.48 L425.18,357.93 L425.79,357.3 L426.39,356.61 L427,355.87 L427.6,355.08 L428.21,354.28 L428.81,353.45 L429.42,352.63 L430.02,351.82 L430.62,351.02 L431.23,350.22 L431.83,349.44 L432.44,348.65 L433.04,347.87 L433.65,347.09 L434.25,346.29 L434.86,345.5 L435.46,344.7 L436.06,343.9 L436.67,343.11 L437.27,342.34 L437.88,341.59 L438.48,340.87 L439.09,340.19 L439.69,339.55 L440.3,338.92 L440.9,338.33 L441.51,337.74 L442.11,337.18 L442.71,336.62 L443.32,336.08 L443.92,335.54 L444.53,335.01 L445.13,334.47 L445.74,333.93 L446.34,333.39 L446.95,332.84 L447.55,332.28 L448.15,331.7 L448.76,331.11 L449.36,330.49 L449.97,329.86" fill="none" stroke="#40b8c8" stroke-width="1.1" stroke-opacity="1.0" stroke-linejoin="round" stroke-linecap="round" />
<path d="M299.45,336.23 L300.05,334.39 L300.66,332.55 L301.26,330.71 L301.87,328.86 L302.47,327.01 L303.07,325.1 L303.68,323.06 L304.28,320.99 L304.89,319 L305.49,317.2 L306.1,315.68 L306.7,314.41 L307.31,313.14 L307.91,311.86 L308.52,310.56 L309.12,309.26 L309.72,307.94 L310.33,306.6 L310.93,305.23 L311.54,303.83 L312.14,302.4 L312.75,300.93 L313.35,299.41 L313.96,297.84 L314.56,296.21 L315.16,294.54 L315.77,292.83 L316.37,291.06 L316.98,289.26 L317.58,287.41 L318.19,285.53 L318.79,283.6 L319.4,281.64 L320,279.65 L320.61,277.62 L321.21,275.57 L321.81,273.51 L322.42,271.44 L323.02,269.38 L323.63,267.34 L324.23,265.35 L324.84,263.45 L325.44,261.65 L326.05,259.99 L326.65,258.51 L327.25,257.23 L327.86,256.2 L328.46,255.43 L329.07,254.92 L329.67,254.68 L330.28,254.67 L330.88,254.89 L331.49,255.3 L332.09,255.87 L332.7,256.58 L333.3,257.39 L333.9,258.29 L334.51,259.28 L335.11,260.37 L335.72,261.55 L336.32,262.84 L336.93,264.22 L337.53,265.71 L338.14,267.33 L338.74,269.07 L339.34,270.92 L339.95,272.9 L340.55,275.01 L341.16,277.25 L341.76,279.62 L342.37,282.14 L342.97,284.81 L343.58,287.62 L344.18,290.56 L344.79,293.61 L345.39,296.76 L345.99,299.98 L346.6,303.26 L347.2,306.58 L347.81,309.93 L348.41,313.29 L349.02,316.66 L349.62,320.04 L350.23,323.41 L350.83,326.77 L351.43,330.12 L352.04,333.44 L352.64,336.74 L353.25,339.99 L353.85,343.18 L354.46,346.3 L355.06,349.32 L355.67,352.21 L356.27,354.97 L356.88,357.56 L357.48,359.99 L358.08,362.26 L358.69,364.36 L359.29,366.32 L359.9,368.14 L360.5,369.82 L361.11,371.37 L361.71,372.81 L362.32,374.14 L362.92,375.37 L363.52,376.49 L364.13,377.52 L364.73,378.46 L365.34,379.3 L365.94,380.04 L366.55,380.69 L367.15,381.26 L367.76,381.74 L368.36,382.13 L368.97,382.43 L369.57,382.64 L370.17,382.75 L370.78,382.76 L371.38,382.67 L371.99,382.49 L372.59,382.27 L373.2,382 L373.8,381.68 L374.41,381.31 L375.01,380.89 L375.61,380.42 L376.22,379.88 L376.82,379.29 L377.43,378.64 L378.03,377.94 L378.64,377.19 L379.24,376.41 L379.85,375.7 L380.45,375.06 L381.06,374.51 L381.66,374.07 L382.26,373.73 L382.87,373.47 L383.47,373.29 L384.08,373.16 L384.68,373.07 L385.29,373.01 L385.89,372.95 L386.5,372.88 L387.1,372.8 L387.7,372.71 L388.31,372.61 L388.91,372.5 L389.52,372.38 L390.12,372.25 L390.73,372.12 L391.33,371.97 L391.94,371.82 L392.54,371.67 L393.15,371.5 L393.75,371.34 L394.35,371.18 L394.96,371.02 L395.56,370.85 L396.17,370.7 L396.77,370.54 L397.38,370.39 L397.98,370.23 L398.59,370.08 L399.19,369.92 L399.79,369.76 L400.4,369.59 L401,369.42 L401.61,369.23 L402.21,369.04 L402.82,368.84 L403.42,368.63 L404.03,368.41 L404.63,368.17 L405.24,367.92 L405.84,367.66 L406.44,367.38 L407.05,367.09 L407.65,366.78 L408.26,366.46 L408.86,366.13 L409.47,365.78 L410.07,365.41 L410.68,365.03 L411.28,364.64 L411.88,364.24 L412.49,363.84 L413.09,363.43 L413.7,363.03 L414.3,362.63 L414.91,362.25 L415.51,361.87 L416.12,361.51 L416.72,361.17 L417.33,360.84 L417.93,360.53 L418.53,360.23 L419.14,359.95 L419.74,359.69 L420.35,359.45 L420.95,359.21 L421.56,358.97 L422.16,358.71 L422.77,358.41 L423.37,358.07 L423.97,357.68 L424.58,357.21 L425.18,356.66 L425.79,356.03 L426.39,355.34 L427,354.6 L427.6,353.82 L428.21,353.01 L428.81,352.19 L429.42,351.36 L430.02,350.55 L430.62,349.75 L431.23,348.96 L431.83,348.17 L432.44,347.39 L433.04,346.6 L433.65,345.82 L434.25,345.03 L434.86,344.23 L435.46,343.43 L436.06,342.63 L436.67,341.84 L437.27,341.07 L437.88,340.32 L438.48,339.61 L439.09,338.92 L439.69,338.29 L440.3,337.69 L440.9,337.12 L441.51,336.59 L442.11,336.09 L442.71,335.61 L443.32,335.15 L443.92,334.7 L444.53,334.27 L445.13,333.83 L445.74,333.4 L446.34,332.96 L446.95,332.52 L447.55,332.06 L448.15,331.59 L448.76,331.09 L449.36,330.56 L449.97,330.01" fill="none" stroke="#5070b0" stroke-width="1.1" stroke-opacity="1.0" stroke-linejoin="round" stroke-linecap="round" />
<path d="M299.45,329.15 L300.05,327.95 L300.66,326.75 L301.26,325.54 L301.87,324.32 L302.47,323.1 L303.07,321.87 L303.68,320.64 L304.28,319.41 L304.89,318.17 L305.49,316.93 L306.1,315.69 L306.7,314.43 L307.31,313.16 L307.91,311.88 L308.52,310.57 L309.12,309.25 L309.72,307.92 L310.33,306.57 L310.93,305.21 L311.54,303.83 L312.14,302.42 L312.75,300.98 L313.35,299.51 L313.96,297.99 L314.56,296.41 L315.16,294.79 L315.77,293.14 L316.37,291.48 L316.98,289.81 L317.58,288.16 L318.19,286.53 L318.79,284.92 L319.4,283.26 L320,281.58 L320.61,279.91 L321.21,278.29 L321.81,276.73 L322.42,275.27 L323.02,273.93 L323.63,272.66 L324.23,271.32 L324.84,269.99 L325.44,268.71 L326.05,267.57 L326.65,266.62 L327.25,265.93 L327.86,265.56 L328.46,265.46 L329.07,265.37 L329.67,265.3 L330.28,265.23 L330.88,265.18 L331.49,265.15 L332.09,265.12 L332.7,265.11 L333.3,265.17 L333.9,265.41 L334.51,265.79 L335.11,266.31 L335.72,266.93 L336.32,267.63 L336.93,268.38 L337.53,269.17 L338.14,270.07 L338.74,271.24 L339.34,272.65 L339.95,274.26 L340.55,276.04 L341.16,277.95 L341.76,279.95 L342.37,282 L342.97,284.18 L343.58,286.68 L344.18,289.43 L344.79,292.35 L345.39,295.37 L345.99,298.4 L346.6,301.38 L347.2,304.23 L347.81,306.97 L348.41,309.74 L349.02,312.52 L349.62,315.28 L350.23,317.98 L350.83,320.6 L351.43,323.09 L352.04,325.43 L352.64,327.59 L353.25,329.59 L353.85,331.48 L354.46,333.33 L355.06,335.18 L355.67,337.1 L356.27,339.14 L356.88,341.27 L357.48,343.43 L358.08,345.57 L358.69,347.63 L359.29,349.57 L359.9,351.38 L360.5,353.14 L361.11,354.85 L361.71,356.49 L362.32,358.02 L362.92,359.42 L363.52,360.7 L364.13,361.89 L364.73,363 L365.34,364.04 L365.94,364.98 L366.55,365.82 L367.15,366.57 L367.76,367.28 L368.36,367.95 L368.97,368.55 L369.57,369.07 L370.17,369.49 L370.78,369.83 L371.38,370.17 L371.99,370.49 L372.59,370.78 L373.2,371.04 L373.8,371.25 L374.41,371.4 L375.01,371.48 L375.61,371.49 L376.22,371.45 L376.82,371.38 L377.43,371.28 L378.03,371.17 L378.64,371.06 L379.24,370.94 L379.85,370.8 L380.45,370.64 L381.06,370.48 L381.66,370.31 L382.26,370.15 L382.87,370 L383.47,369.86 L384.08,369.73 L384.68,369.59 L385.29,369.46 L385.89,369.33 L386.5,369.2 L387.1,369.08 L387.7,368.96 L388.31,368.85 L388.91,368.74 L389.52,368.63 L390.12,368.54 L390.73,368.45 L391.33,368.37 L391.94,368.3 L392.54,368.23 L393.15,368.17 L393.75,368.1 L394.35,368.04 L394.96,367.97 L395.56,367.89 L396.17,367.8 L396.77,367.71 L397.38,367.61 L397.98,367.51 L398.59,367.4 L399.19,367.29 L399.79,367.17 L400.4,367.05 L401,366.92 L401.61,366.79 L402.21,366.64 L402.82,366.49 L403.42,366.34 L404.03,366.17 L404.63,365.99 L405.24,365.8 L405.84,365.59 L406.44,365.36 L407.05,365.11 L407.65,364.85 L408.26,364.57 L408.86,364.29 L409.47,364 L410.07,363.71 L410.68,363.41 L411.28,363.11 L411.88,362.8 L412.49,362.48 L413.09,362.15 L413.7,361.83 L414.3,361.5 L414.91,361.18 L415.51,360.86 L416.12,360.55 L416.72,360.24 L417.33,359.93 L417.93,359.61 L418.53,359.3 L419.14,358.98 L419.74,358.65 L420.35,358.33 L420.95,358.02 L421.56,357.71 L422.16,357.4 L422.77,357.08 L423.37,356.73 L423.97,356.35 L424.58,355.93 L425.18,355.44 L425.79,354.86 L426.39,354.21 L427,353.5 L427.6,352.76 L428.21,351.99 L428.81,351.24 L429.42,350.5 L430.02,349.78 L430.62,349.06 L431.23,348.32 L431.83,347.58 L432.44,346.83 L433.04,346.08 L433.65,345.34 L434.25,344.6 L434.86,343.85 L435.46,343.08 L436.06,342.3 L436.67,341.53 L437.27,340.76 L437.88,340.02 L438.48,339.32 L439.09,338.66 L439.69,338.06 L440.3,337.48 L440.9,336.92 L441.51,336.39 L442.11,335.87 L442.71,335.37 L443.32,334.89 L443.92,334.41 L444.53,333.95 L445.13,333.51 L445.74,333.08 L446.34,332.67 L446.95,332.26 L447.55,331.85 L448.15,331.44 L448.76,331.03 L449.36,330.61 L449.97,330.18" fill="none" stroke="#2a2a2a" stroke-width="1.2" stroke-opacity="1.0" stroke-linejoin="round" stroke-linecap="round" />
<path d="M299.45,329.14 L300.05,327.93 L300.66,326.72 L301.26,325.51 L301.87,324.3 L302.47,323.09 L303.07,321.87 L303.68,320.64 L304.28,319.41 L304.89,318.17 L305.49,316.93 L306.1,315.67 L306.7,314.41 L307.31,313.14 L307.91,311.86 L308.52,310.57 L309.12,309.27 L309.72,307.95 L310.33,306.61 L310.93,305.25 L311.54,303.87 L312.14,302.45 L312.75,301 L313.35,299.51 L313.96,297.98 L314.56,296.41 L315.16,294.81 L315.77,293.18 L316.37,291.54 L316.98,289.88 L317.58,288.21 L318.19,286.54 L318.79,284.88 L319.4,283.24 L320,281.61 L320.61,280 L321.21,278.43 L321.81,276.89 L322.42,275.4 L323.02,273.96 L323.63,272.58 L324.23,271.26 L324.84,270.03 L325.44,268.9 L326.05,267.88 L326.65,266.98 L327.25,266.23 L327.86,265.63 L328.46,265.2 L329.07,264.93 L329.67,264.8 L330.28,264.78 L330.88,264.86 L331.49,265.02 L332.09,265.23 L332.7,265.48 L333.3,265.75 L333.9,266.05 L334.51,266.4 L335.11,266.82 L335.72,267.33 L336.32,267.94 L336.93,268.67 L337.53,269.56 L338.14,270.61 L338.74,271.82 L339.34,273.22 L339.95,274.79 L340.55,276.54 L341.16,278.47 L341.76,280.59 L342.37,282.9 L342.97,285.4 L343.58,288.07 L344.18,290.9 L344.79,293.87 L345.39,296.94 L345.99,300.11 L346.6,303.35 L347.2,306.65 L347.81,309.97 L348.41,313.32 L349.02,316.68 L349.62,320.05 L350.23,323.35 L350.83,326.45 L351.43,329.4 L352.04,332.27 L352.64,335.11 L353.25,337.95 L353.85,340.81 L354.46,343.61 L355.06,346.31 L355.67,348.92 L356.27,351.4 L356.88,353.75 L357.48,355.94 L358.08,357.98 L358.69,359.88 L359.29,361.62 L359.9,363.21 L360.5,364.66 L361.11,365.97 L361.71,367.17 L362.32,368.25 L362.92,369.24 L363.52,370.15 L364.13,370.97 L364.73,371.72 L365.34,372.42 L365.94,373.06 L366.55,373.66 L367.15,374.21 L367.76,374.68 L368.36,375.06 L368.97,375.35 L369.57,375.54 L370.17,375.64 L370.78,375.63 L371.38,375.52 L371.99,375.29 L372.59,375 L373.2,374.79 L373.8,374.63 L374.41,374.51 L375.01,374.38 L375.61,374.24 L376.22,374.04 L376.82,373.87 L377.43,373.9 L378.03,374.01 L378.64,374.08 L379.24,373.99 L379.85,373.63 L380.45,373.2 L381.06,372.84 L381.66,372.57 L382.26,372.39 L382.87,372.26 L383.47,372.19 L384.08,372.16 L384.68,372.14 L385.29,372.12 L385.89,372.1 L386.5,372.05 L387.1,371.99 L387.7,371.92 L388.31,371.84 L388.91,371.75 L389.52,371.65 L390.12,371.54 L390.73,371.42 L391.33,371.29 L391.94,371.16 L392.54,371.02 L393.15,370.88 L393.75,370.73 L394.35,370.58 L394.96,370.44 L395.56,370.29 L396.17,370.15 L396.77,370.01 L397.38,369.87 L397.98,369.73 L398.59,369.59 L399.19,369.45 L399.79,369.3 L400.4,369.14 L401,368.98 L401.61,368.81 L402.21,368.63 L402.82,368.44 L403.42,368.24 L404.03,368.03 L404.63,367.81 L405.24,367.57 L405.84,367.32 L406.44,367.05 L407.05,366.77 L407.65,366.48 L408.26,366.17 L408.86,365.84 L409.47,365.5 L410.07,365.15 L410.68,364.78 L411.28,364.4 L411.88,364.01 L412.49,363.61 L413.09,363.21 L413.7,362.82 L414.3,362.43 L414.91,362.05 L415.51,361.69 L416.12,361.34 L416.72,361 L417.33,360.68 L417.93,360.37 L418.53,360.08 L419.14,359.81 L419.74,359.55 L420.35,359.32 L420.95,359.08 L421.56,358.85 L422.16,358.59 L422.77,358.31 L423.37,357.97 L423.97,357.58 L424.58,357.12 L425.18,356.58 L425.79,355.95 L426.39,355.27 L427,354.53 L427.6,353.75 L428.21,352.95 L428.81,352.13 L429.42,351.31 L430.02,350.5 L430.62,349.7 L431.23,348.91 L431.83,348.13 L432.44,347.35 L433.04,346.57 L433.65,345.79 L434.25,345 L434.86,344.2 L435.46,343.41 L436.06,342.61 L436.67,341.82 L437.27,341.05 L437.88,340.31 L438.48,339.59 L439.09,338.91 L439.69,338.27 L440.3,337.68 L440.9,337.12 L441.51,336.59 L442.11,336.09 L442.71,335.61 L443.32,335.15 L443.92,334.7 L444.53,334.26 L445.13,333.83 L445.74,333.4 L446.34,332.96 L446.95,332.52 L447.55,332.06 L448.15,331.59 L448.76,331.09 L449.36,330.56 L449.97,330.01" fill="none" stroke="#d84a4a" stroke-width="1.7" stroke-opacity="1.0" stroke-linejoin="round" stroke-linecap="round" />
</g>
<rect x="298.9" y="244.5" width="150.5" height="148.8" fill="none" stroke="#333" stroke-width="1.3"/>
<line x1="303.2" y1="393.3" x2="303.2" y2="389.8" stroke="#333" stroke-width="1.2"/>
<line x1="327.38" y1="393.3" x2="327.38" y2="389.8" stroke="#333" stroke-width="1.2"/>
<line x1="351.56" y1="393.3" x2="351.56" y2="389.8" stroke="#333" stroke-width="1.2"/>
<line x1="375.74" y1="393.3" x2="375.74" y2="389.8" stroke="#333" stroke-width="1.2"/>
<line x1="399.92" y1="393.3" x2="399.92" y2="389.8" stroke="#333" stroke-width="1.2"/>
<line x1="424.1" y1="393.3" x2="424.1" y2="389.8" stroke="#333" stroke-width="1.2"/>
<line x1="298.9" y1="266.8" x2="302.9" y2="266.8" stroke="#333" stroke-width="1.2"/>
<line x1="298.9" y1="287.9" x2="302.9" y2="287.9" stroke="#333" stroke-width="1.2"/>
<line x1="298.9" y1="309" x2="302.9" y2="309" stroke="#333" stroke-width="1.2"/>
<line x1="298.9" y1="330.1" x2="302.9" y2="330.1" stroke="#333" stroke-width="1.2"/>
<line x1="298.9" y1="351.2" x2="302.9" y2="351.2" stroke="#333" stroke-width="1.2"/>
<line x1="298.9" y1="372.3" x2="302.9" y2="372.3" stroke="#333" stroke-width="1.2"/>
<text x="303.2" y="409.3" font-size="11.5" text-anchor="middle" fill="#231f20" font-weight="normal" >180</text>
<text x="327.38" y="409.3" font-size="11.5" text-anchor="middle" fill="#231f20" font-weight="normal" >190</text>
<text x="351.56" y="409.3" font-size="11.5" text-anchor="middle" fill="#231f20" font-weight="normal" >200</text>
<text x="375.74" y="409.3" font-size="11.5" text-anchor="middle" fill="#231f20" font-weight="normal" >210</text>
<text x="399.92" y="409.3" font-size="11.5" text-anchor="middle" fill="#231f20" font-weight="normal" >220</text>
<text x="424.1" y="409.3" font-size="11.5" text-anchor="middle" fill="#231f20" font-weight="normal" >230</text>
<text x="448.28" y="409.3" font-size="11.5" text-anchor="middle" fill="#231f20" font-weight="normal" >240</text>
<text x="293" y="249.6" font-size="11.5" text-anchor="end" fill="#231f20" font-weight="normal" >20,000</text>
<text x="293" y="270.7" font-size="11.5" text-anchor="end" fill="#231f20" font-weight="normal" >15,000</text>
<text x="293" y="291.8" font-size="11.5" text-anchor="end" fill="#231f20" font-weight="normal" >10,000</text>
<text x="293" y="312.9" font-size="11.5" text-anchor="end" fill="#231f20" font-weight="normal" >5,000</text>
<text x="293" y="334" font-size="11.5" text-anchor="end" fill="#231f20" font-weight="normal" >0</text>
<text x="293" y="355.1" font-size="11.5" text-anchor="end" fill="#231f20" font-weight="normal" >−5,000</text>
<text x="293" y="376.2" font-size="11.5" text-anchor="end" fill="#231f20" font-weight="normal" >−10,000</text>
<text x="293" y="397.3" font-size="11.5" text-anchor="end" fill="#231f20" font-weight="normal" >−15,000</text>
<text x="372.6" y="427.2" font-size="11.5" text-anchor="middle" fill="#231f20" font-weight="normal" textLength="82" lengthAdjust="spacingAndGlyphs" >Wavelength, nm</text>
<text transform="translate(246.3,317.6) rotate(-90)" font-size="11.6" text-anchor="middle" fill="#231f20">[θ], deg cm<tspan font-size="8.6" dy="-4.5">2</tspan><tspan dy="4.5"> dmol</tspan><tspan font-size="8.6" dy="-4.5">−1</tspan></text>
<line x1="358.4" y1="255.2" x2="379.2" y2="255.2" stroke="#5070b0" stroke-width="1.3"/>
<text x="383.1" y="259.5" font-size="11.5" fill="#231f20" text-anchor="start">LINCOMB<tspan font-size="8.6" dx="0.4" dy="-3.4">1</tspan></text>
<line x1="358.4" y1="271.9" x2="379.2" y2="271.9" stroke="#2a2a2a" stroke-width="1.3"/>
<text x="383.1" y="276.6" font-size="11.5" fill="#231f20" text-anchor="start">LINCOMB<tspan font-size="8.6" dx="0.4" dy="-3.4">2</tspan></text>
<line x1="358.4" y1="287.2" x2="379.2" y2="287.2" stroke="#d83030" stroke-width="1.3"/>
<text x="383.1" y="290.7" font-size="11.5" fill="#231f20" text-anchor="start">LINCOMB<tspan font-size="8.6" dx="0.4" dy="-3.4">3</tspan></text>
<line x1="358.4" y1="301.1" x2="379.2" y2="301.1" stroke="#d080c8" stroke-width="1.3"/>
<text x="383.1" y="305.3" font-size="11.5" text-anchor="start" fill="#231f20" font-weight="normal" >CONTIN</text>
<line x1="358.4" y1="314.7" x2="379.2" y2="314.7" stroke="#40b8c8" stroke-width="1.3"/>
<text x="383.1" y="318.9" font-size="11.5" text-anchor="start" fill="#231f20" font-weight="normal" >K2D</text>
<line x1="358.4" y1="328.3" x2="379.2" y2="328.3" stroke="#e0a890" stroke-width="1.3"/>
<text x="383.1" y="331.8" font-size="11.5" text-anchor="start" fill="#231f20" font-weight="normal" >SELCON 2</text>
<circle cx="527.6" cy="324.19" r="3.5" fill="#111"/>
<circle cx="532.4" cy="319.59" r="3.5" fill="#111"/>
<circle cx="537.2" cy="310.31" r="3.5" fill="#111"/>
<circle cx="541.99" cy="299.21" r="3.5" fill="#111"/>
<circle cx="546.79" cy="286.21" r="3.5" fill="#111"/>
<circle cx="551.58" cy="273.68" r="3.5" fill="#111"/>
<circle cx="556.38" cy="265.53" r="3.5" fill="#111"/>
<circle cx="561.18" cy="265.53" r="3.5" fill="#111"/>
<circle cx="565.97" cy="269.75" r="3.5" fill="#111"/>
<circle cx="570.77" cy="283.38" r="3.5" fill="#111"/>
<circle cx="575.56" cy="307.31" r="3.5" fill="#111"/>
<circle cx="580.36" cy="334.11" r="3.5" fill="#111"/>
<circle cx="585.16" cy="358.21" r="3.5" fill="#111"/>
<circle cx="589.95" cy="373.99" r="3.5" fill="#111"/>
<circle cx="594.75" cy="382.43" r="3.5" fill="#111"/>
<circle cx="599.54" cy="384.75" r="3.5" fill="#111"/>
<circle cx="604.34" cy="381.22" r="3.5" fill="#111"/>
<circle cx="607.34" cy="375.67" r="3.5" fill="#111"/>
<circle cx="610.34" cy="373.97" r="3.5" fill="#111"/>
<circle cx="613.33" cy="372.09" r="3.5" fill="#111"/>
<circle cx="616.33" cy="373.19" r="3.5" fill="#111"/>
<circle cx="619.33" cy="372.84" r="3.5" fill="#111"/>
<circle cx="622.33" cy="370.55" r="3.5" fill="#111"/>
<circle cx="625.32" cy="370.66" r="3.5" fill="#111"/>
<circle cx="628.32" cy="368.66" r="3.5" fill="#111"/>
<circle cx="631.32" cy="369.18" r="3.5" fill="#111"/>
<circle cx="634.31" cy="368.22" r="3.5" fill="#111"/>
<circle cx="637.31" cy="365.1" r="3.5" fill="#111"/>
<circle cx="640.31" cy="364.06" r="3.5" fill="#111"/>
<circle cx="643.31" cy="360.9" r="3.5" fill="#111"/>
<circle cx="646.3" cy="360.77" r="3.5" fill="#111"/>
<circle cx="647.5" cy="359.64" r="3.5" fill="#111"/>
<circle cx="652.3" cy="357.11" r="3.5" fill="#111"/>
<circle cx="657.1" cy="351.2" r="3.5" fill="#111"/>
<circle cx="661.89" cy="344.87" r="3.5" fill="#111"/>
<circle cx="666.69" cy="338.79" r="3.5" fill="#111"/>
<circle cx="671.48" cy="334.62" r="3.5" fill="#111"/>
<circle cx="676.28" cy="330.99" r="3.5" fill="#111"/>
<clipPath id="cf"><rect x="527.8" y="244.75" width="150.4000000000001" height="148.75"/></clipPath>
<g clip-path="url(#cf)">
<path d="M528.08,329.15 L528.68,327.95 L529.28,326.75 L529.88,325.54 L530.48,324.32 L531.08,323.1 L531.68,321.87 L532.28,320.64 L532.88,319.41 L533.48,318.17 L534.08,316.93 L534.68,315.69 L535.28,314.43 L535.88,313.16 L536.48,311.88 L537.08,310.57 L537.68,309.25 L538.28,307.91 L538.87,306.56 L539.47,305.19 L540.07,303.8 L540.67,302.39 L541.27,300.96 L541.87,299.5 L542.47,298.01 L543.07,296.47 L543.67,294.89 L544.27,293.29 L544.87,291.68 L545.47,290.08 L546.07,288.49 L546.67,286.94 L547.27,285.4 L547.87,283.82 L548.47,282.24 L549.07,280.67 L549.67,279.14 L550.27,277.68 L550.86,276.3 L551.46,275.05 L552.06,273.9 L552.66,272.79 L553.26,271.71 L553.86,270.69 L554.46,269.74 L555.06,268.85 L555.66,268.06 L556.26,267.35 L556.86,266.72 L557.46,266.1 L558.06,265.51 L558.66,264.96 L559.26,264.46 L559.86,264.04 L560.46,263.7 L561.06,263.46 L561.66,263.3 L562.26,263.16 L562.85,263.05 L563.45,263 L564.05,263.07 L564.65,263.36 L565.25,263.83 L565.85,264.46 L566.45,265.24 L567.05,266.13 L567.65,267.12 L568.25,268.17 L568.85,269.26 L569.45,270.38 L570.05,271.61 L570.65,273.19 L571.25,275.02 L571.85,277.01 L572.45,279.09 L573.05,281.16 L573.65,283.24 L574.25,285.45 L574.84,287.73 L575.44,289.99 L576.04,292.14 L576.64,294.19 L577.24,296.26 L577.84,298.48 L578.44,300.98 L579.04,303.91 L579.64,307.24 L580.24,310.87 L580.84,314.66 L581.44,318.49 L582.04,322.24 L582.64,325.8 L583.24,329.37 L583.84,333.02 L584.44,336.66 L585.04,340.18 L585.64,343.49 L586.24,346.49 L586.83,349.12 L587.43,351.63 L588.03,354.06 L588.63,356.34 L589.23,358.43 L589.83,360.27 L590.43,361.82 L591.03,363.02 L591.63,364.05 L592.23,365.03 L592.83,365.95 L593.43,366.79 L594.03,367.56 L594.63,368.24 L595.23,368.84 L595.83,369.35 L596.43,369.75 L597.03,370.05 L597.63,370.28 L598.23,370.49 L598.82,370.69 L599.42,370.87 L600.02,371.03 L600.62,371.18 L601.22,371.3 L601.82,371.39 L602.42,371.46 L603.02,371.49 L603.62,371.5 L604.22,371.47 L604.82,371.41 L605.42,371.34 L606.02,371.24 L606.62,371.13 L607.22,371.01 L607.82,370.88 L608.42,370.74 L609.02,370.6 L609.62,370.47 L610.22,370.34 L610.81,370.23 L611.41,370.12 L612.01,370.03 L612.61,369.95 L613.21,369.87 L613.81,369.79 L614.41,369.71 L615.01,369.63 L615.61,369.55 L616.21,369.47 L616.81,369.4 L617.41,369.32 L618.01,369.24 L618.61,369.15 L619.21,369.07 L619.81,368.98 L620.41,368.9 L621.01,368.82 L621.61,368.74 L622.21,368.66 L622.8,368.57 L623.4,368.49 L624,368.41 L624.6,368.32 L625.2,368.23 L625.8,368.14 L626.4,368.05 L627,367.95 L627.6,367.85 L628.2,367.74 L628.8,367.63 L629.4,367.52 L630,367.4 L630.6,367.27 L631.2,367.14 L631.8,367 L632.4,366.85 L633,366.7 L633.6,366.54 L634.2,366.37 L634.79,366.19 L635.39,366 L635.99,365.81 L636.59,365.6 L637.19,365.39 L637.79,365.17 L638.39,364.94 L638.99,364.69 L639.59,364.42 L640.19,364.13 L640.79,363.83 L641.39,363.51 L641.99,363.18 L642.59,362.83 L643.19,362.47 L643.79,362.11 L644.39,361.73 L644.99,361.34 L645.59,360.95 L646.19,360.54 L646.78,360.14 L647.38,359.72 L647.98,359.3 L648.58,358.87 L649.18,358.42 L649.78,357.95 L650.38,357.47 L650.98,356.97 L651.58,356.47 L652.18,355.94 L652.78,355.41 L653.38,354.86 L653.98,354.3 L654.58,353.73 L655.18,353.14 L655.78,352.55 L656.38,351.94 L656.98,351.32 L657.58,350.68 L658.18,349.99 L658.77,349.26 L659.37,348.49 L659.97,347.7 L660.57,346.88 L661.17,346.05 L661.77,345.21 L662.37,344.37 L662.97,343.54 L663.57,342.72 L664.17,341.92 L664.77,341.16 L665.37,340.42 L665.97,339.73 L666.57,339.08 L667.17,338.49 L667.77,337.91 L668.37,337.37 L668.97,336.84 L669.57,336.33 L670.17,335.83 L670.76,335.35 L671.36,334.87 L671.96,334.4 L672.56,333.93 L673.16,333.47 L673.76,333 L674.36,332.53 L674.96,332.04 L675.56,331.55 L676.16,331.05 L676.76,330.53 L677.36,330" fill="none" stroke="#d06a9a" stroke-width="1.2" stroke-opacity="1.0" stroke-linejoin="round" stroke-linecap="round" />
<path d="M528.08,329.14 L528.68,327.93 L529.28,326.72 L529.88,325.51 L530.48,324.3 L531.08,323.09 L531.68,321.87 L532.28,320.64 L532.88,319.41 L533.48,318.17 L534.08,316.93 L534.68,315.67 L535.28,314.41 L535.88,313.14 L536.48,311.86 L537.08,310.57 L537.68,309.27 L538.28,307.95 L538.87,306.61 L539.47,305.25 L540.07,303.87 L540.67,302.45 L541.27,301 L541.87,299.51 L542.47,297.98 L543.07,296.41 L543.67,294.81 L544.27,293.18 L544.87,291.54 L545.47,289.88 L546.07,288.21 L546.67,286.54 L547.27,284.88 L547.87,283.24 L548.47,281.61 L549.07,280 L549.67,278.43 L550.27,276.89 L550.86,275.4 L551.46,273.96 L552.06,272.58 L552.66,271.26 L553.26,270.03 L553.86,268.9 L554.46,267.88 L555.06,266.98 L555.66,266.23 L556.26,265.63 L556.86,265.2 L557.46,264.93 L558.06,264.8 L558.66,264.78 L559.26,264.86 L559.86,265.02 L560.46,265.23 L561.06,265.48 L561.66,265.75 L562.26,266.05 L562.85,266.4 L563.45,266.82 L564.05,267.33 L564.65,267.94 L565.25,268.67 L565.85,269.56 L566.45,270.61 L567.05,271.82 L567.65,273.22 L568.25,274.79 L568.85,276.54 L569.45,278.47 L570.05,280.59 L570.65,282.9 L571.25,285.4 L571.85,288.07 L572.45,290.9 L573.05,293.87 L573.65,296.94 L574.25,300.11 L574.84,303.35 L575.44,306.65 L576.04,309.97 L576.64,313.32 L577.24,316.68 L577.84,320.05 L578.44,323.42 L579.04,326.78 L579.64,330.12 L580.24,333.45 L580.84,336.74 L581.44,339.99 L582.04,343.19 L582.64,346.3 L583.24,349.32 L583.84,352.23 L584.44,355 L585.04,357.61 L585.64,360.07 L586.24,362.37 L586.83,364.51 L587.43,366.5 L588.03,368.35 L588.63,370.07 L589.23,371.66 L589.83,373.13 L590.43,374.49 L591.03,375.74 L591.63,376.89 L592.23,377.94 L592.83,378.89 L593.43,379.74 L594.03,380.49 L594.63,381.14 L595.23,381.7 L595.83,382.18 L596.43,382.57 L597.03,382.87 L597.63,383.07 L598.23,383.18 L598.82,383.19 L599.42,383.09 L600.02,382.9 L600.62,382.64 L601.22,382.31 L601.82,381.92 L602.42,381.46 L603.02,380.96 L603.62,380.41 L604.22,379.81 L604.82,379.18 L605.42,378.52 L606.02,377.85 L606.62,377.17 L607.22,376.5 L607.82,375.9 L608.42,375.38 L609.02,374.95 L609.62,374.62 L610.22,374.4 L610.81,374.24 L611.41,374.15 L612.01,374.1 L612.61,374.07 L613.21,374.04 L613.81,374 L614.41,373.93 L615.01,373.86 L615.61,373.77 L616.21,373.67 L616.81,373.56 L617.41,373.44 L618.01,373.31 L618.61,373.17 L619.21,373.03 L619.81,372.88 L620.41,372.72 L621.01,372.56 L621.61,372.4 L622.21,372.23 L622.8,372.07 L623.4,371.91 L624,371.75 L624.6,371.6 L625.2,371.44 L625.8,371.29 L626.4,371.13 L627,370.98 L627.6,370.81 L628.2,370.65 L628.8,370.47 L629.4,370.29 L630,370.1 L630.6,369.9 L631.2,369.68 L631.8,369.46 L632.4,369.22 L633,368.98 L633.6,368.71 L634.2,368.44 L634.79,368.14 L635.39,367.84 L635.99,367.52 L636.59,367.18 L637.19,366.83 L637.79,366.47 L638.39,366.09 L638.99,365.7 L639.59,365.3 L640.19,364.89 L640.79,364.49 L641.39,364.09 L641.99,363.69 L642.59,363.3 L643.19,362.93 L643.79,362.57 L644.39,362.22 L644.99,361.9 L645.59,361.58 L646.19,361.29 L646.78,361.01 L647.38,360.75 L647.98,360.5 L648.58,360.26 L649.18,360.02 L649.78,359.76 L650.38,359.47 L650.98,359.13 L651.58,358.73 L652.18,358.27 L652.78,357.72 L653.38,357.09 L653.98,356.4 L654.58,355.66 L655.18,354.87 L655.78,354.06 L656.38,353.24 L656.98,352.42 L657.58,351.61 L658.18,350.8 L658.77,350.01 L659.37,349.23 L659.97,348.44 L660.57,347.66 L661.17,346.87 L661.77,346.08 L662.37,345.29 L662.97,344.49 L663.57,343.69 L664.17,342.9 L664.77,342.13 L665.37,341.38 L665.97,340.66 L666.57,339.98 L667.17,339.34 L667.77,338.72 L668.37,338.12 L668.97,337.55 L669.57,337 L670.17,336.45 L670.76,335.92 L671.36,335.4 L671.96,334.88 L672.56,334.36 L673.16,333.84 L673.76,333.32 L674.36,332.78 L674.96,332.24 L675.56,331.68 L676.16,331.1 L676.76,330.51 L677.36,329.88" fill="none" stroke="#40b8c8" stroke-width="1.2" stroke-opacity="1.0" stroke-linejoin="round" stroke-linecap="round" />
<path d="M528.08,329.14 L528.68,327.93 L529.28,326.72 L529.88,325.51 L530.48,324.3 L531.08,323.09 L531.68,321.87 L532.28,320.64 L532.88,319.41 L533.48,318.17 L534.08,316.93 L534.68,315.67 L535.28,314.41 L535.88,313.14 L536.48,311.86 L537.08,310.57 L537.68,309.27 L538.28,307.95 L538.87,306.61 L539.47,305.25 L540.07,303.87 L540.67,302.45 L541.27,301 L541.87,299.51 L542.47,297.98 L543.07,296.41 L543.67,294.81 L544.27,293.18 L544.87,291.54 L545.47,289.88 L546.07,288.21 L546.67,286.54 L547.27,284.88 L547.87,283.24 L548.47,281.61 L549.07,280 L549.67,278.43 L550.27,276.89 L550.86,275.4 L551.46,273.96 L552.06,272.58 L552.66,271.26 L553.26,270.03 L553.86,268.9 L554.46,267.88 L555.06,266.98 L555.66,266.23 L556.26,265.63 L556.86,265.2 L557.46,264.93 L558.06,264.8 L558.66,264.78 L559.26,264.86 L559.86,265.02 L560.46,265.23 L561.06,265.48 L561.66,265.75 L562.26,266.05 L562.85,266.4 L563.45,266.82 L564.05,267.33 L564.65,267.94 L565.25,268.67 L565.85,269.56 L566.45,270.61 L567.05,271.82 L567.65,273.22 L568.25,274.79 L568.85,276.54 L569.45,278.47 L570.05,280.59 L570.65,282.9 L571.25,285.4 L571.85,288.07 L572.45,290.9 L573.05,293.87 L573.65,296.94 L574.25,300.11 L574.84,303.35 L575.44,306.65 L576.04,309.97 L576.64,313.32 L577.24,316.68 L577.84,320.05 L578.44,323.42 L579.04,326.78 L579.64,330.12 L580.24,333.45 L580.84,336.74 L581.44,339.99 L582.04,343.19 L582.64,346.3 L583.24,349.33 L583.84,352.25 L584.44,355.04 L585.04,357.69 L585.64,360.19 L586.24,362.54 L586.83,364.73 L587.43,366.79 L588.03,368.7 L588.63,370.49 L589.23,372.15 L589.83,373.69 L590.43,375.12 L591.03,376.44 L591.63,377.66 L592.23,378.78 L592.83,379.79 L593.43,380.71 L594.03,381.55 L594.63,382.29 L595.23,382.95 L595.83,383.52 L596.43,384 L597.03,384.38 L597.63,384.65 L598.23,384.81 L598.82,384.86 L599.42,384.78 L600.02,384.58 L600.62,384.25 L601.22,383.82 L601.82,383.29 L602.42,382.68 L603.02,382 L603.62,381.26 L604.22,380.48 L604.82,379.66 L605.42,378.83 L606.02,378 L606.62,377.19 L607.22,376.41 L607.82,375.7 L608.42,375.06 L609.02,374.51 L609.62,374.06 L610.22,373.7 L610.81,373.42 L611.41,373.2 L612.01,373.03 L612.61,372.88 L613.21,372.76 L613.81,372.64 L614.41,372.51 L615.01,372.38 L615.61,372.23 L616.21,372.09 L616.81,371.93 L617.41,371.78 L618.01,371.63 L618.61,371.48 L619.21,371.34 L619.81,371.19 L620.41,371.03 L621.01,370.87 L621.61,370.71 L622.21,370.55 L622.8,370.38 L623.4,370.22 L624,370.07 L624.6,369.91 L625.2,369.76 L625.8,369.61 L626.4,369.45 L627,369.29 L627.6,369.13 L628.2,368.97 L628.8,368.79 L629.4,368.61 L630,368.42 L630.6,368.22 L631.2,368.01 L631.8,367.79 L632.4,367.55 L633,367.3 L633.6,367.04 L634.2,366.77 L634.79,366.48 L635.39,366.17 L635.99,365.85 L636.59,365.52 L637.19,365.17 L637.79,364.81 L638.39,364.43 L638.99,364.04 L639.59,363.64 L640.19,363.24 L640.79,362.84 L641.39,362.44 L641.99,362.05 L642.59,361.66 L643.19,361.29 L643.79,360.93 L644.39,360.59 L644.99,360.26 L645.59,359.95 L646.19,359.66 L646.78,359.38 L647.38,359.13 L647.98,358.88 L648.58,358.65 L649.18,358.41 L649.78,358.15 L650.38,357.86 L650.98,357.53 L651.58,357.14 L652.18,356.67 L652.78,356.13 L653.38,355.5 L653.98,354.82 L654.58,354.08 L655.18,353.3 L655.78,352.5 L656.38,351.68 L656.98,350.86 L657.58,350.05 L658.18,349.25 L658.77,348.47 L659.37,347.68 L659.97,346.91 L660.57,346.13 L661.17,345.35 L661.77,344.56 L662.37,343.77 L662.97,342.97 L663.57,342.18 L664.17,341.4 L664.77,340.63 L665.37,339.89 L665.97,339.18 L666.57,338.5 L667.17,337.87 L667.77,337.28 L668.37,336.74 L668.97,336.22 L669.57,335.74 L670.17,335.29 L670.76,334.86 L671.36,334.44 L671.96,334.03 L672.56,333.63 L673.16,333.23 L673.76,332.83 L674.36,332.42 L674.96,331.99 L675.56,331.55 L676.16,331.08 L676.76,330.59 L677.36,330.06" fill="none" stroke="#1a1a1a" stroke-width="1.1" stroke-opacity="1.0" stroke-linejoin="round" stroke-linecap="round" />
</g>
<rect x="527.8" y="244.75" width="150.4" height="148.75" fill="none" stroke="#333" stroke-width="1.3"/>
<line x1="532.4" y1="393.5" x2="532.4" y2="390" stroke="#333" stroke-width="1.2"/>
<line x1="556.38" y1="393.5" x2="556.38" y2="390" stroke="#333" stroke-width="1.2"/>
<line x1="580.36" y1="393.5" x2="580.36" y2="390" stroke="#333" stroke-width="1.2"/>
<line x1="604.34" y1="393.5" x2="604.34" y2="390" stroke="#333" stroke-width="1.2"/>
<line x1="628.32" y1="393.5" x2="628.32" y2="390" stroke="#333" stroke-width="1.2"/>
<line x1="652.3" y1="393.5" x2="652.3" y2="390" stroke="#333" stroke-width="1.2"/>
<line x1="527.8" y1="266.8" x2="531.8" y2="266.8" stroke="#333" stroke-width="1.2"/>
<line x1="527.8" y1="287.9" x2="531.8" y2="287.9" stroke="#333" stroke-width="1.2"/>
<line x1="527.8" y1="309" x2="531.8" y2="309" stroke="#333" stroke-width="1.2"/>
<line x1="527.8" y1="330.1" x2="531.8" y2="330.1" stroke="#333" stroke-width="1.2"/>
<line x1="527.8" y1="351.2" x2="531.8" y2="351.2" stroke="#333" stroke-width="1.2"/>
<line x1="527.8" y1="372.3" x2="531.8" y2="372.3" stroke="#333" stroke-width="1.2"/>
<text x="531.4" y="409.3" font-size="11.5" text-anchor="middle" fill="#231f20" font-weight="normal" >180</text>
<text x="555.38" y="409.3" font-size="11.5" text-anchor="middle" fill="#231f20" font-weight="normal" >190</text>
<text x="579.36" y="409.3" font-size="11.5" text-anchor="middle" fill="#231f20" font-weight="normal" >200</text>
<text x="603.34" y="409.3" font-size="11.5" text-anchor="middle" fill="#231f20" font-weight="normal" >210</text>
<text x="627.32" y="409.3" font-size="11.5" text-anchor="middle" fill="#231f20" font-weight="normal" >220</text>
<text x="651.3" y="409.3" font-size="11.5" text-anchor="middle" fill="#231f20" font-weight="normal" >230</text>
<text x="675.28" y="409.3" font-size="11.5" text-anchor="middle" fill="#231f20" font-weight="normal" >240</text>
<text x="521.6" y="249.6" font-size="11.5" text-anchor="end" fill="#231f20" font-weight="normal" >20,000</text>
<text x="521.6" y="270.7" font-size="11.5" text-anchor="end" fill="#231f20" font-weight="normal" >15,000</text>
<text x="521.6" y="291.8" font-size="11.5" text-anchor="end" fill="#231f20" font-weight="normal" >10,000</text>
<text x="521.6" y="312.9" font-size="11.5" text-anchor="end" fill="#231f20" font-weight="normal" >5,000</text>
<text x="521.6" y="334" font-size="11.5" text-anchor="end" fill="#231f20" font-weight="normal" >0</text>
<text x="521.6" y="355.1" font-size="11.5" text-anchor="end" fill="#231f20" font-weight="normal" >−5,000</text>
<text x="521.6" y="376.2" font-size="11.5" text-anchor="end" fill="#231f20" font-weight="normal" >−10,000</text>
<text x="521.6" y="397.3" font-size="11.5" text-anchor="end" fill="#231f20" font-weight="normal" >−15,000</text>
<text x="605.3" y="427.2" font-size="11.5" text-anchor="middle" fill="#231f20" font-weight="normal" textLength="82.3" lengthAdjust="spacingAndGlyphs" >Wavelength, nm</text>
<text transform="translate(475.5,317.8) rotate(-90)" font-size="11.6" text-anchor="middle" fill="#231f20">[θ], deg cm<tspan font-size="8.6" dy="-4.5">2</tspan><tspan dy="4.5"> dmol</tspan><tspan font-size="8.6" dy="-4.5">−1</tspan></text>
<line x1="591.7" y1="279.5" x2="612.8" y2="279.5" stroke="#d06a9a" stroke-width="1.3"/>
<text x="617" y="282.8" font-size="11.5" text-anchor="start" fill="#231f20" font-weight="normal" >SELCON 3</text>
<line x1="591.7" y1="295.8" x2="612.8" y2="295.8" stroke="#40b8c8" stroke-width="1.3"/>
<text x="617" y="299.2" font-size="11.5" text-anchor="start" fill="#231f20" font-weight="normal" >CDSSTR</text>
<line x1="591.7" y1="309.1" x2="612.8" y2="309.1" stroke="#1a1a1a" stroke-width="1.3"/>
<text x="617" y="312.6" font-size="11.5" text-anchor="start" fill="#231f20" font-weight="normal" >CONTIN</text>
</svg>
</body></html>
